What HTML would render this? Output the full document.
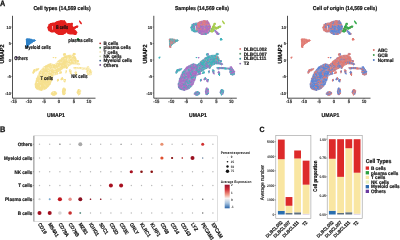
<!DOCTYPE html><html><head><meta charset="utf-8"><style>html,body{margin:0;padding:0;background:#fff;width:400px;height:240px;overflow:hidden}svg{display:block;will-change:transform;text-rendering:geometricPrecision}</style></head><body><div id="w"><svg width="400" height="240" viewBox="0 0 400 240" font-family="Liberation Sans, sans-serif" font-weight="bold">
<rect width="400" height="240" fill="#fff"/>
<text x="0.00" y="6.16" font-size="7.92" text-anchor="start" fill="#111"  textLength="5.20" lengthAdjust="spacingAndGlyphs" stroke="#111" stroke-width="0.28">A</text>
<path d="M52.6,27.0C52.8,25.8 53.5,23.6 54.5,22.6C55.5,21.6 58.0,20.8 59.5,20.5C61.0,20.2 63.4,20.2 64.5,20.8C65.6,21.3 66.5,22.6 67.0,23.9C67.5,25.2 67.8,28.1 67.6,29.5C67.4,30.9 66.8,32.4 65.8,33.2C64.7,34.1 62.2,35.1 60.8,35.1C59.2,35.1 56.9,33.9 55.8,33.2C54.6,32.6 53.7,31.7 53.2,30.8C52.8,29.8 52.4,28.2 52.6,27.0Z" fill="#e3211f" opacity="1.0"/>
<path d="M47.6,27.6C47.8,26.7 48.3,24.9 49.0,24.2C49.7,23.5 51.2,23.0 52.0,22.8C52.8,22.6 54.2,22.3 54.5,22.6C54.8,22.9 54.3,24.0 54.0,24.5C53.7,25.0 52.8,25.4 52.5,25.8C52.2,26.2 51.8,26.9 51.8,27.5C51.8,28.1 52.2,28.9 52.5,29.5C52.8,30.1 53.9,31.1 54.0,31.5C54.1,31.9 53.6,32.5 53.0,32.5C52.4,32.5 50.8,31.9 50.0,31.5C49.2,31.1 48.4,30.6 48.0,30.0C47.6,29.4 47.5,28.5 47.6,27.6Z" fill="#e3211f" opacity="1.0"/>
<path d="M67.0,31.5C66.9,30.7 68.4,28.3 69.0,27.0C69.6,25.7 70.7,23.5 71.3,23.0C71.9,22.5 73.0,23.0 73.0,23.6C73.0,24.2 71.3,26.7 71.5,27.2C71.7,27.7 73.1,27.0 74.0,26.8C74.9,26.6 77.2,25.5 77.8,25.6C78.4,25.7 78.8,26.6 78.0,27.2C77.2,27.8 73.8,28.7 72.5,29.5C71.2,30.3 70.3,32.2 69.5,32.5C68.7,32.8 67.1,32.3 67.0,31.5Z" fill="#e3211f" opacity="1.0"/>
<path d="M71.5,30.0C71.7,29.8 72.2,29.9 73.0,30.5C73.8,31.1 76.2,33.3 76.5,34.0C76.8,34.7 75.8,35.3 75.0,35.0C74.2,34.7 72.0,32.5 71.5,31.8C71.0,31.1 71.3,30.2 71.5,30.0Z" fill="#e3211f" opacity="1.0"/>
<path d="M79.0,21.0C78.8,20.5 79.6,20.4 80.0,20.8C80.4,21.2 81.6,23.1 81.8,23.6C82.0,24.1 81.4,24.7 81.0,24.3C80.6,23.9 79.2,21.5 79.0,21.0Z" fill="#e3211f" opacity="1.0"/>
<path d="M79.2,39.5C79.2,39.6 79.2,39.8 79.1,39.9C79.1,40.0 78.9,40.2 78.8,40.3C78.8,40.4 78.6,40.5 78.5,40.5C78.3,40.6 78.1,40.6 78.0,40.6C77.9,40.6 77.7,40.6 77.5,40.5C77.4,40.5 77.2,40.4 77.2,40.3C77.1,40.2 76.9,40.0 76.9,39.9C76.8,39.8 76.8,39.6 76.8,39.5C76.8,39.4 76.8,39.2 76.9,39.1C76.9,39.0 77.1,38.8 77.2,38.7C77.2,38.6 77.4,38.5 77.5,38.5C77.7,38.4 77.9,38.4 78.0,38.4C78.1,38.4 78.3,38.4 78.5,38.5C78.6,38.5 78.8,38.6 78.8,38.7C78.9,38.8 79.1,39.0 79.1,39.1C79.2,39.2 79.2,39.4 79.2,39.5Z" fill="#2f9a48" opacity="1.0"/>
<path d="M26.3,38.5C27.1,37.9 29.5,38.7 31.0,39.0C32.5,39.3 35.9,39.8 36.2,40.2C36.5,40.7 33.9,41.4 33.0,42.0C32.1,42.6 30.7,43.5 30.0,44.0C29.3,44.5 28.6,44.4 28.3,45.0C28.0,45.6 28.3,47.4 28.0,47.7C27.7,48.0 26.9,48.0 26.6,47.3C26.3,46.6 26.0,44.3 26.0,43.0C26.0,41.7 25.6,39.1 26.3,38.5Z" fill="#2f82c8" opacity="1.0"/>
<path d="M17.2,57.5C17.2,57.6 17.2,57.7 17.1,57.8C17.1,57.8 17.1,57.9 17.0,58.0C16.9,58.1 16.8,58.1 16.8,58.1C16.7,58.2 16.6,58.2 16.5,58.2C16.4,58.2 16.3,58.2 16.2,58.1C16.2,58.1 16.1,58.1 16.0,58.0C15.9,57.9 15.9,57.8 15.9,57.8C15.8,57.7 15.8,57.6 15.8,57.5C15.8,57.4 15.8,57.3 15.9,57.2C15.9,57.2 15.9,57.1 16.0,57.0C16.1,56.9 16.2,56.9 16.2,56.9C16.3,56.8 16.4,56.8 16.5,56.8C16.6,56.8 16.7,56.8 16.8,56.9C16.8,56.9 16.9,56.9 17.0,57.0C17.1,57.1 17.1,57.2 17.1,57.2C17.2,57.3 17.2,57.4 17.2,57.5Z" fill="#7a4aa0" opacity="1.0"/>
<path d="M34.8,85.0C34.9,83.4 35.9,79.9 36.5,78.0C37.1,76.1 38.0,74.2 39.0,72.5C40.0,70.8 41.9,68.3 43.5,67.0C45.1,65.7 47.9,63.9 49.5,63.5C51.1,63.1 53.2,63.8 54.0,64.5C54.8,65.2 54.6,66.6 54.5,68.0C54.4,69.4 53.7,72.5 53.5,74.0C53.3,75.5 53.4,76.7 53.0,78.0C52.6,79.3 51.7,81.7 51.0,83.0C50.3,84.3 49.5,86.0 48.5,87.0C47.5,88.0 45.4,89.5 44.0,90.0C42.6,90.5 40.7,90.7 39.5,90.5C38.3,90.3 36.7,89.3 36.0,88.5C35.3,87.7 34.7,86.6 34.8,85.0Z" fill="#f6e298" opacity="1.0"/>
<path d="M52.5,66.5C52.8,64.9 55.1,64.0 56.2,63.0C57.4,62.0 58.9,60.5 60.0,59.5C61.1,58.5 62.3,57.3 63.8,56.6C65.2,55.9 67.7,54.8 69.4,54.7C71.1,54.6 73.9,55.4 75.0,56.0C76.1,56.6 76.3,58.1 76.5,59.0C76.7,59.9 76.8,61.3 76.0,62.2C75.2,63.1 73.1,64.0 71.2,65.0C69.4,66.0 65.7,67.7 63.8,68.8C61.8,69.8 59.4,71.3 58.0,72.0C56.6,72.7 55.2,74.2 54.4,73.4C53.6,72.6 52.2,68.1 52.5,66.5Z" fill="#f6e399" opacity="1.0"/>
<path d="M86.8,67.0C87.1,66.2 88.0,66.4 88.5,66.7C89.0,67.0 89.5,68.2 90.0,69.0C90.5,69.8 91.8,71.1 92.0,72.0C92.2,72.9 92.1,74.5 91.5,75.0C90.9,75.5 88.8,75.5 88.0,75.0C87.2,74.5 86.7,73.2 86.5,72.0C86.3,70.8 86.5,67.8 86.8,67.0Z" fill="#f8e7a7" opacity="1.0"/>
<path d="M32.5,73.0C32.5,72.4 32.8,70.7 33.5,70.0C34.2,69.3 36.1,68.7 37.0,68.5C37.9,68.3 39.4,68.4 39.5,68.6C39.6,68.8 38.7,69.6 38.0,70.0C37.3,70.4 35.7,70.9 35.0,71.5C34.3,72.1 33.9,73.8 33.5,74.0C33.1,74.2 32.5,73.6 32.5,73.0Z" fill="#f6e294" opacity="1.0"/>
<path d="M73.0,61.5C74.0,61.4 78.5,62.8 79.5,63.3C80.5,63.8 80.5,64.9 79.5,65.0C78.5,65.1 74.0,64.3 73.0,63.8C72.0,63.3 72.0,61.6 73.0,61.5Z" fill="#f8e8a9" opacity="1.0"/>
<path d="M74.5,67.0C76.4,66.8 85.1,67.4 87.0,67.8C88.9,68.2 88.9,69.2 87.0,69.4C85.1,69.6 76.4,69.2 74.5,68.8C72.6,68.4 72.6,67.2 74.5,67.0Z" fill="#f8e8aa" opacity="1.0"/>
<path d="M75.3,53.9C75.3,54.0 75.3,54.2 75.2,54.3C75.1,54.4 75.0,54.6 74.9,54.7C74.8,54.8 74.6,54.9 74.5,54.9C74.4,55.0 74.1,55.0 74.0,55.0C73.9,55.0 73.6,55.0 73.5,54.9C73.4,54.9 73.2,54.8 73.1,54.7C73.0,54.6 72.9,54.4 72.8,54.3C72.7,54.2 72.7,54.0 72.7,53.9C72.7,53.8 72.7,53.6 72.8,53.5C72.9,53.4 73.0,53.2 73.1,53.1C73.2,53.0 73.4,52.9 73.5,52.9C73.6,52.8 73.9,52.8 74.0,52.8C74.1,52.8 74.4,52.8 74.5,52.9C74.6,52.9 74.8,53.0 74.9,53.1C75.0,53.2 75.1,53.4 75.2,53.5C75.3,53.6 75.3,53.8 75.3,53.9Z" fill="#f6e08e" opacity="1.0"/>
<path d="M66.1,54.0C66.1,54.1 66.1,54.3 66.0,54.4C66.0,54.5 65.8,54.6 65.7,54.7C65.6,54.8 65.4,54.9 65.2,55.0C65.1,55.1 64.8,55.2 64.7,55.2C64.5,55.2 64.2,55.2 64.0,55.2C63.9,55.2 63.6,55.2 63.5,55.1C63.4,55.1 63.2,55.0 63.1,54.9C63.0,54.8 62.9,54.7 62.9,54.6C62.9,54.5 62.9,54.3 63.0,54.2C63.0,54.1 63.2,54.0 63.3,53.9C63.4,53.8 63.6,53.7 63.8,53.6C63.9,53.5 64.2,53.4 64.3,53.4C64.5,53.4 64.8,53.4 65.0,53.4C65.1,53.4 65.4,53.4 65.5,53.5C65.6,53.5 65.8,53.6 65.9,53.7C66.0,53.8 66.1,53.9 66.1,54.0Z" fill="#f6e08e" opacity="1.0"/>
<path d="M71.4,71.3C71.4,71.6 71.5,72.0 71.6,72.2C71.6,72.5 71.6,72.9 71.6,73.1C71.6,73.3 71.5,73.6 71.5,73.7C71.4,73.9 71.3,74.0 71.2,74.0C71.1,74.0 70.9,74.0 70.8,73.9C70.7,73.8 70.5,73.6 70.4,73.4C70.2,73.3 70.1,72.9 70.0,72.7C69.8,72.4 69.7,72.0 69.6,71.7C69.6,71.4 69.5,71.0 69.4,70.8C69.4,70.5 69.4,70.1 69.4,69.9C69.4,69.7 69.5,69.4 69.5,69.3C69.6,69.1 69.7,69.0 69.8,69.0C69.9,69.0 70.1,69.0 70.2,69.1C70.3,69.2 70.5,69.4 70.6,69.6C70.8,69.7 70.9,70.1 71.0,70.3C71.2,70.6 71.3,71.0 71.4,71.3Z" fill="#f6e297" opacity="1.0"/>
<path d="M76.9,73.0C76.9,73.3 77.0,73.7 77.1,73.9C77.1,74.2 77.1,74.6 77.1,74.8C77.1,75.0 77.0,75.3 77.0,75.4C76.9,75.6 76.8,75.7 76.7,75.7C76.6,75.7 76.4,75.7 76.3,75.6C76.2,75.5 76.0,75.3 75.9,75.1C75.7,75.0 75.6,74.6 75.5,74.4C75.3,74.1 75.2,73.7 75.1,73.4C75.1,73.1 75.0,72.7 74.9,72.5C74.9,72.2 74.9,71.8 74.9,71.6C74.9,71.4 75.0,71.1 75.0,71.0C75.1,70.8 75.2,70.7 75.3,70.7C75.4,70.7 75.6,70.7 75.7,70.8C75.8,70.9 76.0,71.1 76.1,71.3C76.3,71.4 76.4,71.8 76.5,72.0C76.7,72.3 76.8,72.7 76.9,73.0Z" fill="#f8e8ab" opacity="1.0"/>
<path d="M63.3,78.8C63.3,78.9 63.3,79.1 63.2,79.2C63.1,79.4 63.0,79.6 62.9,79.7C62.8,79.8 62.6,79.9 62.5,80.0C62.4,80.0 62.1,80.0 62.0,80.0C61.9,80.0 61.6,80.0 61.5,80.0C61.4,79.9 61.2,79.8 61.1,79.7C61.0,79.6 60.9,79.4 60.8,79.2C60.7,79.1 60.7,78.9 60.7,78.8C60.7,78.6 60.7,78.4 60.8,78.3C60.9,78.1 61.0,77.9 61.1,77.8C61.2,77.7 61.4,77.6 61.5,77.5C61.6,77.5 61.9,77.5 62.0,77.5C62.1,77.5 62.4,77.5 62.5,77.5C62.6,77.6 62.8,77.7 62.9,77.8C63.0,77.9 63.1,78.1 63.2,78.3C63.3,78.4 63.3,78.6 63.3,78.8Z" fill="#f7e39a" opacity="1.0"/>
<path d="M65.7,80.5C65.7,80.7 65.7,80.9 65.6,81.1C65.6,81.3 65.4,81.5 65.3,81.6C65.3,81.8 65.1,81.9 65.0,82.0C64.8,82.0 64.6,82.1 64.5,82.1C64.4,82.1 64.2,82.0 64.0,82.0C63.9,81.9 63.7,81.8 63.7,81.6C63.6,81.5 63.4,81.3 63.4,81.1C63.3,80.9 63.3,80.7 63.3,80.5C63.3,80.3 63.3,80.1 63.4,79.9C63.4,79.7 63.6,79.5 63.7,79.4C63.7,79.2 63.9,79.1 64.0,79.0C64.2,79.0 64.4,78.9 64.5,78.9C64.6,78.9 64.8,79.0 65.0,79.0C65.1,79.1 65.3,79.2 65.3,79.4C65.4,79.5 65.6,79.7 65.6,79.9C65.7,80.1 65.7,80.3 65.7,80.5Z" fill="#f7e59f" opacity="1.0"/>
<path d="M58.1,73.4C58.1,73.5 58.1,73.7 58.0,73.8C58.0,73.9 57.8,74.1 57.7,74.2C57.5,74.3 57.3,74.5 57.0,74.6C56.8,74.7 56.5,74.9 56.3,75.0C56.0,75.0 55.7,75.1 55.5,75.2C55.2,75.2 54.9,75.3 54.7,75.3C54.5,75.3 54.3,75.2 54.2,75.2C54.1,75.1 54.0,75.0 53.9,75.0C53.9,74.9 53.9,74.7 54.0,74.6C54.0,74.5 54.2,74.3 54.3,74.2C54.5,74.1 54.7,73.9 55.0,73.8C55.2,73.7 55.5,73.5 55.7,73.4C56.0,73.4 56.3,73.3 56.5,73.2C56.8,73.2 57.1,73.1 57.3,73.1C57.5,73.1 57.7,73.2 57.8,73.2C57.9,73.3 58.0,73.4 58.1,73.4Z" fill="#f7e5a1" opacity="1.0"/>
<path d="M61.9,72.0C61.9,72.1 61.9,72.2 61.9,72.3C61.9,72.4 61.8,72.6 61.7,72.7C61.6,72.8 61.4,72.9 61.3,73.0C61.2,73.1 60.9,73.2 60.8,73.3C60.6,73.3 60.4,73.4 60.2,73.4C60.1,73.4 59.8,73.4 59.7,73.4C59.6,73.4 59.4,73.3 59.3,73.3C59.2,73.2 59.1,73.1 59.1,73.0C59.1,72.9 59.1,72.8 59.1,72.7C59.1,72.6 59.2,72.4 59.3,72.3C59.4,72.2 59.6,72.1 59.7,72.0C59.8,71.9 60.1,71.8 60.2,71.7C60.4,71.7 60.6,71.6 60.8,71.6C60.9,71.6 61.2,71.6 61.3,71.6C61.4,71.6 61.6,71.7 61.7,71.7C61.8,71.8 61.9,71.9 61.9,72.0Z" fill="#f6e297" opacity="1.0"/>
<path d="M58.8,80.3C58.7,80.4 58.6,80.6 58.5,80.7C58.4,80.8 58.3,81.0 58.2,81.1C58.1,81.1 58.0,81.2 57.9,81.2C57.8,81.3 57.6,81.3 57.6,81.2C57.5,81.2 57.4,81.1 57.3,81.0C57.2,80.9 57.2,80.8 57.2,80.7C57.1,80.5 57.1,80.4 57.1,80.2C57.1,80.1 57.2,79.9 57.2,79.7C57.3,79.6 57.4,79.4 57.5,79.3C57.6,79.2 57.7,79.0 57.8,78.9C57.9,78.9 58.0,78.8 58.1,78.8C58.2,78.7 58.4,78.7 58.4,78.8C58.5,78.8 58.6,78.9 58.7,79.0C58.8,79.1 58.8,79.2 58.8,79.3C58.9,79.5 58.9,79.6 58.9,79.8C58.9,79.9 58.8,80.1 58.8,80.3Z" fill="#f6e08e" opacity="1.0"/>
<path d="M54.0,57.4C54.0,57.5 54.0,57.5 54.0,57.6C53.9,57.6 53.9,57.7 53.9,57.8C53.8,57.8 53.7,57.8 53.7,57.9C53.6,57.9 53.6,57.9 53.5,57.9C53.4,57.9 53.4,57.9 53.3,57.9C53.3,57.8 53.2,57.8 53.1,57.8C53.1,57.7 53.1,57.6 53.0,57.6C53.0,57.5 53.0,57.5 53.0,57.4C53.0,57.3 53.0,57.3 53.0,57.2C53.1,57.2 53.1,57.1 53.1,57.0C53.2,57.0 53.3,57.0 53.3,56.9C53.4,56.9 53.4,56.9 53.5,56.9C53.6,56.9 53.6,56.9 53.7,56.9C53.7,57.0 53.8,57.0 53.9,57.0C53.9,57.1 53.9,57.2 54.0,57.2C54.0,57.3 54.0,57.3 54.0,57.4Z" fill="#f6e08e" opacity="1.0"/>
<path d="M56.3,57.4C56.3,57.5 56.3,57.5 56.3,57.6C56.2,57.6 56.2,57.7 56.2,57.8C56.1,57.8 56.0,57.8 56.0,57.9C55.9,57.9 55.9,57.9 55.8,57.9C55.7,57.9 55.7,57.9 55.6,57.9C55.6,57.8 55.5,57.8 55.4,57.8C55.4,57.7 55.4,57.6 55.3,57.6C55.3,57.5 55.3,57.5 55.3,57.4C55.3,57.3 55.3,57.3 55.3,57.2C55.4,57.2 55.4,57.1 55.4,57.0C55.5,57.0 55.6,57.0 55.6,56.9C55.7,56.9 55.7,56.9 55.8,56.9C55.9,56.9 55.9,56.9 56.0,56.9C56.0,57.0 56.1,57.0 56.2,57.0C56.2,57.1 56.2,57.2 56.3,57.2C56.3,57.3 56.3,57.3 56.3,57.4Z" fill="#f6e08e" opacity="1.0"/>
<path d="M78.9,61.3C78.9,61.4 78.9,61.6 78.8,61.7C78.8,61.8 78.7,61.9 78.6,62.0C78.5,62.1 78.3,62.2 78.2,62.2C78.1,62.3 77.9,62.3 77.8,62.3C77.7,62.3 77.5,62.3 77.4,62.2C77.3,62.2 77.1,62.1 77.0,62.0C76.9,61.9 76.8,61.8 76.8,61.7C76.7,61.6 76.7,61.4 76.7,61.3C76.7,61.2 76.7,61.0 76.8,60.9C76.8,60.8 76.9,60.7 77.0,60.6C77.1,60.5 77.3,60.4 77.4,60.4C77.5,60.3 77.7,60.3 77.8,60.3C77.9,60.3 78.1,60.3 78.2,60.4C78.3,60.4 78.5,60.5 78.6,60.6C78.7,60.7 78.8,60.8 78.8,60.9C78.9,61.0 78.9,61.2 78.9,61.3Z" fill="#f6e08e" opacity="1.0"/>
<path d="M68.0,66.9C68.1,67.0 68.1,67.1 68.1,67.2C68.1,67.3 68.1,67.5 68.0,67.6C68.0,67.7 67.9,67.8 67.8,67.9C67.7,68.0 67.5,68.1 67.4,68.2C67.3,68.3 67.1,68.3 67.0,68.4C66.8,68.4 66.7,68.4 66.5,68.4C66.4,68.4 66.3,68.4 66.2,68.3C66.1,68.3 66.0,68.2 66.0,68.1C65.9,68.0 65.9,67.9 65.9,67.8C65.9,67.7 65.9,67.5 66.0,67.4C66.0,67.3 66.1,67.2 66.2,67.1C66.3,67.0 66.5,66.9 66.6,66.8C66.7,66.7 66.9,66.7 67.0,66.6C67.2,66.6 67.3,66.6 67.5,66.6C67.6,66.6 67.7,66.6 67.8,66.7C67.9,66.7 68.0,66.8 68.0,66.9Z" fill="#f6e08e" opacity="1.0"/>
<path d="M66.8,72.1C66.8,72.3 66.7,72.5 66.6,72.7C66.6,72.8 66.5,73.0 66.4,73.1C66.3,73.3 66.2,73.4 66.1,73.4C66.0,73.5 65.8,73.5 65.7,73.5C65.6,73.5 65.5,73.4 65.5,73.3C65.4,73.2 65.3,73.1 65.3,72.9C65.2,72.8 65.2,72.6 65.2,72.4C65.2,72.3 65.2,72.0 65.2,71.9C65.2,71.7 65.3,71.5 65.4,71.3C65.4,71.2 65.5,71.0 65.6,70.9C65.7,70.7 65.8,70.6 65.9,70.6C66.0,70.5 66.2,70.5 66.3,70.5C66.4,70.5 66.5,70.6 66.5,70.7C66.6,70.8 66.7,70.9 66.7,71.1C66.8,71.2 66.8,71.4 66.8,71.6C66.8,71.7 66.8,72.0 66.8,72.1Z" fill="#f7e5a1" opacity="1.0"/>
<path d="M57.0,92.8C57.0,93.0 57.0,93.3 56.9,93.6C56.8,93.8 56.5,94.1 56.3,94.3C56.1,94.5 55.7,94.8 55.4,94.9C55.1,95.1 54.6,95.2 54.2,95.3C53.9,95.3 53.4,95.4 53.1,95.3C52.7,95.3 52.3,95.2 52.0,95.1C51.7,95.0 51.4,94.7 51.2,94.6C51.0,94.4 50.9,94.1 50.8,93.8C50.8,93.6 50.8,93.3 50.9,93.0C51.0,92.8 51.3,92.5 51.5,92.3C51.7,92.1 52.1,91.8 52.4,91.7C52.7,91.5 53.2,91.4 53.6,91.3C53.9,91.3 54.4,91.2 54.7,91.3C55.1,91.3 55.5,91.4 55.8,91.5C56.1,91.6 56.4,91.9 56.6,92.0C56.8,92.2 56.9,92.5 57.0,92.8Z" fill="#f6e192" opacity="1.0"/>
<path d="M65.8,91.2C65.8,91.7 65.7,92.3 65.7,92.7C65.6,93.1 65.4,93.6 65.2,93.9C65.1,94.2 64.8,94.6 64.6,94.8C64.4,94.9 64.1,95.0 63.9,95.0C63.7,95.0 63.4,94.9 63.2,94.8C63.0,94.6 62.7,94.2 62.6,93.9C62.4,93.6 62.2,93.1 62.1,92.7C62.1,92.3 62.0,91.7 62.0,91.2C62.0,90.8 62.1,90.2 62.1,89.8C62.2,89.4 62.4,88.9 62.6,88.6C62.7,88.3 63.0,87.9 63.2,87.7C63.4,87.6 63.7,87.5 63.9,87.5C64.1,87.5 64.4,87.6 64.6,87.7C64.8,87.9 65.1,88.3 65.2,88.6C65.4,88.9 65.6,89.4 65.7,89.8C65.7,90.2 65.8,90.8 65.8,91.2Z" fill="#f6e296" opacity="1.0"/>
<path d="M81.0,92.0C81.0,92.3 80.9,92.8 80.8,93.1C80.8,93.5 80.6,93.9 80.4,94.1C80.3,94.4 80.0,94.6 79.8,94.8C79.6,94.9 79.2,95.0 79.0,95.0C78.8,95.0 78.4,94.9 78.2,94.8C78.0,94.6 77.7,94.4 77.6,94.1C77.4,93.9 77.2,93.5 77.2,93.1C77.1,92.8 77.0,92.3 77.0,92.0C77.0,91.7 77.1,91.2 77.2,90.9C77.2,90.5 77.4,90.1 77.6,89.9C77.7,89.6 78.0,89.4 78.2,89.2C78.4,89.1 78.8,89.0 79.0,89.0C79.2,89.0 79.6,89.1 79.8,89.2C80.0,89.4 80.3,89.6 80.4,89.9C80.6,90.1 80.8,90.5 80.8,90.9C80.9,91.2 81.0,91.7 81.0,92.0Z" fill="#f7e39a" opacity="1.0"/>
<path d="M66.0,24.0C66.6,22.8 69.0,22.9 70.0,23.0C71.0,23.1 71.9,24.2 72.5,25.0C73.1,25.8 73.2,27.4 74.0,28.5C74.8,29.6 77.5,31.6 77.5,32.5C77.5,33.4 75.4,34.3 74.0,34.5C72.6,34.7 69.2,34.5 68.0,34.0C66.8,33.5 66.3,32.5 66.0,31.0C65.7,29.5 65.4,25.2 66.0,24.0Z" fill="#e3211f"/>
<path d="M66.8 26.1h0M51.6 30.8h0M70.2 31.1h0M50.6 28.7h0M57.9 29.9h0M65.3 23.1h0M52.9 31.6h0M64.3 27.5h0M50.6 25.7h0M60.7 26.9h0M72.5 27.1h0M67.2 27.5h0M69.5 27.3h0M70.0 27.8h0M56.3 22.5h0M53.9 27.3h0M57.0 30.8h0M64.7 29.9h0M55.2 32.1h0M57.8 29.3h0M52.7 31.5h0M64.0 26.4h0M60.7 27.3h0M65.4 24.0h0M57.4 26.2h0M75.5 34.3h0M60.5 31.3h0M69.8 26.4h0M59.6 28.4h0M71.1 26.4h0M56.8 22.4h0M51.2 24.6h0M50.9 31.4h0M76.6 26.3h0M64.6 27.1h0M62.2 33.6h0M50.9 28.2h0M62.5 33.5h0M52.3 24.8h0M51.2 28.3h0M70.6 30.2h0M58.8 34.2h0M57.8 31.4h0M53.0 31.1h0M59.1 25.4h0M63.6 28.7h0M57.3 28.1h0M64.3 22.6h0M63.0 31.5h0M55.5 28.2h0M54.0 25.0h0M55.1 24.4h0M68.9 29.1h0M70.7 27.1h0M71.1 23.4h0M61.6 31.1h0M54.6 28.3h0M49.8 29.8h0M52.8 25.5h0M50.6 23.6h0" stroke="#e3211f" stroke-width="1.24" stroke-linecap="round" fill="none"/>
<path d="M41.0 78.7h0M53.7 71.5h0M67.2 64.2h0M50.2 80.2h0M66.4 59.0h0M35.0 70.7h0M63.8 58.1h0M49.6 79.5h0M67.7 62.5h0M36.7 70.2h0M67.2 66.8h0M41.0 78.4h0M67.8 66.6h0M54.0 65.8h0M33.8 70.3h0M86.9 69.1h0M35.8 87.3h0M42.5 84.3h0M41.0 71.7h0M59.9 73.2h0M64.5 81.6h0M64.6 59.9h0M42.5 71.9h0M54.7 91.6h0M71.4 55.8h0M64.1 93.2h0M85.6 68.5h0M74.5 60.1h0M87.9 70.4h0M48.1 74.9h0M79.0 90.5h0M53.8 65.5h0M57.1 63.4h0M75.5 60.1h0M49.1 77.2h0M39.2 83.8h0M63.3 66.4h0M48.3 69.6h0M50.4 63.8h0M50.7 64.6h0M53.8 69.8h0M47.4 85.1h0M47.6 67.7h0M63.1 64.0h0M62.4 91.5h0M56.5 93.6h0M42.4 83.9h0M43.7 82.3h0M51.8 71.4h0M88.4 72.9h0M49.4 74.6h0M44.1 80.1h0M73.2 57.7h0M38.1 89.4h0M53.1 74.2h0M36.3 69.1h0M65.3 63.1h0M65.5 57.5h0M58.4 71.2h0M76.0 61.9h0M45.5 71.8h0M76.9 68.0h0M43.5 73.6h0M51.1 66.7h0M88.3 67.0h0M69.1 63.5h0M64.5 67.5h0M47.8 74.4h0M90.3 69.6h0M65.8 71.4h0M69.1 56.4h0M63.5 62.6h0M64.5 65.2h0M91.7 71.6h0M72.4 55.8h0M44.7 68.5h0M40.9 77.4h0M77.2 60.6h0M39.9 76.4h0M55.3 71.7h0M38.9 83.0h0M57.2 66.5h0M58.6 70.8h0M69.5 62.3h0M78.7 68.5h0M79.9 91.1h0M75.8 62.1h0M59.6 71.0h0M42.6 85.5h0M58.0 68.0h0M44.8 75.2h0M49.5 74.8h0M78.0 61.2h0M48.5 72.8h0M43.6 85.8h0M88.1 74.4h0M45.6 66.1h0M48.8 81.4h0M50.6 82.3h0M56.4 73.5h0M64.2 55.2h0M49.1 74.3h0M57.2 64.2h0M62.5 66.1h0M54.1 67.7h0M36.9 88.8h0M82.5 68.4h0M70.1 58.8h0M63.9 94.7h0M43.5 79.9h0M71.7 63.4h0M59.3 64.2h0M52.9 95.1h0M36.9 82.6h0M59.5 64.8h0M66.8 68.4h0M69.0 55.9h0M63.9 90.0h0M50.9 80.1h0M46.2 88.3h0M35.6 86.7h0M37.2 85.2h0M73.2 58.0h0M56.5 73.7h0M52.7 72.1h0M53.0 93.6h0M42.8 88.3h0M53.3 73.4h0M42.1 85.3h0M77.9 60.9h0M47.6 66.0h0M66.5 66.0h0M67.2 57.5h0M40.3 80.5h0M47.3 72.6h0M64.8 90.0h0M41.7 81.8h0" stroke="#f6e08e" stroke-width="1.24" stroke-linecap="round" fill="none"/>
<path d="M78.3 94.8h0M48.9 72.2h0M46.8 72.4h0M75.8 71.5h0M50.1 68.9h0M41.4 73.3h0M87.0 72.3h0M48.5 77.9h0M77.9 63.2h0M46.6 76.7h0M54.0 71.4h0M65.6 91.9h0M65.3 79.5h0M33.1 71.3h0M59.5 73.3h0M75.4 68.6h0M43.7 89.1h0M71.6 63.6h0M76.2 74.4h0M73.6 63.1h0M60.3 61.1h0M52.1 74.3h0M49.9 69.7h0M61.3 79.6h0M67.7 59.3h0M46.6 75.6h0M79.7 68.0h0M40.9 73.5h0M57.2 62.2h0M56.2 73.6h0M47.5 73.7h0M78.7 67.6h0M47.5 77.3h0M51.9 64.5h0M48.1 76.9h0" stroke="#fbf1c8" stroke-width="1.24" stroke-linecap="round" fill="none"/>
<path d="M27.6 40.9h0M26.8 46.0h0M26.8 43.9h0M31.1 39.9h0M32.0 41.7h0M26.9 47.0h0M26.6 47.0h0M29.1 39.6h0M29.9 43.7h0M34.5 40.3h0" stroke="#2f82c8" stroke-width="1.24" stroke-linecap="round" fill="none"/>
<path d="M78.3 38.5h0" stroke="#2f9a48" stroke-width="1.24" stroke-linecap="round" fill="none"/>
<path d="M34.3 72.1h0M78.5 90.3h0M87.8 74.1h0M52.8 73.4h0M59.8 62.8h0M79.1 68.3h0M70.3 70.5h0M53.1 66.1h0M44.8 75.1h0M44.8 76.2h0M60.2 67.4h0M65.1 66.4h0M40.7 88.1h0M64.9 81.8h0M49.9 67.5h0M64.3 91.7h0M57.9 62.5h0M61.4 72.8h0M70.9 61.7h0M41.9 84.4h0M59.8 64.0h0M70.7 62.5h0M47.1 85.9h0M69.4 70.0h0M44.9 89.0h0M68.6 55.8h0M65.9 61.7h0M50.5 65.5h0M40.9 80.4h0M53.2 72.6h0M47.1 67.0h0M49.1 77.6h0M52.6 94.1h0M36.5 81.2h0M62.1 66.0h0M61.5 67.6h0M45.5 66.8h0M34.3 71.4h0M39.7 85.1h0M79.8 93.8h0M43.2 68.2h0M45.0 76.3h0M58.7 65.3h0M53.7 67.6h0M36.5 86.7h0M64.1 63.7h0M40.9 89.2h0M75.2 60.6h0M62.0 58.1h0M74.1 57.4h0M59.0 60.7h0M67.1 65.3h0M48.7 64.9h0M58.5 80.6h0M75.0 72.5h0M53.0 91.8h0M48.4 75.5h0M47.1 82.1h0M66.3 71.1h0M43.1 84.6h0M74.7 54.4h0M53.9 69.4h0M68.4 64.2h0M62.5 58.1h0M68.0 62.8h0M37.9 78.0h0M53.8 69.2h0M45.4 69.7h0M40.8 87.7h0M38.1 77.9h0M61.0 71.9h0M36.9 83.1h0M59.4 65.6h0M45.0 75.3h0M48.5 70.9h0M62.8 61.7h0M41.1 84.3h0M70.2 70.8h0M44.9 76.9h0M62.8 59.0h0M64.5 67.1h0M51.2 68.2h0M79.3 67.7h0M60.4 62.7h0M49.9 70.1h0M49.1 75.8h0M36.1 86.9h0M51.1 75.4h0M58.1 64.9h0M80.7 90.9h0M39.6 83.7h0M75.7 63.0h0M75.6 74.3h0M53.8 66.3h0M87.1 71.7h0M65.8 59.9h0M44.1 87.8h0M43.0 72.6h0M72.9 55.6h0M60.0 73.4h0M39.1 80.4h0M47.1 66.3h0M69.2 57.3h0M56.4 65.8h0M40.9 85.4h0M34.6 69.7h0M57.3 73.9h0M63.1 66.6h0M49.7 73.0h0M41.5 90.2h0M45.9 70.3h0M71.1 70.8h0M69.7 59.4h0M41.7 78.0h0M64.2 79.7h0M59.7 64.0h0M62.6 91.2h0M68.6 62.8h0M71.6 63.3h0M41.7 71.3h0M33.0 72.5h0M59.5 67.5h0M62.6 66.2h0M65.1 65.9h0M41.5 86.6h0M35.7 84.4h0M90.0 71.3h0M68.8 65.1h0M59.1 62.7h0M48.3 78.0h0M60.4 64.9h0M77.4 92.6h0M53.6 67.7h0M51.8 79.8h0M52.6 72.5h0M43.2 79.7h0M45.0 86.2h0M55.8 73.7h0M53.9 66.6h0M75.0 53.5h0M59.7 65.2h0M46.1 84.5h0M48.5 76.7h0" stroke="#f6e08e" stroke-width="1.24" stroke-linecap="round" fill="none"/>
<path d="M60.3 60.0h0M39.4 74.9h0M75.1 72.5h0M72.9 58.9h0M47.3 67.7h0M80.1 68.8h0M53.1 75.8h0M63.2 78.7h0M50.7 66.9h0M46.4 73.0h0M38.4 76.5h0M49.2 72.3h0M71.2 64.5h0M53.6 69.7h0M79.7 68.6h0M82.8 68.0h0M42.1 70.8h0M44.1 74.6h0M48.9 68.7h0M55.0 69.6h0M45.2 77.0h0M89.0 71.1h0M53.3 70.3h0M62.8 58.2h0M87.1 67.0h0M74.9 63.5h0M60.2 62.8h0M77.2 64.0h0M77.7 63.0h0M63.2 65.1h0M42.9 68.7h0M77.0 63.3h0M74.5 59.2h0M49.5 68.7h0M70.8 59.4h0M46.4 72.7h0M63.8 89.5h0M50.8 72.3h0M58.0 62.0h0M87.0 68.9h0M55.5 64.9h0M88.4 70.1h0" stroke="#fbf1c8" stroke-width="1.24" stroke-linecap="round" fill="none"/>
<path d="M57.9 29.0h0M77.2 27.0h0M53.6 31.0h0M64.2 21.1h0M64.1 27.3h0M58.2 29.3h0M63.4 24.8h0M65.1 26.9h0M73.4 28.8h0M63.8 32.7h0M74.2 34.2h0M48.3 27.8h0M56.5 23.9h0M55.6 26.5h0M50.3 31.0h0M68.1 30.3h0M75.2 27.8h0M50.6 31.2h0M57.9 33.9h0M51.3 31.7h0M53.3 30.9h0M57.0 25.7h0M65.1 28.9h0M55.5 25.3h0M64.5 29.6h0M58.8 28.1h0M59.6 31.6h0M49.9 26.7h0M58.2 22.9h0M64.8 29.7h0M70.1 29.6h0M65.0 22.1h0M56.6 28.2h0M61.1 31.2h0M60.8 20.7h0M63.5 21.8h0M48.2 27.0h0M63.4 30.4h0M65.5 32.7h0M64.6 29.6h0M57.2 21.6h0M59.6 23.9h0M55.6 29.1h0M50.4 26.5h0M64.3 31.1h0M57.6 26.4h0M62.3 27.2h0M75.3 26.5h0M66.7 27.9h0M49.7 27.6h0" stroke="#e3211f" stroke-width="1.24" stroke-linecap="round" fill="none"/>
<path d="M26.7 40.8h0M27.1 40.1h0M28.1 45.1h0M33.7 41.1h0M26.3 39.5h0M32.0 42.2h0" stroke="#2f82c8" stroke-width="1.24" stroke-linecap="round" fill="none"/>
<path d="M16.2 58.0h0M16.4 58.1h0" stroke="#7a4aa0" stroke-width="1.24" stroke-linecap="round" fill="none"/>
<path d="M63.3 26.1h0M62.0 21.5h0M63.3 22.1h0M62.1 33.2h0M50.8 31.1h0M74.6 32.5h0M66.5 25.8h0M73.0 27.6h0M75.6 26.7h0M62.7 29.9h0M51.5 27.7h0M59.1 27.6h0M51.1 26.9h0M59.9 24.6h0M62.8 25.6h0M76.1 27.0h0M57.7 30.0h0M49.1 27.0h0M65.1 27.5h0M54.0 31.4h0M76.1 33.6h0M79.7 21.3h0M57.9 32.9h0M51.3 31.1h0M50.9 24.4h0M75.7 27.8h0M64.6 21.0h0M58.8 31.4h0M63.7 31.2h0M62.0 33.1h0M57.2 29.4h0M55.7 23.0h0M65.5 26.9h0M55.0 27.8h0M80.4 22.4h0M59.8 29.2h0M70.4 30.0h0M59.7 22.9h0M49.4 29.5h0M62.3 29.2h0M64.7 32.7h0M66.2 28.8h0M51.1 29.8h0M59.3 34.2h0M58.9 24.3h0M70.5 26.7h0" stroke="#e3211f" stroke-width="1.24" stroke-linecap="round" fill="none"/>
<path d="M90.7 70.9h0M51.7 71.7h0M59.1 65.5h0M39.8 72.8h0M55.7 65.7h0M53.5 65.6h0M39.5 73.7h0M64.6 94.1h0M38.0 88.6h0M42.1 76.0h0M42.3 85.6h0M70.4 72.7h0M44.4 72.9h0M70.7 61.2h0M66.6 62.1h0M47.0 74.5h0M56.7 93.1h0M50.7 74.8h0M46.3 73.1h0M39.8 78.2h0M59.0 69.8h0M40.2 77.4h0M44.6 82.1h0M55.8 70.4h0M43.4 68.3h0M45.0 68.0h0M82.9 69.2h0M61.0 60.6h0M58.2 61.2h0M89.1 72.5h0M72.1 61.0h0M38.5 86.0h0M52.5 74.2h0M80.3 68.3h0M78.6 63.8h0M53.0 75.1h0M65.2 90.4h0M54.9 64.8h0M53.2 95.0h0M73.3 59.3h0M88.6 69.8h0M38.6 86.7h0M36.4 80.6h0M46.7 70.4h0M62.0 65.5h0M51.9 93.7h0M43.5 86.7h0M44.7 67.1h0M70.5 62.6h0M49.7 73.1h0M66.7 61.7h0M43.2 81.4h0M53.6 67.9h0M41.9 77.4h0M69.8 71.4h0M41.4 87.6h0M55.7 72.2h0M42.3 77.8h0M58.4 65.5h0M77.5 91.9h0M52.7 92.7h0M63.4 64.4h0M38.6 89.5h0M64.3 94.3h0M40.4 81.2h0M61.3 60.0h0M39.8 84.1h0M49.5 71.7h0M46.7 75.5h0M57.8 80.1h0M65.4 93.5h0M56.8 68.8h0M61.5 61.7h0M37.8 86.4h0M61.9 65.8h0M48.8 79.9h0M58.0 69.2h0M71.0 59.5h0M54.3 68.2h0M75.6 73.5h0M33.9 70.1h0M42.4 76.6h0M60.6 69.9h0M42.2 79.8h0M65.1 54.7h0M60.1 60.8h0M66.0 71.3h0M42.4 87.1h0M43.0 86.6h0M65.2 65.9h0M64.1 64.2h0M90.4 72.0h0M68.0 62.6h0M41.8 79.0h0M62.4 78.6h0M74.3 54.9h0M75.1 54.3h0M41.2 83.4h0M74.3 62.8h0M37.7 81.1h0M54.2 65.7h0M52.3 77.9h0M45.9 87.0h0M72.5 58.2h0M37.9 80.1h0M70.3 73.2h0M39.5 72.3h0M49.4 75.4h0M55.7 57.6h0M62.6 91.6h0M65.0 89.5h0M65.0 62.6h0M40.8 89.1h0M59.8 67.1h0M44.3 72.9h0M67.0 61.7h0M41.1 90.2h0M36.9 81.3h0M38.8 80.0h0M50.5 67.9h0M76.3 67.6h0M49.6 68.2h0M53.8 95.2h0M37.8 77.9h0M51.3 67.5h0M65.7 56.5h0M49.0 67.5h0M63.4 63.7h0M40.8 86.8h0M56.8 69.4h0M63.1 91.8h0M42.7 80.8h0M44.6 83.0h0M66.1 57.7h0M61.7 78.5h0M64.0 90.0h0M61.1 64.2h0M36.4 87.4h0M35.4 84.6h0M61.3 79.7h0M73.6 63.8h0M64.5 65.7h0M70.9 59.9h0M41.9 81.5h0M40.9 89.9h0" stroke="#f6e08e" stroke-width="1.24" stroke-linecap="round" fill="none"/>
<path d="M88.9 73.1h0M78.9 63.9h0M47.6 75.0h0M67.5 59.3h0M56.0 63.3h0M56.2 92.5h0M91.4 73.9h0M57.6 64.7h0M90.4 74.1h0M44.2 73.1h0M89.3 68.7h0M45.4 85.7h0M69.9 72.1h0M69.2 60.9h0M71.0 58.5h0M37.6 82.4h0M52.5 73.0h0M76.6 72.6h0M58.9 70.5h0M66.3 72.0h0M74.5 63.5h0M63.7 88.0h0M43.4 67.3h0M73.3 58.8h0M65.5 71.4h0M56.1 74.1h0M38.4 74.9h0M44.4 67.9h0M70.7 70.3h0M80.4 92.2h0M80.2 92.3h0M43.7 73.6h0M61.6 62.1h0M35.5 69.9h0M53.4 92.4h0M49.5 77.2h0M50.4 75.8h0M48.0 74.3h0M56.0 71.2h0" stroke="#fbf1c8" stroke-width="1.24" stroke-linecap="round" fill="none"/>
<path d="M78.0 38.5h0M78.1 39.2h0" stroke="#2f9a48" stroke-width="1.24" stroke-linecap="round" fill="none"/>
<path d="M31.4 40.9h0M27.1 46.6h0M26.5 45.0h0M28.1 45.3h0M28.0 43.7h0M27.3 45.9h0M28.2 45.1h0M26.6 46.5h0M29.6 43.2h0M26.8 46.0h0M31.0 39.0h0" stroke="#2f82c8" stroke-width="1.24" stroke-linecap="round" fill="none"/>
<path d="M36.3 87.0h0M70.2 71.4h0M37.1 88.3h0M69.6 61.7h0M51.7 75.0h0M63.4 61.8h0M41.6 75.2h0M43.0 76.9h0M48.2 77.8h0M48.8 84.1h0M54.6 70.7h0M66.3 67.3h0M42.2 86.4h0M36.4 78.9h0M55.3 92.7h0M40.5 79.8h0M40.8 77.3h0M41.2 73.9h0M65.0 62.5h0M48.1 70.7h0M53.0 92.9h0M48.7 85.0h0M63.3 88.5h0M63.2 67.8h0M46.0 82.2h0M42.9 86.4h0M77.7 63.9h0M37.2 69.6h0M47.8 67.6h0M72.2 62.6h0M37.6 80.0h0M47.7 73.0h0M65.0 80.8h0M36.0 87.3h0M75.8 67.7h0M75.7 67.9h0M44.1 82.6h0M45.9 87.8h0M49.1 79.1h0M46.7 70.2h0M58.0 61.6h0M55.0 93.9h0M51.4 76.0h0M42.7 88.4h0M63.2 93.4h0M76.2 72.4h0M51.1 75.6h0M41.1 80.6h0M63.5 54.2h0M38.8 83.2h0M47.6 82.3h0M36.3 88.6h0M65.9 56.1h0M75.9 59.1h0M51.1 80.0h0M43.5 73.6h0M45.1 73.4h0M46.7 70.8h0M73.6 57.6h0M51.7 80.0h0M64.8 55.0h0M40.4 77.6h0M49.7 77.3h0M48.6 84.9h0M65.9 61.9h0M43.2 76.5h0M39.0 78.1h0M50.5 73.5h0M78.3 60.9h0M48.6 67.6h0M57.4 80.2h0M78.3 91.4h0M46.4 73.1h0M52.8 93.1h0M45.5 87.6h0M44.5 86.9h0M63.4 61.6h0M62.5 63.5h0M77.9 90.5h0M44.1 79.9h0M64.4 53.5h0M57.1 72.2h0M57.1 69.9h0M70.7 59.6h0M42.8 85.9h0M65.5 66.2h0M55.7 92.8h0M42.1 80.7h0M77.4 92.3h0M63.6 94.0h0M66.7 67.4h0M39.2 84.7h0M36.0 70.9h0M52.6 72.5h0M54.5 65.2h0M38.4 81.5h0M89.0 73.3h0M54.5 70.7h0M56.4 70.8h0M56.9 71.7h0M67.9 66.4h0M66.5 71.1h0M46.4 70.9h0M74.3 54.3h0M46.0 85.0h0M47.6 82.7h0M75.3 57.9h0M43.2 74.2h0M63.9 89.5h0M74.2 58.4h0M43.2 82.4h0M57.8 79.7h0M48.8 81.8h0M75.3 60.2h0M48.3 84.8h0M75.0 62.3h0M36.6 86.3h0M89.8 72.6h0M39.5 74.9h0M43.6 86.7h0M38.2 68.6h0M49.8 83.9h0M37.4 84.4h0M42.2 83.9h0M64.1 62.0h0M74.0 59.0h0M48.8 81.7h0M61.0 61.0h0M53.4 73.6h0M66.4 56.0h0M56.4 67.7h0M75.8 60.8h0M40.2 80.3h0M76.7 67.5h0M62.3 63.5h0M65.8 57.3h0M58.0 63.5h0M42.3 87.3h0M39.7 77.2h0M73.5 56.1h0M69.7 59.0h0M60.0 63.1h0M57.6 68.9h0M73.3 62.0h0M63.8 63.2h0M73.4 62.6h0M86.0 69.0h0" stroke="#f6e08e" stroke-width="1.24" stroke-linecap="round" fill="none"/>
<path d="M63.4 29.3h0M68.2 31.5h0M54.5 24.8h0M52.1 31.3h0M58.3 32.6h0M70.7 25.8h0M55.2 24.9h0M59.5 24.1h0M64.9 28.6h0M69.5 27.0h0M62.3 27.0h0M60.5 28.4h0M56.2 28.4h0M57.4 27.9h0M75.2 28.0h0M54.6 23.7h0M63.6 26.7h0M56.4 33.1h0M67.0 28.3h0M62.8 34.1h0M60.2 32.6h0M68.5 30.4h0M61.5 22.6h0M59.2 31.0h0M69.2 31.8h0M56.2 32.8h0M66.2 30.6h0M60.7 34.1h0M74.7 32.3h0M52.4 24.7h0M63.0 22.5h0M54.9 29.9h0M59.8 24.4h0M55.1 27.7h0M49.0 26.5h0M67.2 26.5h0M60.8 26.5h0M56.7 26.8h0M49.1 26.3h0M50.7 27.3h0M59.1 34.4h0M58.6 26.3h0M72.0 30.4h0M66.8 27.6h0M61.8 29.9h0M57.1 24.0h0M62.9 24.9h0M49.1 30.7h0M62.7 21.4h0M56.4 33.1h0M72.3 24.1h0M57.9 23.4h0M56.5 27.3h0M62.4 22.3h0M72.7 27.1h0M62.3 29.7h0M71.3 27.4h0" stroke="#e3211f" stroke-width="1.24" stroke-linecap="round" fill="none"/>
<path d="M78.5 64.8h0M48.6 70.4h0M47.8 70.4h0M91.5 71.5h0M49.7 68.4h0M48.8 67.2h0M89.3 68.2h0M60.8 62.3h0M57.6 62.6h0M66.9 64.9h0M89.0 69.6h0M48.7 77.4h0M81.3 67.8h0M67.8 66.2h0M76.6 63.1h0M73.1 61.2h0M59.2 67.4h0M67.5 60.0h0M65.3 93.0h0M64.4 80.4h0M41.7 69.9h0M87.0 69.6h0M46.2 80.7h0M63.6 80.9h0M82.5 68.4h0M81.7 68.9h0" stroke="#fbf1c8" stroke-width="1.24" stroke-linecap="round" fill="none"/>
<path d="M78.9 39.5h0M78.2 38.7h0" stroke="#2f9a48" stroke-width="1.24" stroke-linecap="round" fill="none"/>
<path d="M32.0 41.4h0M27.8 47.5h0M28.0 40.1h0M27.4 42.2h0M29.9 43.3h0M28.7 41.9h0M33.3 41.2h0M29.6 39.1h0M28.1 45.7h0" stroke="#2f82c8" stroke-width="1.24" stroke-linecap="round" fill="none"/>
<path d="M17.0 57.1h0" stroke="#7a4aa0" stroke-width="1.24" stroke-linecap="round" fill="none"/>
<path d="M45.7 75.9h0M50.4 76.3h0M68.9 61.7h0M88.5 73.1h0M56.7 68.3h0M75.9 63.4h0M40.6 74.3h0M79.8 90.2h0M45.2 74.8h0M46.7 74.0h0M52.8 67.9h0M52.5 66.2h0M65.0 59.9h0M71.2 58.0h0M40.9 72.2h0M71.4 55.4h0M65.1 58.5h0M53.6 68.7h0M49.7 75.4h0M38.2 89.5h0M62.6 60.8h0M54.5 69.7h0M50.1 76.6h0M72.3 56.4h0M85.4 68.4h0M68.6 59.1h0M53.3 68.5h0M77.5 91.0h0M76.6 73.6h0M86.7 69.4h0M55.5 64.2h0M69.0 64.1h0M51.4 68.6h0M43.0 76.7h0M40.0 77.0h0M89.1 72.7h0M45.7 78.2h0M39.6 81.0h0M89.4 74.9h0M75.5 68.8h0" stroke="#fbf1c8" stroke-width="1.24" stroke-linecap="round" fill="none"/>
<path d="M27.0 45.3h0M30.9 43.3h0M27.7 46.1h0M34.3 39.8h0M33.0 40.3h0M32.2 40.9h0M29.8 41.8h0M29.9 40.8h0M27.7 39.5h0M28.1 44.5h0M32.0 42.6h0M29.6 41.3h0" stroke="#2f82c8" stroke-width="1.24" stroke-linecap="round" fill="none"/>
<path d="M66.6 26.0h0M61.7 32.0h0M59.9 29.9h0M62.1 21.4h0M70.7 24.9h0M70.3 31.0h0M62.3 23.3h0M58.8 21.6h0M61.4 24.7h0M67.9 31.4h0M74.4 27.9h0M61.1 22.1h0M73.4 28.9h0M63.3 33.9h0M48.5 27.9h0M56.9 25.5h0M73.0 28.6h0M60.0 30.8h0M64.0 23.1h0M72.6 30.5h0M65.1 29.2h0M61.8 21.2h0M63.8 24.7h0M75.2 34.0h0M59.1 21.7h0M67.3 26.5h0M59.9 22.7h0M48.8 30.0h0M57.0 32.9h0M66.1 28.9h0M49.1 24.4h0M58.1 25.1h0M50.1 24.7h0M57.6 30.4h0M73.7 31.9h0M80.3 22.8h0M62.7 22.9h0M56.9 27.3h0M48.0 27.4h0M63.7 25.7h0M56.7 30.2h0M56.6 31.5h0M56.4 27.2h0M73.1 31.7h0M57.1 26.0h0M75.1 27.6h0M66.5 31.0h0M58.9 30.0h0M59.9 30.8h0M61.5 23.8h0M58.8 22.7h0M62.0 24.9h0M49.5 25.7h0M71.7 23.5h0M56.0 22.3h0M66.6 24.9h0M61.4 24.4h0M52.3 23.8h0M73.9 33.6h0M62.0 30.4h0M53.5 25.2h0" stroke="#e3211f" stroke-width="1.24" stroke-linecap="round" fill="none"/>
<path d="M65.0 60.0h0M61.8 79.4h0M54.8 92.1h0M43.6 87.2h0M75.6 63.0h0M40.5 83.8h0M39.8 88.1h0M46.3 70.1h0M44.1 66.9h0M50.9 76.4h0M37.9 69.8h0M57.5 63.4h0M55.2 73.8h0M49.0 66.4h0M53.0 67.2h0M46.0 73.6h0M60.3 63.1h0M66.9 67.2h0M64.5 57.4h0M77.3 91.6h0M52.0 75.4h0M42.2 77.8h0M74.5 58.7h0M43.1 81.1h0M53.2 57.5h0M50.8 73.7h0M54.1 67.0h0M62.2 58.6h0M86.8 69.2h0M77.5 93.2h0M50.5 65.9h0M51.6 73.5h0M60.9 67.9h0M63.2 64.6h0M46.6 76.0h0M66.2 68.3h0M46.4 81.2h0M77.1 60.6h0M40.2 83.5h0M65.3 53.8h0M54.2 95.2h0M37.7 79.7h0M40.7 84.7h0M70.3 60.6h0M60.4 60.7h0M43.9 87.2h0M90.8 70.8h0M65.5 79.6h0M73.0 54.5h0M71.7 59.1h0M53.8 67.5h0M47.1 77.6h0M38.6 85.7h0M48.4 82.0h0M38.2 85.5h0M53.8 57.6h0M64.8 66.4h0M53.2 73.6h0M77.2 92.5h0M44.3 78.8h0M69.5 61.9h0M46.0 83.5h0M45.2 74.9h0M61.6 65.2h0M40.5 71.3h0M70.3 57.0h0M39.2 89.0h0M88.1 66.8h0M74.2 57.4h0M44.9 81.5h0M39.0 81.3h0M44.3 88.0h0M64.4 62.2h0M50.5 73.6h0M44.1 77.3h0M36.8 85.4h0M53.8 94.3h0M89.4 71.6h0M62.8 64.5h0M54.6 71.7h0M35.2 83.9h0M62.4 68.1h0M46.6 70.9h0M76.6 74.7h0M55.0 95.0h0M41.7 75.7h0M47.2 82.3h0M58.8 63.5h0M42.2 82.6h0M76.3 68.5h0M52.3 74.5h0M48.7 68.8h0M48.8 81.5h0M45.5 78.2h0M58.9 70.6h0M87.4 71.0h0M58.6 65.6h0M33.7 71.4h0M59.5 64.0h0M71.2 63.0h0M53.3 72.7h0M44.7 79.7h0M80.6 67.5h0M61.3 61.7h0M41.3 89.8h0M60.7 69.6h0M65.4 66.0h0M45.5 76.9h0M38.8 76.3h0M41.1 85.7h0M50.4 83.9h0M74.9 68.1h0M35.4 83.8h0M46.3 66.8h0M47.3 66.2h0M50.5 65.6h0M42.1 76.9h0M56.6 65.5h0M58.2 63.8h0M41.3 86.0h0M69.4 59.8h0M73.5 54.5h0M43.4 85.5h0M42.8 87.4h0M65.3 56.2h0M44.9 81.7h0M39.3 72.1h0M63.5 58.2h0" stroke="#f6e08e" stroke-width="1.24" stroke-linecap="round" fill="none"/>
<path d="M16.1 57.3h0" stroke="#7a4aa0" stroke-width="1.24" stroke-linecap="round" fill="none"/>
<path d="M64.8 59.9h0M62.2 60.6h0M71.5 61.4h0M43.0 73.9h0M78.8 92.0h0M47.2 70.8h0M49.2 78.8h0M42.4 85.3h0M76.8 63.0h0M42.2 82.9h0M63.4 58.1h0M64.4 79.6h0M37.3 81.5h0M61.2 79.4h0M64.5 60.3h0M57.8 66.5h0M39.3 87.1h0M49.0 67.4h0M59.7 69.8h0M64.5 61.8h0M47.6 86.7h0M37.2 87.4h0M60.6 72.0h0M35.4 86.1h0M78.3 91.8h0M39.3 88.1h0M87.9 70.5h0M48.8 66.7h0M50.8 68.4h0M65.4 89.2h0M49.1 78.0h0M53.7 71.2h0M65.8 56.7h0M73.6 62.4h0M42.5 83.0h0M51.3 94.1h0M48.7 68.3h0M56.1 71.2h0M57.5 81.0h0M55.9 94.4h0M47.3 70.5h0M76.2 60.6h0M78.6 90.1h0M45.2 83.5h0M40.9 84.4h0M55.7 57.8h0M41.3 86.0h0M68.7 59.6h0M57.3 72.2h0M65.1 79.6h0M55.8 70.4h0M57.9 73.6h0M53.9 68.7h0M49.5 73.7h0M38.1 88.6h0M73.3 62.9h0M75.5 67.5h0M50.0 67.5h0M71.2 73.9h0M78.4 89.7h0M63.4 93.5h0M49.6 64.7h0M43.0 86.9h0M52.0 75.1h0M39.2 88.8h0M63.5 54.9h0M71.3 59.9h0M62.5 92.6h0M62.4 77.6h0M51.5 79.3h0M53.1 70.2h0M45.8 85.6h0M39.3 89.3h0M66.3 61.2h0M42.1 88.2h0M33.6 71.5h0M70.6 73.2h0M39.2 87.4h0M40.2 81.3h0M48.4 82.2h0M59.0 64.1h0M73.2 57.6h0M43.1 69.7h0M62.9 63.9h0M64.6 60.6h0M59.3 68.1h0M52.2 74.7h0M61.5 79.0h0M47.6 81.0h0M75.2 67.5h0M53.8 67.0h0M60.7 66.8h0M78.5 94.8h0M36.9 78.7h0M39.8 72.5h0M50.7 79.3h0M45.8 74.6h0M38.3 78.9h0M43.6 86.3h0M49.5 84.3h0M50.3 64.5h0M68.0 63.1h0M76.2 73.0h0M68.7 62.1h0M50.5 77.5h0M74.8 63.7h0M63.9 89.3h0M53.0 64.8h0M40.2 73.5h0M90.3 71.0h0M59.7 60.0h0M58.0 64.3h0M56.1 72.0h0M48.9 69.0h0M65.2 61.5h0M90.1 72.1h0M49.1 70.1h0M39.5 85.5h0M59.9 66.2h0M77.9 61.7h0M38.9 83.3h0M45.7 81.7h0M51.9 66.0h0M59.5 64.7h0M63.8 64.9h0M63.0 94.3h0M65.1 56.4h0M72.5 62.1h0M45.9 67.0h0M66.5 65.2h0M40.4 73.4h0M74.3 60.5h0" stroke="#f6e08e" stroke-width="1.24" stroke-linecap="round" fill="none"/>
<path d="M57.6 25.9h0M61.8 34.1h0M77.2 26.9h0M66.6 31.1h0M53.4 30.1h0M62.7 32.7h0M76.9 26.2h0M55.9 28.7h0M66.9 26.2h0M62.6 34.1h0M66.7 26.0h0M70.4 27.5h0M59.8 26.1h0M57.8 26.6h0M55.4 30.8h0M81.3 23.1h0M64.3 20.9h0M62.5 27.7h0M63.4 25.9h0M51.7 28.8h0M50.6 25.2h0M57.6 31.0h0M49.0 26.6h0M63.5 24.5h0M56.2 24.9h0M51.3 31.7h0M60.5 28.8h0M53.3 24.4h0M65.8 23.1h0M65.4 26.3h0M63.9 26.2h0M75.8 26.7h0M51.5 26.4h0M60.2 24.1h0M50.9 26.8h0M54.1 30.3h0M68.5 28.9h0M65.6 27.4h0M57.9 26.6h0M69.2 28.8h0M65.7 27.1h0M57.4 31.8h0M64.7 24.0h0M55.8 25.6h0M53.7 26.7h0M57.8 27.6h0M75.0 33.7h0M63.1 22.0h0M56.2 23.1h0M73.0 28.3h0M74.1 33.3h0M59.3 26.5h0M53.9 27.8h0M62.9 28.2h0M68.5 28.9h0M73.3 28.2h0M65.1 23.4h0M60.6 22.2h0M66.0 26.0h0M74.2 28.6h0M58.0 29.3h0M61.8 20.9h0M57.0 30.4h0" stroke="#e3211f" stroke-width="1.24" stroke-linecap="round" fill="none"/>
<path d="M76.9 68.0h0M45.7 72.9h0M55.0 71.4h0M74.8 68.8h0M44.5 77.4h0M60.3 65.9h0M76.5 75.4h0M48.8 67.9h0M70.5 61.7h0M41.4 77.9h0M88.4 71.5h0M74.2 62.2h0M44.6 77.0h0M78.1 68.7h0M68.0 58.1h0M78.8 67.4h0M58.7 67.5h0M50.2 71.5h0M53.8 68.7h0M67.5 65.8h0M67.2 63.0h0M40.5 85.8h0M41.4 75.1h0M44.2 67.4h0M53.0 73.8h0M68.7 63.5h0M52.5 77.4h0M69.0 59.6h0M54.3 74.9h0M76.5 68.2h0M88.4 67.4h0M76.3 68.8h0M43.0 77.3h0M63.5 68.5h0M58.3 62.5h0M76.6 67.8h0" stroke="#fbf1c8" stroke-width="1.24" stroke-linecap="round" fill="none"/>
<path d="M27.2 40.7h0M31.3 41.1h0M26.9 40.8h0M29.2 44.4h0M32.4 41.4h0M26.7 40.9h0M29.3 42.2h0M34.1 41.3h0" stroke="#2f82c8" stroke-width="1.24" stroke-linecap="round" fill="none"/>
<path d="M77.5 39.8h0M77.5 38.9h0M78.8 39.7h0" stroke="#2f9a48" stroke-width="1.24" stroke-linecap="round" fill="none"/>
<path d="M195.6,27.0C195.8,25.8 196.5,23.6 197.5,22.6C198.5,21.6 201.0,20.8 202.5,20.5C204.0,20.2 206.4,20.2 207.5,20.8C208.6,21.3 209.5,22.6 210.0,23.9C210.5,25.2 210.8,28.1 210.6,29.5C210.4,30.9 209.8,32.4 208.8,33.2C207.7,34.1 205.2,35.1 203.8,35.1C202.2,35.1 199.9,33.9 198.8,33.2C197.6,32.6 196.7,31.7 196.2,30.8C195.8,29.8 195.4,28.2 195.6,27.0Z" fill="#b376ac" opacity="0.85"/>
<path d="M190.6,27.6C190.8,26.7 191.3,24.9 192.0,24.2C192.7,23.5 194.2,23.0 195.0,22.8C195.8,22.6 197.2,22.3 197.5,22.6C197.8,22.9 197.3,24.0 197.0,24.5C196.7,25.0 195.8,25.4 195.5,25.8C195.2,26.2 194.8,26.9 194.8,27.5C194.8,28.1 195.2,28.9 195.5,29.5C195.8,30.1 196.9,31.1 197.0,31.5C197.1,31.9 196.6,32.5 196.0,32.5C195.4,32.5 193.8,31.9 193.0,31.5C192.2,31.1 191.4,30.6 191.0,30.0C190.6,29.4 190.4,28.5 190.6,27.6Z" fill="#619dba" opacity="0.85"/>
<path d="M210.0,31.5C209.9,30.7 211.4,28.3 212.0,27.0C212.6,25.7 213.7,23.5 214.3,23.0C214.9,22.5 216.0,23.0 216.0,23.6C216.0,24.2 214.3,26.7 214.5,27.2C214.7,27.7 216.1,27.0 217.0,26.8C217.9,26.6 220.2,25.5 220.8,25.6C221.4,25.7 221.8,26.6 221.0,27.2C220.2,27.8 216.8,28.7 215.5,29.5C214.2,30.3 213.3,32.2 212.5,32.5C211.7,32.8 210.1,32.3 210.0,31.5Z" fill="#9fc951" opacity="0.85"/>
<path d="M214.5,30.0C214.7,29.8 215.2,29.9 216.0,30.5C216.8,31.1 219.2,33.3 219.5,34.0C219.8,34.7 218.8,35.3 218.0,35.0C217.2,34.7 215.0,32.5 214.5,31.8C214.0,31.1 214.3,30.2 214.5,30.0Z" fill="#8a81c0" opacity="0.85"/>
<path d="M222.0,21.0C221.8,20.5 222.6,20.4 223.0,20.8C223.4,21.2 224.7,23.1 224.8,23.6C225.0,24.1 224.4,24.7 224.0,24.3C223.6,23.9 222.2,21.5 222.0,21.0Z" fill="#a8cc48" opacity="0.85"/>
<path d="M222.2,39.5C222.2,39.6 222.2,39.8 222.1,39.9C222.1,40.0 221.9,40.2 221.8,40.3C221.8,40.4 221.6,40.5 221.5,40.5C221.3,40.6 221.1,40.6 221.0,40.6C220.9,40.6 220.7,40.6 220.5,40.5C220.4,40.5 220.2,40.4 220.2,40.3C220.1,40.2 219.9,40.0 219.9,39.9C219.8,39.8 219.8,39.6 219.8,39.5C219.8,39.4 219.8,39.2 219.9,39.1C219.9,39.0 220.1,38.8 220.2,38.7C220.2,38.6 220.4,38.5 220.5,38.5C220.7,38.4 220.9,38.4 221.0,38.4C221.1,38.4 221.3,38.4 221.5,38.5C221.6,38.5 221.8,38.6 221.8,38.7C221.9,38.8 222.1,39.0 222.1,39.1C222.2,39.2 222.2,39.4 222.2,39.5Z" fill="#40b2ba" opacity="0.85"/>
<path d="M169.3,38.5C170.1,37.9 172.5,38.7 174.0,39.0C175.5,39.3 178.9,39.8 179.2,40.2C179.5,40.7 176.9,41.4 176.0,42.0C175.1,42.6 173.7,43.5 173.0,44.0C172.3,44.5 171.6,44.4 171.3,45.0C171.0,45.6 171.3,47.4 171.0,47.7C170.7,48.0 169.9,48.0 169.6,47.3C169.3,46.6 169.0,44.3 169.0,43.0C169.0,41.7 168.6,39.1 169.3,38.5Z" fill="#849aa1" opacity="0.85"/>
<path d="M160.2,57.5C160.2,57.6 160.2,57.7 160.1,57.8C160.1,57.8 160.1,57.9 160.0,58.0C159.9,58.1 159.8,58.1 159.8,58.1C159.7,58.2 159.6,58.2 159.5,58.2C159.4,58.2 159.3,58.2 159.2,58.1C159.2,58.1 159.1,58.1 159.0,58.0C158.9,57.9 158.9,57.8 158.9,57.8C158.8,57.7 158.8,57.6 158.8,57.5C158.8,57.4 158.8,57.3 158.9,57.2C158.9,57.2 158.9,57.1 159.0,57.0C159.1,56.9 159.2,56.9 159.2,56.9C159.3,56.8 159.4,56.8 159.5,56.8C159.6,56.8 159.7,56.8 159.8,56.9C159.8,56.9 159.9,56.9 160.0,57.0C160.1,57.1 160.1,57.2 160.1,57.2C160.2,57.3 160.2,57.4 160.2,57.5Z" fill="#40b2ba" opacity="0.85"/>
<path d="M177.8,85.0C177.9,83.4 178.9,79.9 179.5,78.0C180.1,76.1 180.9,74.2 182.0,72.5C183.1,70.8 184.9,68.3 186.5,67.0C188.1,65.7 190.9,63.9 192.5,63.5C194.1,63.1 196.2,63.8 197.0,64.5C197.8,65.2 197.6,66.6 197.5,68.0C197.4,69.4 196.7,72.5 196.5,74.0C196.3,75.5 196.4,76.7 196.0,78.0C195.6,79.3 194.7,81.7 194.0,83.0C193.3,84.3 192.6,86.0 191.5,87.0C190.4,88.0 188.3,89.5 187.0,90.0C185.7,90.5 183.7,90.7 182.5,90.5C181.3,90.3 179.7,89.3 179.0,88.5C178.3,87.7 177.7,86.6 177.8,85.0Z" fill="#8b80c0" opacity="0.85"/>
<path d="M195.5,66.5C195.8,64.9 198.1,64.0 199.2,63.0C200.4,62.0 201.9,60.5 203.0,59.5C204.1,58.5 205.3,57.3 206.8,56.6C208.2,55.9 210.7,54.8 212.4,54.7C214.1,54.6 216.9,55.4 218.0,56.0C219.1,56.6 219.3,58.1 219.5,59.0C219.7,59.9 219.8,61.3 219.0,62.2C218.2,63.1 216.1,64.0 214.2,65.0C212.4,66.0 208.7,67.7 206.8,68.8C204.8,69.8 202.4,71.3 201.0,72.0C199.6,72.7 198.2,74.2 197.4,73.4C196.6,72.6 195.2,68.1 195.5,66.5Z" fill="#5ca1b9" opacity="0.85"/>
<path d="M229.8,67.0C230.1,66.2 231.0,66.4 231.5,66.7C232.0,67.0 232.5,68.2 233.0,69.0C233.5,69.8 234.8,71.1 235.0,72.0C235.2,72.9 235.1,74.5 234.5,75.0C233.9,75.5 231.8,75.5 231.0,75.0C230.2,74.5 229.7,73.2 229.5,72.0C229.3,70.8 229.5,67.8 229.8,67.0Z" fill="#8882c0" opacity="0.85"/>
<path d="M175.5,73.0C175.5,72.4 175.8,70.7 176.5,70.0C177.2,69.3 179.1,68.7 180.0,68.5C180.9,68.3 182.3,68.4 182.5,68.6C182.7,68.8 181.7,69.6 181.0,70.0C180.3,70.4 178.7,70.9 178.0,71.5C177.3,72.1 176.9,73.8 176.5,74.0C176.1,74.2 175.5,73.6 175.5,73.0Z" fill="#53a5bb" opacity="0.85"/>
<path d="M216.0,61.5C217.0,61.4 221.5,62.8 222.5,63.3C223.5,63.8 223.5,64.9 222.5,65.0C221.5,65.1 217.0,64.3 216.0,63.8C215.0,63.3 215.0,61.6 216.0,61.5Z" fill="#6b96be" opacity="0.85"/>
<path d="M217.5,67.0C219.4,66.8 228.1,67.4 230.0,67.8C231.9,68.2 231.9,69.2 230.0,69.4C228.1,69.6 219.4,69.2 217.5,68.8C215.6,68.4 215.6,67.2 217.5,67.0Z" fill="#649abd" opacity="0.85"/>
<path d="M218.3,53.9C218.3,54.0 218.3,54.2 218.2,54.3C218.1,54.4 218.0,54.6 217.9,54.7C217.8,54.8 217.6,54.9 217.5,54.9C217.4,55.0 217.1,55.0 217.0,55.0C216.9,55.0 216.6,55.0 216.5,54.9C216.4,54.9 216.2,54.8 216.1,54.7C216.0,54.6 215.9,54.4 215.8,54.3C215.7,54.2 215.7,54.0 215.7,53.9C215.7,53.8 215.7,53.6 215.8,53.5C215.9,53.4 216.0,53.2 216.1,53.1C216.2,53.0 216.4,52.9 216.5,52.9C216.6,52.8 216.9,52.8 217.0,52.8C217.1,52.8 217.4,52.8 217.5,52.9C217.6,52.9 217.8,53.0 217.9,53.1C218.0,53.2 218.1,53.4 218.2,53.5C218.3,53.6 218.3,53.8 218.3,53.9Z" fill="#4fa8bb" opacity="0.85"/>
<path d="M209.1,54.0C209.1,54.1 209.1,54.3 209.0,54.4C209.0,54.5 208.8,54.6 208.7,54.7C208.6,54.8 208.4,54.9 208.2,55.0C208.1,55.1 207.8,55.2 207.7,55.2C207.5,55.2 207.2,55.2 207.0,55.2C206.9,55.2 206.6,55.2 206.5,55.1C206.4,55.1 206.2,55.0 206.1,54.9C206.0,54.8 205.9,54.7 205.9,54.6C205.9,54.5 205.9,54.3 206.0,54.2C206.0,54.1 206.2,54.0 206.3,53.9C206.4,53.8 206.6,53.7 206.8,53.6C206.9,53.5 207.2,53.4 207.3,53.4C207.5,53.4 207.8,53.4 208.0,53.4C208.1,53.4 208.4,53.4 208.5,53.5C208.6,53.5 208.8,53.6 208.9,53.7C209.0,53.8 209.1,53.9 209.1,54.0Z" fill="#5e9ebc" opacity="0.85"/>
<path d="M214.4,71.3C214.4,71.6 214.5,72.0 214.6,72.2C214.6,72.5 214.6,72.9 214.6,73.1C214.6,73.3 214.5,73.6 214.5,73.7C214.4,73.9 214.3,74.0 214.2,74.0C214.1,74.0 213.9,74.0 213.8,73.9C213.7,73.8 213.5,73.6 213.4,73.4C213.2,73.3 213.1,72.9 213.0,72.7C212.8,72.4 212.7,72.0 212.6,71.7C212.6,71.4 212.5,71.0 212.4,70.8C212.4,70.5 212.4,70.1 212.4,69.9C212.4,69.7 212.5,69.4 212.5,69.3C212.6,69.1 212.7,69.0 212.8,69.0C212.9,69.0 213.1,69.0 213.2,69.1C213.3,69.2 213.5,69.4 213.6,69.6C213.8,69.7 213.9,70.1 214.0,70.3C214.2,70.6 214.3,71.0 214.4,71.3Z" fill="#6d94be" opacity="0.85"/>
<path d="M219.9,73.0C219.9,73.3 220.0,73.7 220.1,73.9C220.1,74.2 220.1,74.6 220.1,74.8C220.1,75.0 220.0,75.3 220.0,75.4C219.9,75.6 219.8,75.7 219.7,75.7C219.6,75.7 219.4,75.7 219.3,75.6C219.2,75.5 219.0,75.3 218.9,75.1C218.7,75.0 218.6,74.6 218.5,74.4C218.3,74.1 218.2,73.7 218.1,73.4C218.1,73.1 218.0,72.7 217.9,72.5C217.9,72.2 217.9,71.8 217.9,71.6C217.9,71.4 218.0,71.1 218.0,71.0C218.1,70.8 218.2,70.7 218.3,70.7C218.4,70.7 218.6,70.7 218.7,70.8C218.8,70.9 219.0,71.1 219.1,71.3C219.3,71.4 219.4,71.8 219.5,72.0C219.7,72.3 219.8,72.7 219.9,73.0Z" fill="#768fbf" opacity="0.85"/>
<path d="M206.3,78.8C206.3,78.9 206.3,79.1 206.2,79.2C206.1,79.4 206.0,79.6 205.9,79.7C205.8,79.8 205.6,79.9 205.5,80.0C205.4,80.0 205.1,80.0 205.0,80.0C204.9,80.0 204.6,80.0 204.5,80.0C204.4,79.9 204.2,79.8 204.1,79.7C204.0,79.6 203.9,79.4 203.8,79.2C203.7,79.1 203.7,78.9 203.7,78.8C203.7,78.6 203.7,78.4 203.8,78.3C203.9,78.1 204.0,77.9 204.1,77.8C204.2,77.7 204.4,77.6 204.5,77.5C204.6,77.5 204.9,77.5 205.0,77.5C205.1,77.5 205.4,77.5 205.5,77.5C205.6,77.6 205.8,77.7 205.9,77.8C206.0,77.9 206.1,78.1 206.2,78.3C206.3,78.4 206.3,78.6 206.3,78.8Z" fill="#7c8bbf" opacity="0.85"/>
<path d="M208.7,80.5C208.7,80.7 208.7,80.9 208.6,81.1C208.6,81.3 208.4,81.5 208.3,81.6C208.3,81.8 208.1,81.9 208.0,82.0C207.8,82.0 207.6,82.1 207.5,82.1C207.4,82.1 207.2,82.0 207.0,82.0C206.9,81.9 206.7,81.8 206.7,81.6C206.6,81.5 206.4,81.3 206.4,81.1C206.3,80.9 206.3,80.7 206.3,80.5C206.3,80.3 206.3,80.1 206.4,79.9C206.4,79.7 206.6,79.5 206.7,79.4C206.7,79.2 206.9,79.1 207.0,79.0C207.2,79.0 207.4,78.9 207.5,78.9C207.6,78.9 207.8,79.0 208.0,79.0C208.1,79.1 208.3,79.2 208.3,79.4C208.4,79.5 208.6,79.7 208.6,79.9C208.7,80.1 208.7,80.3 208.7,80.5Z" fill="#768fbf" opacity="0.85"/>
<path d="M201.1,73.4C201.1,73.5 201.1,73.7 201.0,73.8C201.0,73.9 200.8,74.1 200.7,74.2C200.5,74.3 200.3,74.5 200.0,74.6C199.8,74.7 199.5,74.9 199.3,75.0C199.0,75.0 198.7,75.1 198.5,75.2C198.2,75.2 197.9,75.3 197.7,75.3C197.5,75.3 197.3,75.2 197.2,75.2C197.1,75.1 197.0,75.0 196.9,75.0C196.9,74.9 196.9,74.7 197.0,74.6C197.0,74.5 197.2,74.3 197.3,74.2C197.5,74.1 197.7,73.9 198.0,73.8C198.2,73.7 198.5,73.5 198.7,73.4C199.0,73.4 199.3,73.3 199.5,73.2C199.8,73.2 200.1,73.1 200.3,73.1C200.5,73.1 200.7,73.2 200.8,73.2C200.9,73.3 201.0,73.4 201.1,73.4Z" fill="#8883c0" opacity="0.85"/>
<path d="M204.9,72.0C204.9,72.1 204.9,72.2 204.9,72.3C204.9,72.4 204.8,72.6 204.7,72.7C204.6,72.8 204.4,72.9 204.3,73.0C204.2,73.1 203.9,73.2 203.8,73.3C203.6,73.3 203.4,73.4 203.2,73.4C203.1,73.4 202.8,73.4 202.7,73.4C202.6,73.4 202.4,73.3 202.3,73.3C202.2,73.2 202.1,73.1 202.1,73.0C202.1,72.9 202.1,72.8 202.1,72.7C202.1,72.6 202.2,72.4 202.3,72.3C202.4,72.2 202.6,72.1 202.7,72.0C202.8,71.9 203.1,71.8 203.2,71.7C203.4,71.7 203.6,71.6 203.8,71.6C203.9,71.6 204.2,71.6 204.3,71.6C204.4,71.6 204.6,71.7 204.7,71.7C204.8,71.8 204.9,71.9 204.9,72.0Z" fill="#40b2ba" opacity="0.85"/>
<path d="M201.8,80.3C201.7,80.4 201.6,80.6 201.5,80.7C201.4,80.8 201.3,81.0 201.2,81.1C201.1,81.1 201.0,81.2 200.9,81.2C200.8,81.3 200.6,81.3 200.6,81.2C200.5,81.2 200.4,81.1 200.3,81.0C200.2,80.9 200.2,80.8 200.2,80.7C200.1,80.5 200.1,80.4 200.1,80.2C200.1,80.1 200.2,79.9 200.2,79.7C200.3,79.6 200.4,79.4 200.5,79.3C200.6,79.2 200.7,79.0 200.8,78.9C200.9,78.9 201.0,78.8 201.1,78.8C201.2,78.7 201.4,78.7 201.4,78.8C201.5,78.8 201.6,78.9 201.7,79.0C201.8,79.1 201.8,79.2 201.8,79.3C201.9,79.5 201.9,79.6 201.9,79.8C201.9,79.9 201.8,80.1 201.8,80.3Z" fill="#6b96be" opacity="0.85"/>
<path d="M197.0,57.4C197.0,57.5 197.0,57.5 197.0,57.6C196.9,57.6 196.9,57.7 196.9,57.8C196.8,57.8 196.7,57.8 196.7,57.9C196.6,57.9 196.6,57.9 196.5,57.9C196.4,57.9 196.4,57.9 196.3,57.9C196.3,57.8 196.2,57.8 196.1,57.8C196.1,57.7 196.1,57.6 196.0,57.6C196.0,57.5 196.0,57.5 196.0,57.4C196.0,57.3 196.0,57.3 196.0,57.2C196.1,57.2 196.1,57.1 196.1,57.0C196.2,57.0 196.3,57.0 196.3,56.9C196.4,56.9 196.4,56.9 196.5,56.9C196.6,56.9 196.6,56.9 196.7,56.9C196.7,57.0 196.8,57.0 196.9,57.0C196.9,57.1 196.9,57.2 197.0,57.2C197.0,57.3 197.0,57.3 197.0,57.4Z" fill="#40b2ba" opacity="0.85"/>
<path d="M199.3,57.4C199.3,57.5 199.3,57.5 199.3,57.6C199.2,57.6 199.2,57.7 199.2,57.8C199.1,57.8 199.0,57.8 199.0,57.9C198.9,57.9 198.9,57.9 198.8,57.9C198.7,57.9 198.7,57.9 198.6,57.9C198.6,57.8 198.5,57.8 198.4,57.8C198.4,57.7 198.4,57.6 198.3,57.6C198.3,57.5 198.3,57.5 198.3,57.4C198.3,57.3 198.3,57.3 198.3,57.2C198.4,57.2 198.4,57.1 198.4,57.0C198.5,57.0 198.6,57.0 198.6,56.9C198.7,56.9 198.7,56.9 198.8,56.9C198.9,56.9 198.9,56.9 199.0,56.9C199.0,57.0 199.1,57.0 199.2,57.0C199.2,57.1 199.2,57.2 199.3,57.2C199.3,57.3 199.3,57.3 199.3,57.4Z" fill="#ac6cc4" opacity="0.85"/>
<path d="M221.9,61.3C221.9,61.4 221.9,61.6 221.8,61.7C221.8,61.8 221.7,61.9 221.6,62.0C221.5,62.1 221.3,62.2 221.2,62.2C221.1,62.3 220.9,62.3 220.8,62.3C220.7,62.3 220.5,62.3 220.4,62.2C220.3,62.2 220.1,62.1 220.0,62.0C219.9,61.9 219.8,61.8 219.8,61.7C219.7,61.6 219.7,61.4 219.7,61.3C219.7,61.2 219.7,61.0 219.8,60.9C219.8,60.8 219.9,60.7 220.0,60.6C220.1,60.5 220.3,60.4 220.4,60.4C220.5,60.3 220.7,60.3 220.8,60.3C220.9,60.3 221.1,60.3 221.2,60.4C221.3,60.4 221.5,60.5 221.6,60.6C221.7,60.7 221.8,60.8 221.8,60.9C221.9,61.0 221.9,61.2 221.9,61.3Z" fill="#649abd" opacity="0.85"/>
<path d="M211.0,66.9C211.1,67.0 211.1,67.1 211.1,67.2C211.1,67.3 211.1,67.5 211.0,67.6C211.0,67.7 210.9,67.8 210.8,67.9C210.7,68.0 210.5,68.1 210.4,68.2C210.3,68.3 210.1,68.3 210.0,68.4C209.8,68.4 209.7,68.4 209.5,68.4C209.4,68.4 209.3,68.4 209.2,68.3C209.1,68.3 209.0,68.2 209.0,68.1C208.9,68.0 208.9,67.9 208.9,67.8C208.9,67.7 208.9,67.5 209.0,67.4C209.0,67.3 209.1,67.2 209.2,67.1C209.3,67.0 209.5,66.9 209.6,66.8C209.7,66.7 209.9,66.7 210.0,66.6C210.2,66.6 210.3,66.6 210.5,66.6C210.6,66.6 210.7,66.6 210.8,66.7C210.9,66.7 211.0,66.8 211.0,66.9Z" fill="#649abd" opacity="0.85"/>
<path d="M209.8,72.1C209.8,72.3 209.7,72.5 209.6,72.7C209.6,72.8 209.5,73.0 209.4,73.1C209.3,73.3 209.2,73.4 209.1,73.4C209.0,73.5 208.8,73.5 208.7,73.5C208.6,73.5 208.5,73.4 208.5,73.3C208.4,73.2 208.3,73.1 208.3,72.9C208.2,72.8 208.2,72.6 208.2,72.4C208.2,72.3 208.2,72.0 208.2,71.9C208.2,71.7 208.3,71.5 208.4,71.3C208.4,71.2 208.5,71.0 208.6,70.9C208.7,70.7 208.8,70.6 208.9,70.6C209.0,70.5 209.2,70.5 209.3,70.5C209.4,70.5 209.5,70.6 209.5,70.7C209.6,70.8 209.7,70.9 209.7,71.1C209.8,71.2 209.8,71.4 209.8,71.6C209.8,71.7 209.8,72.0 209.8,72.1Z" fill="#649abd" opacity="0.85"/>
<path d="M200.0,92.8C200.0,93.0 200.0,93.3 199.9,93.6C199.8,93.8 199.5,94.1 199.3,94.3C199.1,94.5 198.7,94.8 198.4,94.9C198.1,95.1 197.6,95.2 197.2,95.3C196.9,95.3 196.4,95.4 196.1,95.3C195.7,95.3 195.3,95.2 195.0,95.1C194.7,95.0 194.4,94.7 194.2,94.6C194.0,94.4 193.9,94.1 193.8,93.8C193.8,93.6 193.8,93.3 193.9,93.0C194.0,92.8 194.3,92.5 194.5,92.3C194.7,92.1 195.1,91.8 195.4,91.7C195.7,91.5 196.2,91.4 196.6,91.3C196.9,91.3 197.4,91.2 197.7,91.3C198.1,91.3 198.5,91.4 198.8,91.5C199.1,91.6 199.4,91.9 199.6,92.0C199.8,92.2 199.9,92.5 200.0,92.8Z" fill="#7191be" opacity="0.85"/>
<path d="M208.8,91.2C208.8,91.7 208.7,92.3 208.7,92.7C208.6,93.1 208.4,93.6 208.2,93.9C208.1,94.2 207.8,94.6 207.6,94.8C207.4,94.9 207.1,95.0 206.9,95.0C206.7,95.0 206.4,94.9 206.2,94.8C206.0,94.6 205.7,94.2 205.6,93.9C205.4,93.6 205.2,93.1 205.1,92.7C205.1,92.3 205.0,91.7 205.0,91.2C205.0,90.8 205.1,90.2 205.1,89.8C205.2,89.4 205.4,88.9 205.6,88.6C205.7,88.3 206.0,87.9 206.2,87.7C206.4,87.6 206.7,87.5 206.9,87.5C207.1,87.5 207.4,87.6 207.6,87.7C207.8,87.9 208.1,88.3 208.2,88.6C208.4,88.9 208.6,89.4 208.7,89.8C208.7,90.2 208.8,90.8 208.8,91.2Z" fill="#8982c0" opacity="0.85"/>
<path d="M224.0,92.0C224.0,92.3 223.9,92.8 223.8,93.1C223.8,93.5 223.6,93.9 223.4,94.1C223.3,94.4 223.0,94.6 222.8,94.8C222.6,94.9 222.2,95.0 222.0,95.0C221.8,95.0 221.4,94.9 221.2,94.8C221.0,94.6 220.7,94.4 220.6,94.1C220.4,93.9 220.2,93.5 220.2,93.1C220.1,92.8 220.0,92.3 220.0,92.0C220.0,91.7 220.1,91.2 220.2,90.9C220.2,90.5 220.4,90.1 220.6,89.9C220.7,89.6 221.0,89.4 221.2,89.2C221.4,89.1 221.8,89.0 222.0,89.0C222.2,89.0 222.6,89.1 222.8,89.2C223.0,89.4 223.3,89.6 223.4,89.9C223.6,90.1 223.8,90.5 223.8,90.9C223.9,91.2 224.0,91.7 224.0,92.0Z" fill="#6a96bd" opacity="0.85"/>
<path d="M209.8 26.1h0M184.0 78.7h0M196.7 71.5h0M193.2 80.2h0M209.4 59.0h0M192.6 79.5h0M200.9 29.9h0M208.3 23.1h0M195.9 31.6h0M184.0 78.4h0M218.8 71.5h0M193.1 68.9h0M230.0 72.3h0M207.3 27.5h0M229.9 69.1h0M193.6 25.7h0M178.8 87.3h0M203.7 26.9h0M185.5 84.3h0M189.6 76.7h0M184.0 71.7h0M207.5 81.6h0M199.3 22.5h0M208.6 91.9h0M196.9 27.3h0M176.1 71.3h0M200.0 30.8h0M185.5 71.9h0M207.1 93.2h0M228.6 68.5h0M230.9 70.4h0M186.7 89.1h0M191.1 74.9h0M222.0 90.5h0M207.7 29.9h0M198.2 32.1h0M200.8 29.3h0M195.7 31.5h0M182.2 83.8h0M206.3 66.4h0M193.7 64.6h0M203.7 27.3h0M190.4 85.1h0M190.6 67.7h0M205.4 91.5h0M185.4 83.9h0M186.7 82.3h0M194.8 71.4h0M203.3 61.1h0M195.1 74.3h0M192.9 69.7h0M192.4 74.6h0M203.5 31.3h0M202.6 28.4h0M196.1 74.2h0M179.3 69.1h0M188.5 71.8h0M186.5 73.6h0M210.7 59.3h0M194.1 66.7h0M231.3 67.0h0M233.3 69.6h0M206.5 62.6h0M234.7 71.6h0M187.7 68.5h0M183.9 77.4h0M189.6 75.6h0M194.2 24.6h0M182.9 76.4h0M181.9 83.0h0M200.2 66.5h0M207.6 27.1h0M205.2 33.6h0M193.9 28.2h0M185.6 85.5h0M187.8 75.2h0M192.5 74.8h0M191.5 72.8h0M183.9 73.5h0M188.6 66.1h0M191.8 81.4h0M193.6 82.3h0M192.1 74.3h0M201.8 34.2h0M200.8 31.4h0M200.2 64.2h0M205.5 66.1h0M197.1 67.7h0M206.9 94.7h0M206.6 28.7h0M200.3 28.1h0M186.5 79.9h0M214.7 63.4h0M206.0 31.5h0M195.9 95.1h0M197.0 25.0h0M193.9 80.1h0M204.6 31.1h0M199.5 73.7h0M195.7 72.1h0M185.8 88.3h0M196.3 73.4h0M185.1 85.3h0M220.9 60.9h0M190.5 77.3h0M209.5 66.0h0M194.9 64.5h0M183.3 80.5h0M190.3 72.6h0M207.8 90.0h0M184.7 81.8h0M195.8 25.5h0M193.6 23.6h0" stroke="#ac6cc4" stroke-width="1.24" stroke-linecap="round" fill="none"/>
<path d="M221.3 94.8h0M194.6 30.8h0M210.2 64.2h0M170.6 40.9h0M191.9 72.2h0M178.0 70.7h0M206.8 58.1h0M193.6 28.7h0M210.7 62.5h0M189.8 72.4h0M169.8 46.0h0M179.7 70.2h0M210.2 66.8h0M210.8 66.6h0M197.0 65.8h0M176.8 70.3h0M184.4 73.3h0M191.5 77.9h0M220.9 63.2h0M213.0 27.8h0M197.0 71.4h0M202.9 73.2h0M207.6 59.9h0M208.3 79.5h0M197.7 91.6h0M214.4 55.8h0M202.5 73.3h0M217.5 60.1h0M218.4 68.6h0M214.6 63.6h0M169.8 43.9h0M196.8 65.5h0M218.5 60.1h0M192.1 77.2h0M174.1 39.9h0M191.3 69.6h0M219.2 74.4h0M193.4 63.8h0M216.6 63.1h0M206.1 64.0h0M199.5 93.6h0M231.4 72.9h0M221.3 38.5h0M187.1 80.1h0M216.2 57.7h0M181.1 89.4h0M218.5 34.3h0M208.3 63.1h0M208.5 57.5h0M201.4 71.2h0M219.0 61.9h0M219.9 68.0h0M204.3 79.6h0M212.1 63.5h0M207.5 67.5h0M190.8 74.4h0M208.8 71.4h0M212.1 56.4h0M215.4 55.8h0M220.2 60.6h0M198.3 71.7h0M193.9 31.4h0M222.7 68.0h0M212.5 62.3h0M221.7 68.5h0M222.9 91.1h0M218.8 62.1h0M202.6 71.0h0M205.5 33.5h0M201.0 68.0h0M221.0 61.2h0M186.6 85.8h0M231.1 74.4h0M194.2 28.3h0M199.4 73.5h0M200.2 62.2h0M207.2 55.2h0M199.2 73.6h0M190.5 73.7h0M179.9 88.8h0M196.0 31.1h0M225.5 68.4h0M221.7 67.6h0M213.1 58.8h0M202.3 64.2h0M198.5 28.2h0M179.9 82.6h0M202.5 64.8h0M209.8 68.4h0M212.0 55.9h0M206.9 90.0h0M172.9 43.7h0M189.2 88.3h0M178.6 86.7h0M180.2 85.2h0M216.2 58.0h0M196.0 93.6h0M190.6 66.0h0M210.2 57.5h0M191.1 76.9h0M177.5 40.3h0M192.8 29.8h0" stroke="#40b2ba" stroke-width="1.24" stroke-linecap="round" fill="none"/>
<path d="M213.2 31.1h0M215.5 27.1h0M212.5 27.3h0M212.8 26.4h0M214.1 26.4h0M219.6 26.3h0M213.6 30.2h0M211.9 29.1h0M213.7 27.1h0M214.1 23.4h0" stroke="#a8cc48" stroke-width="1.24" stroke-linecap="round" fill="none"/>
<path d="M210.2 27.5h0M200.1 63.4h0M207.0 26.4h0M196.8 69.8h0M208.4 24.0h0M200.4 26.2h0M175.0 41.7h0M207.5 65.2h0M199.8 22.4h0M201.6 70.8h0M169.9 47.0h0M195.3 24.8h0M169.6 47.0h0M202.1 25.4h0M207.3 22.6h0M172.1 39.6h0M198.1 24.4h0M197.6 28.3h0" stroke="#e07a80" stroke-width="1.24" stroke-linecap="round" fill="none"/>
<path d="M177.3 72.1h0M230.8 74.1h0M202.8 62.8h0M222.1 68.3h0M213.3 70.5h0M196.6 31.0h0M190.3 67.7h0M203.2 67.4h0M208.1 66.4h0M223.1 68.8h0M200.9 62.5h0M204.4 72.8h0M213.9 61.7h0M202.8 64.0h0M213.7 62.5h0M190.1 85.9h0M212.4 70.0h0M211.6 55.8h0M208.9 61.7h0M192.1 77.6h0M205.1 66.0h0M169.7 40.8h0M204.5 67.6h0M188.5 66.8h0M177.3 71.4h0M214.2 64.5h0M201.7 65.3h0M196.6 69.7h0M222.7 68.6h0M196.7 67.6h0M179.5 86.7h0M225.8 68.0h0M191.3 27.8h0M207.1 63.7h0M185.1 70.8h0M193.3 31.0h0M218.2 60.6h0M217.1 57.4h0M198.0 69.6h0M202.0 60.7h0M210.1 65.3h0M191.4 75.5h0M193.6 31.2h0M196.3 30.9h0M209.3 71.1h0M196.3 70.3h0M205.8 58.2h0M211.4 64.2h0M205.5 58.1h0M211.0 62.8h0M180.9 78.0h0M196.8 69.2h0M188.4 69.7h0M183.8 87.7h0M204.0 71.9h0M202.4 65.6h0M170.1 40.1h0M217.9 63.5h0M191.5 70.9h0M213.2 70.8h0M187.9 76.9h0M205.8 59.0h0M171.1 45.1h0M222.3 67.7h0M203.4 62.7h0M192.9 70.1h0M192.1 75.8h0M201.1 64.9h0M223.7 90.9h0M218.7 63.0h0M203.2 62.8h0M218.6 74.3h0M220.2 64.0h0M196.8 66.3h0M230.1 71.7h0M199.6 28.2h0M215.9 55.6h0M203.0 73.4h0M212.2 57.3h0M208.5 32.7h0M177.6 69.7h0M217.5 59.2h0M206.1 66.6h0M159.2 58.0h0M192.7 73.0h0M213.8 59.4h0M188.9 70.3h0M214.1 70.8h0M175.0 42.2h0M212.7 59.4h0M184.7 78.0h0M207.2 79.7h0M202.7 64.0h0M211.6 62.8h0M214.6 63.3h0M184.7 71.3h0M176.0 72.5h0M202.5 67.5h0M201.0 62.0h0M208.1 65.9h0M230.0 68.9h0M211.8 65.1h0M202.1 62.7h0M193.4 26.5h0M191.3 78.0h0M198.5 64.9h0M203.4 64.9h0M196.6 67.7h0M159.4 58.1h0M218.0 53.5h0M202.7 65.2h0M192.7 27.6h0" stroke="#40b2ba" stroke-width="1.24" stroke-linecap="round" fill="none"/>
<path d="M221.5 90.3h0M203.3 60.0h0M195.8 73.4h0M196.1 66.1h0M182.4 74.9h0M187.8 75.1h0M218.1 72.5h0M215.9 58.9h0M187.8 76.2h0M183.7 88.1h0M207.9 81.8h0M192.9 67.5h0M207.1 27.3h0M207.3 91.7h0M184.9 84.4h0M196.1 75.8h0M201.2 29.3h0M206.2 78.7h0M193.7 66.9h0M189.4 73.0h0M187.9 89.0h0M181.4 76.5h0M193.5 65.5h0M183.9 80.4h0M192.2 72.3h0M196.2 72.6h0M208.1 26.9h0M190.1 67.0h0M206.8 32.7h0M195.6 94.1h0M179.5 81.2h0M217.2 34.2h0M182.7 85.1h0M222.8 93.8h0M186.2 68.2h0M188.0 76.3h0M183.9 89.2h0M187.1 74.6h0M205.0 58.1h0M191.9 68.7h0M188.2 77.0h0M232.0 71.1h0M191.7 64.9h0M201.5 80.6h0M218.0 72.5h0M196.0 91.8h0M190.1 82.1h0M200.9 33.9h0M194.3 31.7h0M186.1 84.6h0M200.0 25.7h0M208.1 28.9h0M217.7 54.4h0M196.9 69.4h0M181.1 77.9h0M230.1 67.0h0M179.9 83.1h0M188.0 75.3h0M207.5 29.6h0M184.1 84.3h0M201.8 28.1h0M202.6 31.6h0M207.5 67.1h0M192.9 26.7h0M194.2 68.2h0M207.8 29.7h0M179.1 86.9h0M194.1 75.4h0M208.0 22.1h0M182.6 83.7h0M204.1 31.2h0M208.8 59.9h0M206.5 21.8h0M187.1 87.8h0M186.0 72.6h0M220.7 63.0h0M206.4 30.4h0M206.2 65.1h0M185.9 68.7h0M182.1 80.4h0M190.1 66.3h0M220.0 63.3h0M199.4 65.8h0M183.9 85.4h0M200.3 73.9h0M192.5 68.7h0M207.6 29.6h0M189.4 72.7h0M206.8 89.5h0M184.5 90.2h0M193.8 72.3h0M205.6 91.2h0M205.6 66.2h0M184.5 86.6h0M178.7 84.4h0M233.0 71.3h0M220.4 92.6h0M194.8 79.8h0M195.6 72.5h0M207.3 31.1h0M186.2 79.7h0M200.6 26.4h0M188.0 86.2h0M198.8 73.7h0M196.9 66.6h0M231.4 70.1h0M205.3 27.2h0M209.7 27.9h0M189.1 84.5h0M191.5 76.7h0" stroke="#ac6cc4" stroke-width="1.24" stroke-linecap="round" fill="none"/>
<path d="M200.9 29.0h0M207.2 21.1h0M206.4 24.8h0M199.5 23.9h0M198.6 26.5h0M198.5 25.3h0M205.8 61.7h0M201.2 22.9h0M176.7 41.1h0M203.8 20.7h0M191.2 27.0h0M169.3 39.5h0M200.2 21.6h0M202.6 23.9h0M198.6 29.1h0" stroke="#e07a80" stroke-width="1.24" stroke-linecap="round" fill="none"/>
<path d="M220.2 27.0h0M216.4 28.8h0M211.1 30.3h0M218.2 27.8h0M213.1 29.6h0M218.3 26.5h0" stroke="#a8cc48" stroke-width="1.24" stroke-linecap="round" fill="none"/>
<path d="M206.3 26.1h0M233.7 70.9h0M194.7 71.7h0M198.7 65.7h0M196.5 65.6h0M231.9 73.1h0M181.0 88.6h0M205.0 21.5h0M221.9 63.9h0M190.6 75.0h0M206.3 22.1h0M199.2 92.5h0M187.4 72.9h0M193.7 74.8h0M200.6 64.7h0M182.8 78.2h0M183.2 77.4h0M209.5 25.8h0M187.6 82.1h0M186.4 68.3h0M187.2 73.1h0M205.7 29.9h0M188.0 68.0h0M232.1 72.5h0M181.5 86.0h0M202.1 27.6h0M194.1 26.9h0M195.5 74.2h0M223.3 68.3h0M202.9 24.6h0M221.6 63.8h0M205.8 25.6h0M232.3 68.7h0M208.2 90.4h0M188.4 85.7h0M197.9 64.8h0M200.7 30.0h0M212.9 72.1h0M231.6 69.8h0M181.6 86.7h0M179.4 80.6h0M187.7 67.1h0M208.1 27.5h0M213.5 62.6h0M192.7 73.1h0M184.9 77.4h0M220.5 91.9h0M195.7 92.7h0M200.9 32.9h0M207.3 94.3h0M183.4 81.2h0M182.8 84.1h0M189.7 75.5h0M200.8 80.1h0M180.8 86.4h0M191.8 79.9h0M197.3 68.2h0M218.6 73.5h0M180.6 82.4h0M185.2 79.8h0M208.1 54.7h0M195.5 73.0h0M209.0 71.3h0M208.2 65.9h0M233.4 72.0h0M201.8 31.4h0M184.8 79.0h0M206.7 31.2h0M205.0 33.1h0M219.6 72.6h0M184.2 83.4h0M180.7 81.1h0M208.5 26.9h0M206.7 88.0h0M202.8 29.2h0M180.9 80.1h0M213.3 73.2h0M192.4 75.4h0M198.7 57.6h0M205.6 91.6h0M186.4 67.3h0M205.3 29.2h0M183.8 89.1h0M202.8 67.1h0M187.3 72.9h0M207.7 32.7h0M184.1 90.2h0M179.9 81.3h0M181.8 80.0h0M209.2 28.8h0M193.5 67.9h0M181.4 74.9h0M192.6 68.2h0M187.4 67.9h0M202.3 34.2h0M192.0 67.5h0M223.4 92.2h0M186.7 73.6h0M199.8 69.4h0M185.7 80.8h0M192.5 77.2h0M204.7 78.5h0M207.0 90.0h0M179.4 87.4h0M178.4 84.6h0M204.3 79.7h0M207.5 65.7h0M184.9 81.5h0" stroke="#ac6cc4" stroke-width="1.24" stroke-linecap="round" fill="none"/>
<path d="M202.1 65.5h0M182.8 72.8h0M182.5 73.7h0M207.6 94.1h0M221.0 38.5h0M185.1 76.0h0M185.3 85.6h0M205.1 33.2h0M210.5 59.3h0M199.0 63.3h0M193.8 31.1h0M213.4 72.7h0M213.7 61.2h0M209.6 62.1h0M190.0 74.5h0M234.4 73.9h0M199.7 93.1h0M189.3 73.1h0M202.0 69.8h0M217.6 32.5h0M233.4 74.1h0M198.8 70.4h0M218.6 26.7h0M194.5 27.7h0M225.9 69.2h0M204.0 60.6h0M215.1 61.0h0M196.0 75.1h0M196.2 95.0h0M192.1 27.0h0M189.7 70.4h0M205.0 65.5h0M170.1 46.6h0M194.9 93.7h0M186.5 86.7h0M197.0 31.4h0M209.7 61.7h0M186.2 81.4h0M196.6 67.9h0M219.1 33.6h0M212.8 71.4h0M184.4 87.6h0M198.7 72.2h0M185.3 77.8h0M201.4 65.5h0M206.4 64.4h0M181.6 89.5h0M192.5 71.7h0M208.4 93.5h0M199.8 68.8h0M194.3 31.1h0M204.5 61.7h0M204.9 65.8h0M201.0 69.2h0M169.5 45.0h0M193.9 24.4h0M214.0 59.5h0M212.2 60.9h0M176.9 70.1h0M214.0 58.5h0M185.4 76.6h0M218.7 27.8h0M203.6 69.9h0M203.1 60.8h0M185.4 87.1h0M171.1 45.3h0M186.0 86.6h0M207.1 64.2h0M211.0 62.6h0M221.1 39.2h0M205.4 78.6h0M217.3 54.9h0M201.9 70.5h0M209.3 72.0h0M218.1 54.3h0M217.3 62.8h0M197.2 65.7h0M198.0 27.8h0M217.5 63.5h0M171.2 45.1h0M195.3 77.9h0M188.9 87.0h0M215.5 58.2h0M182.5 72.3h0M208.0 89.5h0M192.4 29.5h0M216.3 58.8h0M208.0 62.6h0M208.5 71.4h0M199.1 74.1h0M169.8 46.0h0M210.0 61.7h0M219.3 67.6h0M196.8 95.2h0M180.8 77.9h0M194.3 67.5h0M194.1 29.8h0M208.7 56.5h0M213.7 70.3h0M206.4 63.7h0M223.2 92.3h0M183.8 86.8h0M204.6 62.1h0M206.1 91.8h0M178.5 69.9h0M187.6 83.0h0M209.1 57.7h0M196.4 92.4h0M204.1 64.2h0M193.4 75.8h0M191.0 74.3h0M199.0 71.2h0M216.6 63.8h0M213.9 59.9h0M183.9 89.9h0" stroke="#40b2ba" stroke-width="1.24" stroke-linecap="round" fill="none"/>
<path d="M216.0 27.6h0M219.1 27.0h0M222.7 21.3h0M223.4 22.4h0M213.4 30.0h0M213.5 26.7h0" stroke="#a8cc48" stroke-width="1.24" stroke-linecap="round" fill="none"/>
<path d="M201.2 61.2h0M216.3 59.3h0M174.4 40.9h0M204.3 60.0h0M207.6 21.0h0M171.0 43.7h0M200.2 29.4h0M198.7 23.0h0M170.3 45.9h0M169.6 46.5h0M172.6 43.2h0M202.7 22.9h0M174.0 39.0h0M201.9 24.3h0" stroke="#e07a80" stroke-width="1.24" stroke-linecap="round" fill="none"/>
<path d="M179.3 87.0h0M180.1 88.3h0M212.6 61.7h0M206.4 61.8h0M195.1 31.3h0M191.6 70.4h0M191.2 77.8h0M197.6 70.7h0M221.9 39.5h0M179.4 78.9h0M198.3 92.7h0M208.0 62.5h0M189.0 82.2h0M175.0 41.4h0M220.7 63.9h0M180.2 69.6h0M215.2 62.6h0M190.7 73.0h0M205.3 27.0h0M208.0 80.8h0M179.0 87.3h0M218.7 67.9h0M187.1 82.6h0M160.0 57.1h0M192.1 79.1h0M201.0 61.6h0M194.1 75.6h0M203.8 62.3h0M206.5 54.2h0M199.4 33.1h0M208.9 56.1h0M218.9 59.1h0M205.8 34.1h0M216.6 57.6h0M200.6 62.6h0M209.9 64.9h0M207.8 55.0h0M192.7 77.3h0M208.9 61.9h0M186.2 76.5h0M232.0 69.6h0M221.3 60.9h0M191.7 77.4h0M200.4 80.2h0M171.0 40.1h0M221.3 91.4h0M224.3 67.8h0M195.8 93.1h0M188.5 87.6h0M187.5 86.9h0M206.4 61.6h0M205.5 63.5h0M220.9 90.5h0M210.8 66.2h0M207.4 53.5h0M213.7 59.6h0M203.7 34.1h0M185.8 85.9h0M208.5 66.2h0M209.7 67.4h0M195.4 24.7h0M179.0 70.9h0M197.5 65.2h0M216.1 61.2h0M202.2 67.4h0M232.0 73.3h0M197.5 70.7h0M199.4 70.8h0M199.9 71.7h0M210.9 66.4h0M189.4 70.9h0M217.3 54.3h0M176.3 41.2h0M192.0 26.5h0M206.9 89.5h0M217.2 58.4h0M192.1 26.3h0M200.8 79.7h0M210.5 60.0h0M218.3 60.2h0M172.6 39.1h0M182.5 74.9h0M186.6 86.7h0M181.2 68.6h0M185.2 83.9h0M217.0 59.0h0M201.6 26.3h0M215.0 30.4h0M204.0 61.0h0M208.3 93.0h0M209.4 56.0h0M199.4 67.7h0M218.8 60.8h0M183.2 80.3h0M192.1 30.7h0M189.2 80.7h0M221.2 38.7h0M208.8 57.3h0M201.0 63.5h0M185.3 87.3h0M171.1 45.7h0M212.7 59.0h0M203.0 63.1h0M225.5 68.4h0M216.3 62.0h0M216.4 62.6h0M224.7 68.9h0M229.0 69.0h0" stroke="#40b2ba" stroke-width="1.24" stroke-linecap="round" fill="none"/>
<path d="M206.4 29.3h0M213.2 71.4h0M221.5 64.8h0M194.7 75.0h0M184.6 75.2h0M190.8 70.4h0M201.3 32.6h0M186.0 76.9h0M234.5 71.5h0M191.8 84.1h0M209.3 67.3h0M185.2 86.4h0M183.5 79.8h0M183.8 77.3h0M184.2 73.9h0M191.1 70.7h0M196.0 92.9h0M191.7 85.0h0M207.9 28.6h0M206.3 88.5h0M206.2 67.8h0M185.9 86.4h0M190.8 67.6h0M180.6 80.0h0M218.8 67.7h0M192.7 68.4h0M191.8 67.2h0M199.2 28.4h0M188.9 87.8h0M189.7 70.2h0M198.0 93.9h0M194.4 76.0h0M232.3 68.2h0M185.7 88.4h0M206.2 93.4h0M219.2 72.4h0M184.1 80.6h0M181.8 83.2h0M190.6 82.3h0M206.6 26.7h0M179.3 88.6h0M210.0 28.3h0M194.1 80.0h0M186.5 73.6h0M188.1 73.4h0M189.7 70.8h0M203.2 32.6h0M194.7 80.0h0M183.4 77.6h0M191.6 84.9h0M182.0 78.1h0M193.5 73.5h0M191.6 67.6h0M189.4 73.1h0M202.2 31.0h0M199.2 32.8h0M187.1 79.9h0M200.1 72.2h0M200.1 69.9h0M198.7 92.8h0M185.1 80.7h0M219.6 63.1h0M220.4 92.3h0M206.6 94.0h0M217.7 32.3h0M182.2 84.7h0M195.6 72.5h0M181.4 81.5h0M209.5 71.1h0M189.0 85.0h0M190.6 82.7h0M210.2 26.5h0M203.8 26.5h0M186.2 74.2h0M186.2 82.4h0M199.7 26.8h0M191.8 81.8h0M193.7 27.3h0M202.1 34.4h0M191.3 84.8h0M218.0 62.3h0M179.6 86.3h0M232.8 72.6h0M192.8 83.9h0M180.4 84.4h0M207.1 62.0h0M191.8 81.7h0M196.4 73.6h0M207.4 80.4h0M184.7 69.9h0M230.0 69.6h0M209.8 27.6h0M199.4 33.1h0M219.7 67.5h0M200.9 23.4h0M205.3 63.5h0M182.7 77.2h0M206.6 80.9h0M199.5 27.3h0M200.6 68.9h0M206.8 63.2h0" stroke="#ac6cc4" stroke-width="1.24" stroke-linecap="round" fill="none"/>
<path d="M211.2 31.5h0M213.7 25.8h0M212.5 27.0h0M218.2 28.0h0M211.5 30.4h0M212.2 31.8h0M215.3 24.1h0M215.7 27.1h0M214.3 27.4h0" stroke="#a8cc48" stroke-width="1.24" stroke-linecap="round" fill="none"/>
<path d="M197.5 24.8h0M198.2 24.9h0M202.5 24.1h0M203.5 28.4h0M200.4 27.9h0M197.6 23.7h0M170.8 47.5h0M204.5 22.6h0M170.4 42.2h0M209.2 30.6h0M206.0 22.5h0M197.9 29.9h0M202.8 24.4h0M172.9 43.3h0M171.7 41.9h0M198.1 27.7h0M218.3 57.9h0M204.8 29.9h0M200.1 24.0h0M205.9 24.9h0M205.7 21.4h0M216.5 56.1h0M205.4 22.3h0M205.3 29.7h0" stroke="#e07a80" stroke-width="1.24" stroke-linecap="round" fill="none"/>
<path d="M188.7 75.9h0M209.6 26.0h0M204.7 32.0h0M186.6 87.2h0M183.5 83.8h0M193.4 76.3h0M187.1 66.9h0M202.9 29.9h0M193.9 76.4h0M200.5 63.4h0M198.2 73.8h0M196.0 67.2h0M189.0 73.6h0M231.5 73.1h0M201.8 21.6h0M220.3 91.6h0M185.2 77.8h0M193.8 73.7h0M183.6 74.3h0M188.2 74.8h0M229.8 69.2h0M193.5 65.9h0M194.6 73.5h0M189.7 74.0h0M195.8 67.9h0M189.6 76.0h0M195.5 66.2h0M209.2 68.3h0M220.1 60.6h0M183.2 83.5h0M203.0 30.8h0M208.3 53.8h0M207.0 23.1h0M180.7 79.7h0M215.6 30.5h0M208.1 29.2h0M218.2 34.0h0M186.9 87.2h0M233.8 70.8h0M196.8 67.5h0M190.1 77.6h0M196.6 68.7h0M181.6 85.7h0M210.3 26.5h0M192.7 75.4h0M191.4 82.0h0M209.1 28.9h0M181.2 85.5h0M197.5 69.7h0M207.8 66.4h0M196.2 73.6h0M228.4 68.4h0M188.2 74.9h0M193.1 24.7h0M200.6 30.4h0M216.7 31.9h0M205.7 22.9h0M182.2 89.0h0M199.9 27.3h0M231.1 66.8h0M182.0 81.3h0M193.5 73.6h0M196.3 68.5h0M187.1 77.3h0M179.8 85.4h0M196.8 94.3h0M206.7 25.7h0M232.4 71.6h0M197.6 71.7h0M178.2 83.9h0M220.5 91.0h0M199.7 30.2h0M189.6 70.9h0M198.0 95.0h0M184.7 75.7h0M199.6 31.5h0M216.1 31.7h0M195.3 74.5h0M191.7 68.8h0M191.8 81.5h0M188.5 78.2h0M194.4 68.6h0M209.5 31.0h0M201.9 30.0h0M201.6 65.6h0M202.9 30.8h0M176.7 71.4h0M201.8 22.7h0M196.3 72.7h0M187.7 79.7h0M223.6 67.5h0M184.3 89.8h0M232.1 72.7h0M208.4 66.0h0M188.5 76.9h0M181.8 76.3h0M188.7 78.2h0M184.1 85.7h0M193.4 83.9h0M189.3 66.8h0M193.5 65.6h0M185.1 76.9h0M184.3 86.0h0M182.6 81.0h0M216.9 33.6h0M205.0 30.4h0M185.8 87.4h0M196.5 25.2h0M208.3 56.2h0M182.3 72.1h0" stroke="#ac6cc4" stroke-width="1.24" stroke-linecap="round" fill="none"/>
<path d="M170.0 45.3h0M205.1 21.4h0M205.3 23.3h0M204.4 24.7h0M170.7 46.1h0M204.1 22.1h0M199.9 25.5h0M204.8 21.2h0M206.8 24.7h0M202.1 21.7h0M202.9 22.7h0M201.1 25.1h0M205.8 64.5h0M199.4 27.2h0M200.1 26.0h0M204.5 23.8h0M205.0 24.9h0M199.0 22.3h0M209.6 24.9h0M171.1 44.5h0M204.4 24.4h0M175.0 42.6h0M172.6 41.3h0" stroke="#e07a80" stroke-width="1.24" stroke-linecap="round" fill="none"/>
<path d="M208.0 60.0h0M204.8 79.4h0M197.8 92.1h0M218.6 63.0h0M182.8 88.1h0M189.3 70.1h0M180.9 69.8h0M211.9 61.7h0M192.0 66.4h0M203.3 63.1h0M209.9 67.2h0M207.5 57.4h0M173.9 43.3h0M195.0 75.4h0M217.5 58.7h0M186.1 81.1h0M199.7 68.3h0M218.9 63.4h0M196.2 57.5h0M222.8 90.2h0M197.1 67.0h0M206.3 33.9h0M205.2 58.6h0M191.5 27.9h0M220.5 93.2h0M203.9 67.9h0M206.2 64.6h0M189.4 81.2h0M208.0 59.9h0M197.2 95.2h0M183.7 84.7h0M213.3 60.6h0M203.4 60.7h0M214.2 58.0h0M183.9 72.2h0M208.5 79.6h0M214.4 55.4h0M216.0 54.5h0M208.1 58.5h0M214.7 59.1h0M191.8 30.0h0M200.0 32.9h0M181.2 89.5h0M196.8 57.6h0M205.6 60.8h0M192.1 24.4h0M193.1 76.6h0M220.2 92.5h0M187.3 78.8h0M215.3 56.4h0M212.5 61.9h0M189.0 83.5h0M204.6 65.2h0M211.6 59.1h0M183.5 71.3h0M213.3 57.0h0M217.2 57.4h0M177.3 39.8h0M187.9 81.5h0M187.3 88.0h0M207.4 62.2h0M191.0 27.4h0M205.4 68.1h0M176.0 40.3h0M219.6 74.7h0M175.2 40.9h0M190.2 82.3h0M201.8 63.5h0M172.8 41.8h0M219.6 73.6h0M229.7 69.4h0M198.5 64.2h0M185.2 82.6h0M212.0 64.1h0M219.3 68.5h0M159.1 57.3h0M172.9 40.8h0M201.9 70.6h0M230.4 71.0h0M202.5 64.0h0M214.2 63.0h0M186.0 76.7h0M170.7 39.5h0M204.3 61.7h0M192.5 25.7h0M183.0 77.0h0M203.7 69.6h0M217.9 68.1h0M178.4 83.8h0M190.3 66.2h0M199.6 65.5h0M201.2 63.8h0M195.3 23.8h0M212.4 59.8h0M216.5 54.5h0M232.4 74.9h0M186.4 85.5h0M187.9 81.7h0M218.5 68.8h0M206.5 58.2h0" stroke="#40b2ba" stroke-width="1.24" stroke-linecap="round" fill="none"/>
<path d="M213.7 24.9h0M213.3 31.0h0M210.9 31.4h0M217.4 27.9h0M216.4 28.9h0M216.0 28.6h0M223.3 22.8h0M218.1 27.6h0M214.7 23.5h0" stroke="#a8cc48" stroke-width="1.24" stroke-linecap="round" fill="none"/>
<path d="M207.8 59.9h0M205.2 60.6h0M209.6 31.1h0M214.5 61.4h0M186.0 73.9h0M221.8 92.0h0M219.9 68.0h0M206.4 58.1h0M198.0 71.4h0M207.5 60.3h0M200.8 66.5h0M203.3 65.9h0M219.5 75.4h0M207.5 61.8h0M190.6 86.7h0M203.6 72.0h0M213.5 61.7h0M184.4 77.9h0M221.3 91.8h0M231.4 71.5h0M205.6 34.1h0M208.4 89.2h0M192.1 78.0h0M208.8 56.7h0M216.6 62.4h0M185.5 83.0h0M199.1 71.2h0M200.5 81.0h0M198.9 94.4h0M219.2 60.6h0M221.6 90.1h0M188.2 83.5h0M183.9 84.4h0M194.7 28.8h0M220.5 39.8h0M211.7 59.6h0M193.6 25.2h0M208.1 79.6h0M211.0 58.1h0M196.9 68.7h0M216.3 62.9h0M192.0 26.6h0M194.3 31.7h0M218.5 67.5h0M193.0 67.5h0M169.9 40.8h0M221.4 89.7h0M192.6 64.7h0M196.3 24.4h0M208.4 26.3h0M172.2 44.4h0M196.8 68.7h0M206.5 54.9h0M214.3 59.9h0M205.4 77.6h0M196.1 70.2h0M175.4 41.4h0M210.2 63.0h0M188.8 85.6h0M194.5 26.4h0M209.3 61.2h0M176.6 71.5h0M197.1 30.3h0M220.5 38.9h0M202.0 64.1h0M205.9 63.9h0M169.7 40.9h0M207.6 60.6h0M202.3 68.1h0M218.2 67.5h0M203.7 66.8h0M221.5 94.8h0M182.8 72.5h0M211.7 63.5h0M221.8 39.7h0M195.5 77.4h0M211.0 63.1h0M219.2 73.0h0M211.7 62.1h0M193.5 77.5h0M196.0 64.8h0M233.3 71.0h0M202.7 60.0h0M201.0 64.3h0M199.1 72.0h0M211.5 28.9h0M220.9 61.7h0M206.5 68.5h0M202.5 64.7h0M177.1 41.3h0M206.0 94.3h0M201.3 62.5h0M208.1 56.4h0M219.6 67.8h0M209.5 65.2h0M183.4 73.4h0" stroke="#40b2ba" stroke-width="1.24" stroke-linecap="round" fill="none"/>
<path d="M200.6 25.9h0M204.8 34.1h0M190.2 70.8h0M192.2 78.8h0M185.4 85.3h0M219.8 63.0h0M185.2 82.9h0M207.4 79.6h0M188.7 72.9h0M205.7 32.7h0M180.3 81.5h0M217.8 68.8h0M187.5 77.4h0M204.2 79.4h0M182.3 87.1h0M192.0 67.4h0M202.7 69.8h0M198.9 28.7h0M180.2 87.4h0M191.8 67.9h0M178.4 86.1h0M182.3 88.1h0M209.9 26.2h0M230.9 70.5h0M191.8 66.7h0M193.8 68.4h0M209.7 26.0h0M196.7 71.2h0M194.3 94.1h0M191.7 68.3h0M202.8 26.1h0M200.8 26.6h0M198.4 30.8h0M190.3 70.5h0M207.3 20.9h0M205.5 27.7h0M217.2 62.2h0M187.6 77.0h0M206.4 25.9h0M221.1 68.7h0M198.7 57.8h0M184.3 86.0h0M200.3 72.2h0M221.8 67.4h0M198.8 70.4h0M200.9 73.6h0M192.5 73.7h0M181.1 88.6h0M200.6 31.0h0M203.5 28.8h0M214.2 73.9h0M206.4 93.5h0M201.7 67.5h0M208.8 23.1h0M186.0 86.9h0M193.2 71.5h0M195.0 75.1h0M206.9 26.2h0M182.2 88.8h0M205.5 92.6h0M194.5 79.3h0M182.3 89.3h0M193.9 26.8h0M185.1 88.2h0M183.5 85.8h0M213.6 73.2h0M182.2 87.4h0M183.2 81.3h0M191.4 82.2h0M184.4 75.1h0M186.1 69.7h0M200.9 26.6h0M195.2 74.7h0M204.5 79.0h0M190.6 81.0h0M196.8 67.0h0M179.9 78.7h0M187.2 67.4h0M196.0 73.8h0M208.7 27.1h0M212.0 59.6h0M200.4 31.8h0M193.7 79.3h0M188.8 74.6h0M181.3 78.9h0M186.6 86.3h0M197.3 74.9h0M196.7 26.7h0M219.5 68.2h0M192.5 84.3h0M193.3 64.5h0M200.8 27.6h0M218.0 33.7h0M217.1 33.3h0M217.8 63.7h0M202.3 26.5h0M206.9 89.3h0M231.4 67.4h0M205.9 28.2h0M219.3 68.8h0M183.2 73.5h0M186.0 77.3h0M191.9 69.0h0M233.1 72.1h0M192.1 70.1h0M208.1 23.4h0M182.5 85.5h0M202.9 66.2h0M181.9 83.3h0M188.7 81.7h0M194.9 66.0h0M206.8 64.9h0M209.0 26.0h0M200.0 30.4h0M215.5 62.1h0M188.9 67.0h0" stroke="#ac6cc4" stroke-width="1.24" stroke-linecap="round" fill="none"/>
<path d="M220.2 26.9h0M219.9 26.2h0M213.4 27.5h0M224.3 23.1h0M218.8 26.7h0M211.5 28.9h0M212.2 28.8h0M216.0 28.3h0M216.3 28.2h0M217.2 28.6h0" stroke="#a8cc48" stroke-width="1.24" stroke-linecap="round" fill="none"/>
<path d="M196.4 30.1h0M170.2 40.7h0M174.3 41.1h0M206.5 24.5h0M199.2 24.9h0M210.5 65.8h0M203.2 24.1h0M216.2 57.6h0M208.6 27.4h0M207.7 24.0h0M198.8 25.6h0M206.1 22.0h0M199.2 23.1h0M196.9 27.8h0M172.3 42.2h0M208.2 61.5h0M203.6 22.2h0M201.0 29.3h0M204.8 20.9h0M217.3 60.5h0" stroke="#e07a80" stroke-width="1.24" stroke-linecap="round" fill="none"/>
<path d="M327.6,27.0C327.8,25.8 328.5,23.6 329.5,22.6C330.5,21.6 333.0,20.8 334.5,20.5C336.0,20.2 338.4,20.2 339.5,20.8C340.6,21.3 341.5,22.6 342.0,23.9C342.5,25.2 342.8,28.1 342.6,29.5C342.4,30.9 341.8,32.4 340.8,33.2C339.7,34.1 337.2,35.1 335.8,35.1C334.2,35.1 331.9,33.9 330.8,33.2C329.6,32.6 328.7,31.7 328.2,30.8C327.8,29.8 327.4,28.2 327.6,27.0Z" fill="#9280ad" opacity="0.85"/>
<path d="M322.6,27.6C322.8,26.7 323.3,24.9 324.0,24.2C324.7,23.5 326.2,23.0 327.0,22.8C327.8,22.6 329.2,22.3 329.5,22.6C329.8,22.9 329.3,24.0 329.0,24.5C328.7,25.0 327.8,25.4 327.5,25.8C327.2,26.2 326.8,26.9 326.8,27.5C326.8,28.1 327.2,28.9 327.5,29.5C327.8,30.1 328.9,31.1 329.0,31.5C329.1,31.9 328.6,32.5 328.0,32.5C327.4,32.5 325.8,31.9 325.0,31.5C324.2,31.1 323.4,30.6 323.0,30.0C322.6,29.4 322.5,28.5 322.6,27.6Z" fill="#bd7d8c" opacity="0.85"/>
<path d="M342.0,31.5C341.9,30.7 343.4,28.3 344.0,27.0C344.6,25.7 345.7,23.5 346.3,23.0C346.9,22.5 348.0,23.0 348.0,23.6C348.0,24.2 346.4,26.7 346.5,27.2C346.6,27.7 348.1,27.0 349.0,26.8C349.9,26.6 352.2,25.5 352.8,25.6C353.4,25.7 353.8,26.6 353.0,27.2C352.2,27.8 348.8,28.7 347.5,29.5C346.2,30.3 345.3,32.2 344.5,32.5C343.7,32.8 342.1,32.3 342.0,31.5Z" fill="#3ea44b" opacity="0.85"/>
<path d="M346.5,30.0C346.7,29.8 347.2,29.9 348.0,30.5C348.8,31.1 351.2,33.3 351.5,34.0C351.8,34.7 350.8,35.3 350.0,35.0C349.2,34.7 347.0,32.5 346.5,31.8C346.0,31.1 346.3,30.2 346.5,30.0Z" fill="#8382b8" opacity="0.85"/>
<path d="M354.0,21.0C353.9,20.5 354.6,20.4 355.0,20.8C355.4,21.2 356.7,23.1 356.8,23.6C356.9,24.1 356.4,24.7 356.0,24.3C355.6,23.9 354.1,21.5 354.0,21.0Z" fill="#30a848" opacity="0.85"/>
<path d="M354.2,39.5C354.2,39.6 354.2,39.8 354.1,39.9C354.1,40.0 353.9,40.2 353.8,40.3C353.8,40.4 353.6,40.5 353.5,40.5C353.3,40.6 353.1,40.6 353.0,40.6C352.9,40.6 352.7,40.6 352.5,40.5C352.4,40.5 352.2,40.4 352.2,40.3C352.1,40.2 351.9,40.0 351.9,39.9C351.8,39.8 351.8,39.6 351.8,39.5C351.8,39.4 351.8,39.2 351.9,39.1C351.9,39.0 352.1,38.8 352.2,38.7C352.2,38.6 352.4,38.5 352.5,38.5C352.7,38.4 352.9,38.4 353.0,38.4C353.1,38.4 353.3,38.4 353.5,38.5C353.6,38.5 353.8,38.6 353.8,38.7C353.9,38.8 354.1,39.0 354.1,39.1C354.2,39.2 354.2,39.4 354.2,39.5Z" fill="#e07a72" opacity="0.85"/>
<path d="M301.3,38.5C302.1,37.9 304.5,38.7 306.0,39.0C307.5,39.3 310.9,39.8 311.2,40.2C311.5,40.7 308.9,41.4 308.0,42.0C307.1,42.6 305.7,43.5 305.0,44.0C304.3,44.5 303.6,44.4 303.3,45.0C303.0,45.6 303.3,47.4 303.0,47.7C302.7,48.0 301.9,48.0 301.6,47.3C301.3,46.6 301.0,44.3 301.0,43.0C301.0,41.7 300.6,39.1 301.3,38.5Z" fill="#e07a72" opacity="0.85"/>
<path d="M292.2,57.5C292.2,57.6 292.2,57.7 292.1,57.8C292.1,57.8 292.1,57.9 292.0,58.0C291.9,58.1 291.8,58.1 291.8,58.1C291.7,58.2 291.6,58.2 291.5,58.2C291.4,58.2 291.3,58.2 291.2,58.1C291.2,58.1 291.1,58.1 291.0,58.0C290.9,57.9 290.9,57.8 290.9,57.8C290.8,57.7 290.8,57.6 290.8,57.5C290.8,57.4 290.8,57.3 290.9,57.2C290.9,57.2 290.9,57.1 291.0,57.0C291.1,56.9 291.2,56.9 291.2,56.9C291.3,56.8 291.4,56.8 291.5,56.8C291.6,56.8 291.7,56.8 291.8,56.9C291.8,56.9 291.9,56.9 292.0,57.0C292.1,57.1 292.1,57.2 292.1,57.2C292.2,57.3 292.2,57.4 292.2,57.5Z" fill="#e07a72" opacity="0.85"/>
<path d="M309.8,85.0C309.9,83.4 310.9,79.9 311.5,78.0C312.1,76.1 312.9,74.2 314.0,72.5C315.1,70.8 316.9,68.3 318.5,67.0C320.1,65.7 322.9,63.9 324.5,63.5C326.1,63.1 328.2,63.8 329.0,64.5C329.8,65.2 329.6,66.6 329.5,68.0C329.4,69.4 328.7,72.5 328.5,74.0C328.3,75.5 328.4,76.7 328.0,78.0C327.6,79.3 326.7,81.7 326.0,83.0C325.3,84.3 324.6,86.0 323.5,87.0C322.4,88.0 320.4,89.5 319.0,90.0C317.6,90.5 315.7,90.7 314.5,90.5C313.3,90.3 311.7,89.3 311.0,88.5C310.3,87.7 309.7,86.6 309.8,85.0Z" fill="#8282b9" opacity="0.85"/>
<path d="M327.5,66.5C327.8,64.9 330.1,64.0 331.2,63.0C332.4,62.0 333.9,60.5 335.0,59.5C336.1,58.5 337.3,57.3 338.8,56.6C340.2,55.9 342.7,54.8 344.4,54.7C346.1,54.6 348.9,55.4 350.0,56.0C351.1,56.6 351.4,58.1 351.5,59.0C351.6,59.9 351.8,61.3 351.0,62.2C350.2,63.1 348.1,64.0 346.2,65.0C344.4,66.0 340.7,67.7 338.8,68.8C336.8,69.8 334.4,71.3 333.0,72.0C331.6,72.7 330.2,74.2 329.4,73.4C328.6,72.6 327.2,68.1 327.5,66.5Z" fill="#c57c85" opacity="0.85"/>
<path d="M361.8,67.0C362.1,66.2 363.0,66.4 363.5,66.7C364.0,67.0 364.5,68.2 365.0,69.0C365.5,69.8 366.8,71.1 367.0,72.0C367.2,72.9 367.1,74.5 366.5,75.0C365.9,75.5 363.8,75.5 363.0,75.0C362.2,74.5 361.7,73.2 361.5,72.0C361.3,70.8 361.5,67.8 361.8,67.0Z" fill="#8582b6" opacity="0.85"/>
<path d="M307.5,73.0C307.5,72.4 307.8,70.7 308.5,70.0C309.2,69.3 311.1,68.7 312.0,68.5C312.9,68.3 314.4,68.4 314.5,68.6C314.6,68.8 313.7,69.6 313.0,70.0C312.3,70.4 310.7,70.9 310.0,71.5C309.3,72.1 308.9,73.8 308.5,74.0C308.1,74.2 307.5,73.6 307.5,73.0Z" fill="#c87c84" opacity="0.85"/>
<path d="M348.0,61.5C349.0,61.4 353.5,62.8 354.5,63.3C355.5,63.8 355.5,64.9 354.5,65.0C353.5,65.1 349.0,64.3 348.0,63.8C347.0,63.3 347.0,61.6 348.0,61.5Z" fill="#aa7e9a" opacity="0.85"/>
<path d="M349.5,67.0C351.4,66.8 360.1,67.4 362.0,67.8C363.9,68.2 363.9,69.2 362.0,69.4C360.1,69.6 351.4,69.2 349.5,68.8C347.6,68.4 347.6,67.2 349.5,67.0Z" fill="#b37e94" opacity="0.85"/>
<path d="M350.3,53.9C350.3,54.0 350.3,54.2 350.2,54.3C350.1,54.4 350.0,54.6 349.9,54.7C349.8,54.8 349.6,54.9 349.5,54.9C349.4,55.0 349.1,55.0 349.0,55.0C348.9,55.0 348.6,55.0 348.5,54.9C348.4,54.9 348.2,54.8 348.1,54.7C348.0,54.6 347.9,54.4 347.8,54.3C347.7,54.2 347.7,54.0 347.7,53.9C347.7,53.8 347.7,53.6 347.8,53.5C347.9,53.4 348.0,53.2 348.1,53.1C348.2,53.0 348.4,52.9 348.5,52.9C348.6,52.8 348.9,52.8 349.0,52.8C349.1,52.8 349.4,52.8 349.5,52.9C349.6,52.9 349.8,53.0 349.9,53.1C350.0,53.2 350.1,53.4 350.2,53.5C350.3,53.6 350.3,53.8 350.3,53.9Z" fill="#cc7b80" opacity="0.85"/>
<path d="M341.1,54.0C341.1,54.1 341.1,54.3 341.0,54.4C341.0,54.5 340.8,54.6 340.7,54.7C340.6,54.8 340.4,54.9 340.2,55.0C340.1,55.1 339.8,55.2 339.7,55.2C339.5,55.2 339.2,55.2 339.0,55.2C338.9,55.2 338.6,55.2 338.5,55.1C338.4,55.1 338.2,55.0 338.1,54.9C338.0,54.8 337.9,54.7 337.9,54.6C337.9,54.5 337.9,54.3 338.0,54.2C338.0,54.1 338.2,54.0 338.3,53.9C338.4,53.8 338.6,53.7 338.8,53.6C338.9,53.5 339.2,53.4 339.3,53.4C339.5,53.4 339.8,53.4 340.0,53.4C340.1,53.4 340.4,53.4 340.5,53.5C340.6,53.5 340.8,53.6 340.9,53.7C341.0,53.8 341.1,53.9 341.1,54.0Z" fill="#b97d8f" opacity="0.85"/>
<path d="M346.4,71.3C346.4,71.6 346.5,72.0 346.6,72.2C346.6,72.5 346.6,72.9 346.6,73.1C346.6,73.3 346.5,73.6 346.5,73.7C346.4,73.9 346.3,74.0 346.2,74.0C346.1,74.0 345.9,74.0 345.8,73.9C345.7,73.8 345.5,73.6 345.4,73.4C345.2,73.3 345.1,72.9 345.0,72.7C344.8,72.4 344.7,72.0 344.6,71.7C344.6,71.4 344.5,71.0 344.4,70.8C344.4,70.5 344.4,70.1 344.4,69.9C344.4,69.7 344.5,69.4 344.5,69.3C344.6,69.1 344.7,69.0 344.8,69.0C344.9,69.0 345.1,69.0 345.2,69.1C345.3,69.2 345.5,69.4 345.6,69.6C345.8,69.7 345.9,70.1 346.0,70.3C346.2,70.6 346.3,71.0 346.4,71.3Z" fill="#a87f9c" opacity="0.85"/>
<path d="M351.9,73.0C351.9,73.3 352.0,73.7 352.1,73.9C352.1,74.2 352.1,74.6 352.1,74.8C352.1,75.0 352.0,75.3 352.0,75.4C351.9,75.6 351.8,75.7 351.7,75.7C351.6,75.7 351.4,75.7 351.3,75.6C351.2,75.5 351.0,75.3 350.9,75.1C350.7,75.0 350.6,74.6 350.5,74.4C350.3,74.1 350.2,73.7 350.1,73.4C350.1,73.1 350.0,72.7 349.9,72.5C349.9,72.2 349.9,71.8 349.9,71.6C349.9,71.4 350.0,71.1 350.0,71.0C350.1,70.8 350.2,70.7 350.3,70.7C350.4,70.7 350.6,70.7 350.7,70.8C350.8,70.9 351.0,71.1 351.1,71.3C351.3,71.4 351.4,71.8 351.5,72.0C351.7,72.3 351.8,72.7 351.9,73.0Z" fill="#9d80a5" opacity="0.85"/>
<path d="M338.3,78.8C338.3,78.9 338.3,79.1 338.2,79.2C338.1,79.4 338.0,79.6 337.9,79.7C337.8,79.8 337.6,79.9 337.5,80.0C337.4,80.0 337.1,80.0 337.0,80.0C336.9,80.0 336.6,80.0 336.5,80.0C336.4,79.9 336.2,79.8 336.1,79.7C336.0,79.6 335.9,79.4 335.8,79.2C335.7,79.1 335.7,78.9 335.7,78.8C335.7,78.6 335.7,78.4 335.8,78.3C335.9,78.1 336.0,77.9 336.1,77.8C336.2,77.7 336.4,77.6 336.5,77.5C336.6,77.5 336.9,77.5 337.0,77.5C337.1,77.5 337.4,77.5 337.5,77.5C337.6,77.6 337.8,77.7 337.9,77.8C338.0,77.9 338.1,78.1 338.2,78.3C338.3,78.4 338.3,78.6 338.3,78.8Z" fill="#9580aa" opacity="0.85"/>
<path d="M340.7,80.5C340.7,80.7 340.7,80.9 340.6,81.1C340.6,81.3 340.4,81.5 340.3,81.6C340.3,81.8 340.1,81.9 340.0,82.0C339.8,82.0 339.6,82.1 339.5,82.1C339.4,82.1 339.2,82.0 339.0,82.0C338.9,81.9 338.7,81.8 338.7,81.6C338.6,81.5 338.4,81.3 338.4,81.1C338.3,80.9 338.3,80.7 338.3,80.5C338.3,80.3 338.3,80.1 338.4,79.9C338.4,79.7 338.6,79.5 338.7,79.4C338.7,79.2 338.9,79.1 339.0,79.0C339.2,79.0 339.4,78.9 339.5,78.9C339.6,78.9 339.8,79.0 340.0,79.0C340.1,79.1 340.3,79.2 340.3,79.4C340.4,79.5 340.6,79.7 340.6,79.9C340.7,80.1 340.7,80.3 340.7,80.5Z" fill="#9d80a5" opacity="0.85"/>
<path d="M333.1,73.4C333.1,73.5 333.1,73.7 333.0,73.8C333.0,73.9 332.8,74.1 332.7,74.2C332.5,74.3 332.3,74.5 332.0,74.6C331.8,74.7 331.5,74.9 331.3,75.0C331.0,75.0 330.7,75.1 330.5,75.2C330.2,75.2 329.9,75.3 329.7,75.3C329.5,75.3 329.3,75.2 329.2,75.2C329.1,75.1 329.0,75.0 328.9,75.0C328.9,74.9 328.9,74.7 329.0,74.6C329.0,74.5 329.2,74.3 329.3,74.2C329.5,74.1 329.7,73.9 330.0,73.8C330.2,73.7 330.5,73.5 330.7,73.4C331.0,73.4 331.3,73.3 331.5,73.2C331.8,73.2 332.1,73.1 332.3,73.1C332.5,73.1 332.7,73.2 332.8,73.2C332.9,73.3 333.0,73.4 333.1,73.4Z" fill="#8682b6" opacity="0.85"/>
<path d="M336.9,72.0C336.9,72.1 336.9,72.2 336.9,72.3C336.9,72.4 336.8,72.6 336.7,72.7C336.6,72.8 336.4,72.9 336.3,73.0C336.2,73.1 335.9,73.2 335.8,73.3C335.6,73.3 335.4,73.4 335.2,73.4C335.1,73.4 334.8,73.4 334.7,73.4C334.6,73.4 334.4,73.3 334.3,73.3C334.2,73.2 334.1,73.1 334.1,73.0C334.1,72.9 334.1,72.8 334.1,72.7C334.1,72.6 334.2,72.4 334.3,72.3C334.4,72.2 334.6,72.1 334.7,72.0C334.8,71.9 335.1,71.8 335.2,71.7C335.4,71.7 335.6,71.6 335.8,71.6C335.9,71.6 336.2,71.6 336.3,71.6C336.4,71.6 336.6,71.7 336.7,71.7C336.8,71.8 336.9,71.9 336.9,72.0Z" fill="#e07a72" opacity="0.85"/>
<path d="M333.8,80.3C333.7,80.4 333.6,80.6 333.5,80.7C333.4,80.8 333.3,81.0 333.2,81.1C333.1,81.1 333.0,81.2 332.9,81.2C332.8,81.3 332.6,81.3 332.6,81.2C332.5,81.2 332.4,81.1 332.3,81.0C332.2,80.9 332.2,80.8 332.2,80.7C332.1,80.5 332.1,80.4 332.1,80.2C332.1,80.1 332.2,79.9 332.2,79.7C332.3,79.6 332.4,79.4 332.5,79.3C332.6,79.2 332.7,79.0 332.8,78.9C332.9,78.9 333.0,78.8 333.1,78.8C333.2,78.7 333.4,78.7 333.4,78.8C333.5,78.8 333.6,78.9 333.7,79.0C333.8,79.1 333.8,79.2 333.8,79.3C333.9,79.5 333.9,79.6 333.9,79.8C333.9,79.9 333.8,80.1 333.8,80.3Z" fill="#aa7e9a" opacity="0.85"/>
<path d="M329.0,57.4C329.0,57.5 329.0,57.5 329.0,57.6C328.9,57.6 328.9,57.7 328.9,57.8C328.8,57.8 328.7,57.8 328.7,57.9C328.6,57.9 328.6,57.9 328.5,57.9C328.4,57.9 328.4,57.9 328.3,57.9C328.3,57.8 328.2,57.8 328.1,57.8C328.1,57.7 328.1,57.6 328.0,57.6C328.0,57.5 328.0,57.5 328.0,57.4C328.0,57.3 328.0,57.3 328.0,57.2C328.1,57.2 328.1,57.1 328.1,57.0C328.2,57.0 328.3,57.0 328.3,56.9C328.4,56.9 328.4,56.9 328.5,56.9C328.6,56.9 328.6,56.9 328.7,56.9C328.7,57.0 328.8,57.0 328.9,57.0C328.9,57.1 328.9,57.2 329.0,57.2C329.0,57.3 329.0,57.3 329.0,57.4Z" fill="#e07a72" opacity="0.85"/>
<path d="M331.3,57.4C331.3,57.5 331.3,57.5 331.3,57.6C331.2,57.6 331.2,57.7 331.2,57.8C331.1,57.8 331.0,57.8 331.0,57.9C330.9,57.9 330.9,57.9 330.8,57.9C330.7,57.9 330.7,57.9 330.6,57.9C330.6,57.8 330.5,57.8 330.4,57.8C330.4,57.7 330.4,57.6 330.3,57.6C330.3,57.5 330.3,57.5 330.3,57.4C330.3,57.3 330.3,57.3 330.3,57.2C330.4,57.2 330.4,57.1 330.4,57.0C330.5,57.0 330.6,57.0 330.6,56.9C330.7,56.9 330.7,56.9 330.8,56.9C330.9,56.9 330.9,56.9 331.0,56.9C331.0,57.0 331.1,57.0 331.2,57.0C331.2,57.1 331.2,57.2 331.3,57.2C331.3,57.3 331.3,57.3 331.3,57.4Z" fill="#5a86d8" opacity="0.85"/>
<path d="M353.9,61.3C353.9,61.4 353.9,61.6 353.8,61.7C353.8,61.8 353.7,61.9 353.6,62.0C353.5,62.1 353.3,62.2 353.2,62.2C353.1,62.3 352.9,62.3 352.8,62.3C352.7,62.3 352.5,62.3 352.4,62.2C352.3,62.2 352.1,62.1 352.0,62.0C351.9,61.9 351.8,61.8 351.8,61.7C351.7,61.6 351.7,61.4 351.7,61.3C351.7,61.2 351.7,61.0 351.8,60.9C351.8,60.8 351.9,60.7 352.0,60.6C352.1,60.5 352.3,60.4 352.4,60.4C352.5,60.3 352.7,60.3 352.8,60.3C352.9,60.3 353.1,60.3 353.2,60.4C353.3,60.4 353.5,60.5 353.6,60.6C353.7,60.7 353.8,60.8 353.8,60.9C353.9,61.0 353.9,61.2 353.9,61.3Z" fill="#b37e94" opacity="0.85"/>
<path d="M343.0,66.9C343.1,67.0 343.1,67.1 343.1,67.2C343.1,67.3 343.1,67.5 343.0,67.6C343.0,67.7 342.9,67.8 342.8,67.9C342.7,68.0 342.5,68.1 342.4,68.2C342.3,68.3 342.1,68.3 342.0,68.4C341.8,68.4 341.7,68.4 341.5,68.4C341.4,68.4 341.3,68.4 341.2,68.3C341.1,68.3 341.0,68.2 341.0,68.1C340.9,68.0 340.9,67.9 340.9,67.8C340.9,67.7 340.9,67.5 341.0,67.4C341.0,67.3 341.1,67.2 341.2,67.1C341.3,67.0 341.5,66.9 341.6,66.8C341.7,66.7 341.9,66.7 342.0,66.6C342.2,66.6 342.3,66.6 342.5,66.6C342.6,66.6 342.7,66.6 342.8,66.7C342.9,66.7 343.0,66.8 343.0,66.9Z" fill="#b37e94" opacity="0.85"/>
<path d="M341.8,72.1C341.8,72.3 341.7,72.5 341.6,72.7C341.6,72.8 341.5,73.0 341.4,73.1C341.3,73.3 341.2,73.4 341.1,73.4C341.0,73.5 340.8,73.5 340.7,73.5C340.6,73.5 340.5,73.4 340.5,73.3C340.4,73.2 340.3,73.1 340.3,72.9C340.2,72.8 340.2,72.6 340.2,72.4C340.2,72.3 340.2,72.0 340.2,71.9C340.2,71.7 340.3,71.5 340.4,71.3C340.4,71.2 340.5,71.0 340.6,70.9C340.7,70.7 340.8,70.6 340.9,70.6C341.0,70.5 341.2,70.5 341.3,70.5C341.4,70.5 341.5,70.6 341.5,70.7C341.6,70.8 341.7,70.9 341.7,71.1C341.8,71.2 341.8,71.4 341.8,71.6C341.8,71.7 341.8,72.0 341.8,72.1Z" fill="#b37e94" opacity="0.85"/>
<path d="M332.0,92.8C332.0,93.0 332.0,93.3 331.9,93.6C331.8,93.8 331.5,94.1 331.3,94.3C331.1,94.5 330.7,94.8 330.4,94.9C330.1,95.1 329.6,95.2 329.2,95.3C328.9,95.3 328.4,95.4 328.1,95.3C327.7,95.3 327.3,95.2 327.0,95.1C326.7,95.0 326.4,94.7 326.2,94.6C326.0,94.4 325.9,94.1 325.8,93.8C325.8,93.6 325.8,93.3 325.9,93.0C326.0,92.8 326.3,92.5 326.5,92.3C326.7,92.1 327.1,91.8 327.4,91.7C327.7,91.5 328.2,91.4 328.6,91.3C328.9,91.3 329.4,91.2 329.7,91.3C330.1,91.3 330.5,91.4 330.8,91.5C331.1,91.6 331.4,91.9 331.6,92.0C331.8,92.2 331.9,92.5 332.0,92.8Z" fill="#a27fa0" opacity="0.85"/>
<path d="M340.8,91.2C340.8,91.7 340.7,92.3 340.7,92.7C340.6,93.1 340.4,93.6 340.2,93.9C340.1,94.2 339.8,94.6 339.6,94.8C339.4,94.9 339.1,95.0 338.9,95.0C338.7,95.0 338.4,94.9 338.2,94.8C338.0,94.6 337.7,94.2 337.6,93.9C337.4,93.6 337.2,93.1 337.1,92.7C337.1,92.3 337.0,91.7 337.0,91.2C337.0,90.8 337.1,90.2 337.1,89.8C337.2,89.4 337.4,88.9 337.6,88.6C337.7,88.3 338.0,87.9 338.2,87.7C338.4,87.6 338.7,87.5 338.9,87.5C339.1,87.5 339.4,87.6 339.6,87.7C339.8,87.9 340.1,88.3 340.2,88.6C340.4,88.9 340.6,89.4 340.7,89.8C340.7,90.2 340.8,90.8 340.8,91.2Z" fill="#8582b7" opacity="0.85"/>
<path d="M356.0,92.0C356.0,92.3 355.9,92.8 355.8,93.1C355.8,93.5 355.6,93.9 355.4,94.1C355.3,94.4 355.0,94.6 354.8,94.8C354.6,94.9 354.2,95.0 354.0,95.0C353.8,95.0 353.4,94.9 353.2,94.8C353.0,94.6 352.7,94.4 352.6,94.1C352.4,93.9 352.2,93.5 352.2,93.1C352.1,92.8 352.0,92.3 352.0,92.0C352.0,91.7 352.1,91.2 352.2,90.9C352.2,90.5 352.4,90.1 352.6,89.9C352.7,89.6 353.0,89.4 353.2,89.2C353.4,89.1 353.8,89.0 354.0,89.0C354.2,89.0 354.6,89.1 354.8,89.2C355.0,89.4 355.3,89.6 355.4,89.9C355.6,90.1 355.8,90.5 355.8,90.9C355.9,91.2 356.0,91.7 356.0,92.0Z" fill="#ab7e99" opacity="0.85"/>
<path d="M341.8 26.1h0M316.0 78.7h0M328.7 71.5h0M325.2 80.2h0M341.4 59.0h0M324.6 79.5h0M332.9 29.9h0M340.3 23.1h0M327.9 31.6h0M316.0 78.4h0M350.8 71.5h0M325.1 68.9h0M362.0 72.3h0M339.3 27.5h0M361.9 69.1h0M325.6 25.7h0M310.8 87.3h0M335.7 26.9h0M317.5 84.3h0M321.6 76.7h0M316.0 71.7h0M339.5 81.6h0M331.3 22.5h0M340.6 91.9h0M328.9 27.3h0M308.1 71.3h0M332.0 30.8h0M317.5 71.9h0M339.1 93.2h0M360.6 68.5h0M362.9 70.4h0M318.7 89.1h0M323.1 74.9h0M354.0 90.5h0M339.7 29.9h0M330.2 32.1h0M332.8 29.3h0M327.7 31.5h0M314.2 83.8h0M338.3 66.4h0M325.7 64.6h0M335.7 27.3h0M322.4 85.1h0M322.6 67.7h0M337.4 91.5h0M317.4 83.9h0M318.7 82.3h0M326.8 71.4h0M335.3 61.1h0M327.1 74.3h0M324.9 69.7h0M324.4 74.6h0M335.5 31.3h0M334.6 28.4h0M328.1 74.2h0M311.3 69.1h0M320.5 71.8h0M318.5 73.6h0M342.7 59.3h0M326.1 66.7h0M363.3 67.0h0M365.3 69.6h0M338.5 62.6h0M366.7 71.6h0M319.7 68.5h0M315.9 77.4h0M321.6 75.6h0M326.2 24.6h0M314.9 76.4h0M313.9 83.0h0M332.2 66.5h0M339.6 27.1h0M337.2 33.6h0M325.9 28.2h0M317.6 85.5h0M319.8 75.2h0M324.5 74.8h0M323.5 72.8h0M315.9 73.5h0M320.6 66.1h0M323.8 81.4h0M325.6 82.3h0M324.1 74.3h0M333.8 34.2h0M332.8 31.4h0M332.2 64.2h0M337.5 66.1h0M329.1 67.7h0M338.9 94.7h0M338.6 28.7h0M332.3 28.1h0M318.5 79.9h0M346.7 63.4h0M338.0 31.5h0M327.9 95.1h0M329.0 25.0h0M325.9 80.1h0M336.6 31.1h0M331.5 73.7h0M327.7 72.1h0M317.8 88.3h0M328.3 73.4h0M317.1 85.3h0M352.9 60.9h0M322.5 77.3h0M341.5 66.0h0M326.9 64.5h0M315.3 80.5h0M322.3 72.6h0M339.8 90.0h0M316.7 81.8h0M327.8 25.5h0M325.6 23.6h0" stroke="#5a86d8" stroke-width="1.24" stroke-linecap="round" fill="none"/>
<path d="M353.3 94.8h0M326.6 30.8h0M342.2 64.2h0M302.6 40.9h0M323.9 72.2h0M310.0 70.7h0M338.8 58.1h0M325.6 28.7h0M342.7 62.5h0M321.8 72.4h0M301.8 46.0h0M311.7 70.2h0M342.2 66.8h0M342.8 66.6h0M329.0 65.8h0M308.8 70.3h0M316.4 73.3h0M323.5 77.9h0M342.2 27.5h0M352.9 63.2h0M345.0 27.8h0M329.0 71.4h0M334.9 73.2h0M339.6 59.9h0M340.3 79.5h0M329.7 91.6h0M346.4 55.8h0M334.5 73.3h0M349.5 60.1h0M350.4 68.6h0M346.6 63.6h0M301.8 43.9h0M328.8 65.5h0M332.1 63.4h0M350.5 60.1h0M324.1 77.2h0M306.1 39.9h0M323.3 69.6h0M351.2 74.4h0M325.4 63.8h0M339.0 26.4h0M328.8 69.8h0M348.6 63.1h0M340.4 24.0h0M338.1 64.0h0M331.5 93.6h0M363.4 72.9h0M353.3 38.5h0M332.4 26.2h0M307.0 41.7h0M319.1 80.1h0M348.2 57.7h0M313.1 89.4h0M350.5 34.3h0M340.3 63.1h0M340.5 57.5h0M333.4 71.2h0M351.0 61.9h0M351.9 68.0h0M336.3 79.6h0M344.1 63.5h0M339.5 67.5h0M322.8 74.4h0M340.8 71.4h0M344.1 56.4h0M339.5 65.2h0M347.4 55.8h0M331.8 22.4h0M352.2 60.6h0M330.3 71.7h0M325.9 31.4h0M333.6 70.8h0M354.7 68.0h0M344.5 62.3h0M353.7 68.5h0M354.9 91.1h0M350.8 62.1h0M301.9 47.0h0M334.6 71.0h0M337.5 33.5h0M333.0 68.0h0M353.0 61.2h0M318.6 85.8h0M363.1 74.4h0M327.3 24.8h0M326.2 28.3h0M331.4 73.5h0M332.2 62.2h0M339.2 55.2h0M331.2 73.6h0M322.5 73.7h0M301.6 47.0h0M311.9 88.8h0M328.0 31.1h0M357.5 68.4h0M353.7 67.6h0M334.1 25.4h0M345.1 58.8h0M339.3 22.6h0M334.3 64.2h0M330.5 28.2h0M311.9 82.6h0M334.5 64.8h0M341.8 68.4h0M304.1 39.6h0M344.0 55.9h0M338.9 90.0h0M330.1 24.4h0M304.9 43.7h0M321.2 88.3h0M310.6 86.7h0M312.2 85.2h0M348.2 58.0h0M328.0 93.6h0M329.6 28.3h0M322.6 66.0h0M342.2 57.5h0M323.1 76.9h0M309.5 40.3h0M324.8 29.8h0" stroke="#e07a72" stroke-width="1.24" stroke-linecap="round" fill="none"/>
<path d="M345.2 31.1h0M347.5 27.1h0M344.5 27.3h0M344.8 26.4h0M346.1 26.4h0M351.6 26.3h0M345.6 30.2h0M343.9 29.1h0M345.7 27.1h0M346.1 23.4h0" stroke="#30a848" stroke-width="1.24" stroke-linecap="round" fill="none"/>
<path d="M309.3 72.1h0M362.8 74.1h0M334.8 62.8h0M354.1 68.3h0M345.3 70.5h0M332.9 29.0h0M328.6 31.0h0M322.3 67.7h0M335.2 67.4h0M339.2 21.1h0M340.1 66.4h0M355.1 68.8h0M332.9 62.5h0M336.4 72.8h0M345.9 61.7h0M334.8 64.0h0M345.7 62.5h0M322.1 85.9h0M344.4 70.0h0M338.4 24.8h0M343.6 55.8h0M340.9 61.7h0M324.1 77.6h0M337.1 66.0h0M301.7 40.8h0M336.5 67.6h0M320.5 66.8h0M309.3 71.4h0M346.2 64.5h0M333.7 65.3h0M328.6 69.7h0M354.7 68.6h0M328.7 67.6h0M311.5 86.7h0M357.8 68.0h0M323.3 27.8h0M339.1 63.7h0M331.5 23.9h0M330.6 26.5h0M317.1 70.8h0M325.3 31.0h0M350.2 60.6h0M349.1 57.4h0M330.0 69.6h0M334.0 60.7h0M342.1 65.3h0M323.4 75.5h0M325.6 31.2h0M328.3 30.9h0M341.3 71.1h0M328.3 70.3h0M330.5 25.3h0M337.8 58.2h0M343.4 64.2h0M337.5 58.1h0M343.0 62.8h0M312.9 78.0h0M328.8 69.2h0M320.4 69.7h0M315.8 87.7h0M336.0 71.9h0M334.4 65.6h0M302.1 40.1h0M349.9 63.5h0M323.5 70.9h0M337.8 61.7h0M345.2 70.8h0M319.9 76.9h0M337.8 59.0h0M303.1 45.1h0M333.2 22.9h0M354.3 67.7h0M335.4 62.7h0M324.9 70.1h0M324.1 75.8h0M333.1 64.9h0M355.7 90.9h0M350.7 63.0h0M335.2 62.8h0M350.6 74.3h0M352.2 64.0h0M328.8 66.3h0M362.1 71.7h0M331.6 28.2h0M308.7 41.1h0M335.8 20.7h0M323.2 27.0h0M347.9 55.6h0M301.3 39.5h0M335.0 73.4h0M344.2 57.3h0M340.5 32.7h0M309.6 69.7h0M349.5 59.2h0M338.1 66.6h0M332.2 21.6h0M291.2 58.0h0M324.7 73.0h0M345.8 59.4h0M334.6 23.9h0M320.9 70.3h0M346.1 70.8h0M307.0 42.2h0M344.7 59.4h0M316.7 78.0h0M339.2 79.7h0M334.7 64.0h0M343.6 62.8h0M346.6 63.3h0M316.7 71.3h0M330.6 29.1h0M308.0 72.5h0M334.5 67.5h0M333.0 62.0h0M340.1 65.9h0M362.0 68.9h0M343.8 65.1h0M334.1 62.7h0M325.4 26.5h0M323.3 78.0h0M330.5 64.9h0M335.4 64.9h0M328.6 67.7h0M291.4 58.1h0M350.0 53.5h0M334.7 65.2h0M324.7 27.6h0" stroke="#e07a72" stroke-width="1.24" stroke-linecap="round" fill="none"/>
<path d="M353.5 90.3h0M335.3 60.0h0M327.8 73.4h0M328.1 66.1h0M314.4 74.9h0M319.8 75.1h0M350.1 72.5h0M347.9 58.9h0M319.8 76.2h0M315.7 88.1h0M339.9 81.8h0M324.9 67.5h0M339.1 27.3h0M339.3 91.7h0M316.9 84.4h0M328.1 75.8h0M333.2 29.3h0M338.2 78.7h0M325.7 66.9h0M321.4 73.0h0M319.9 89.0h0M313.4 76.5h0M325.5 65.5h0M315.9 80.4h0M324.2 72.3h0M328.2 72.6h0M340.1 26.9h0M322.1 67.0h0M338.8 32.7h0M327.6 94.1h0M311.5 81.2h0M349.2 34.2h0M314.7 85.1h0M354.8 93.8h0M318.2 68.2h0M320.0 76.3h0M315.9 89.2h0M319.1 74.6h0M337.0 58.1h0M323.9 68.7h0M320.2 77.0h0M364.0 71.1h0M323.7 64.9h0M333.5 80.6h0M350.0 72.5h0M328.0 91.8h0M322.1 82.1h0M332.9 33.9h0M326.3 31.7h0M318.1 84.6h0M332.0 25.7h0M340.1 28.9h0M349.7 54.4h0M328.9 69.4h0M313.1 77.9h0M362.1 67.0h0M311.9 83.1h0M320.0 75.3h0M339.5 29.6h0M316.1 84.3h0M333.8 28.1h0M334.6 31.6h0M339.5 67.1h0M324.9 26.7h0M326.2 68.2h0M339.8 29.7h0M311.1 86.9h0M326.1 75.4h0M340.0 22.1h0M314.6 83.7h0M336.1 31.2h0M340.8 59.9h0M338.5 21.8h0M319.1 87.8h0M318.0 72.6h0M352.7 63.0h0M338.4 30.4h0M338.2 65.1h0M317.9 68.7h0M314.1 80.4h0M322.1 66.3h0M352.0 63.3h0M331.4 65.8h0M315.9 85.4h0M332.3 73.9h0M324.5 68.7h0M339.6 29.6h0M321.4 72.7h0M338.8 89.5h0M316.5 90.2h0M325.8 72.3h0M337.6 91.2h0M337.6 66.2h0M316.5 86.6h0M310.7 84.4h0M365.0 71.3h0M352.4 92.6h0M326.8 79.8h0M327.6 72.5h0M339.3 31.1h0M318.2 79.7h0M332.6 26.4h0M320.0 86.2h0M330.8 73.7h0M328.9 66.6h0M363.4 70.1h0M337.3 27.2h0M341.7 27.9h0M321.1 84.5h0M323.5 76.7h0" stroke="#5a86d8" stroke-width="1.24" stroke-linecap="round" fill="none"/>
<path d="M352.2 27.0h0M348.4 28.8h0M343.1 30.3h0M350.2 27.8h0M345.1 29.6h0M350.3 26.5h0" stroke="#30a848" stroke-width="1.24" stroke-linecap="round" fill="none"/>
<path d="M338.3 26.1h0M365.7 70.9h0M326.7 71.7h0M330.7 65.7h0M328.5 65.6h0M363.9 73.1h0M313.0 88.6h0M337.0 21.5h0M353.9 63.9h0M322.6 75.0h0M338.3 22.1h0M331.2 92.5h0M319.4 72.9h0M325.7 74.8h0M332.6 64.7h0M314.8 78.2h0M315.2 77.4h0M341.5 25.8h0M319.6 82.1h0M318.4 68.3h0M319.2 73.1h0M337.7 29.9h0M320.0 68.0h0M364.1 72.5h0M313.5 86.0h0M334.1 27.6h0M326.1 26.9h0M327.5 74.2h0M355.3 68.3h0M334.9 24.6h0M353.6 63.8h0M337.8 25.6h0M364.3 68.7h0M340.2 90.4h0M320.4 85.7h0M329.9 64.8h0M332.7 30.0h0M344.9 72.1h0M363.6 69.8h0M313.6 86.7h0M311.4 80.6h0M319.7 67.1h0M340.1 27.5h0M345.5 62.6h0M324.7 73.1h0M316.9 77.4h0M352.5 91.9h0M327.7 92.7h0M332.9 32.9h0M339.3 94.3h0M315.4 81.2h0M314.8 84.1h0M321.7 75.5h0M332.8 80.1h0M312.8 86.4h0M323.8 79.9h0M329.3 68.2h0M350.6 73.5h0M312.6 82.4h0M317.2 79.8h0M340.1 54.7h0M327.5 73.0h0M341.0 71.3h0M340.2 65.9h0M365.4 72.0h0M333.8 31.4h0M316.8 79.0h0M338.7 31.2h0M337.0 33.1h0M351.6 72.6h0M316.2 83.4h0M312.7 81.1h0M340.5 26.9h0M338.7 88.0h0M334.8 29.2h0M312.9 80.1h0M345.3 73.2h0M324.4 75.4h0M330.7 57.6h0M337.6 91.6h0M318.4 67.3h0M337.3 29.2h0M315.8 89.1h0M334.8 67.1h0M319.3 72.9h0M339.7 32.7h0M316.1 90.2h0M311.9 81.3h0M313.8 80.0h0M341.2 28.8h0M325.5 67.9h0M313.4 74.9h0M324.6 68.2h0M319.4 67.9h0M334.3 34.2h0M324.0 67.5h0M355.4 92.2h0M318.7 73.6h0M331.8 69.4h0M317.7 80.8h0M324.5 77.2h0M336.7 78.5h0M339.0 90.0h0M311.4 87.4h0M310.4 84.6h0M336.3 79.7h0M339.5 65.7h0M316.9 81.5h0" stroke="#5a86d8" stroke-width="1.24" stroke-linecap="round" fill="none"/>
<path d="M334.1 65.5h0M314.8 72.8h0M314.5 73.7h0M339.6 94.1h0M353.0 38.5h0M317.1 76.0h0M317.3 85.6h0M337.1 33.2h0M342.5 59.3h0M331.0 63.3h0M325.8 31.1h0M345.4 72.7h0M345.7 61.2h0M341.6 62.1h0M322.0 74.5h0M366.4 73.9h0M331.7 93.1h0M321.3 73.1h0M334.0 69.8h0M349.6 32.5h0M365.4 74.1h0M330.8 70.4h0M350.6 26.7h0M326.5 27.7h0M357.9 69.2h0M336.0 60.6h0M333.2 61.2h0M347.1 61.0h0M328.0 75.1h0M328.2 95.0h0M348.3 59.3h0M324.1 27.0h0M306.4 40.9h0M321.7 70.4h0M337.0 65.5h0M302.1 46.6h0M326.9 93.7h0M318.5 86.7h0M329.0 31.4h0M341.7 61.7h0M318.2 81.4h0M328.6 67.9h0M351.1 33.6h0M344.8 71.4h0M316.4 87.6h0M330.7 72.2h0M317.3 77.8h0M333.4 65.5h0M338.4 64.4h0M313.6 89.5h0M336.3 60.0h0M324.5 71.7h0M340.4 93.5h0M331.8 68.8h0M326.3 31.1h0M336.5 61.7h0M336.9 65.8h0M333.0 69.2h0M301.5 45.0h0M325.9 24.4h0M346.0 59.5h0M344.2 60.9h0M308.9 70.1h0M346.0 58.5h0M317.4 76.6h0M350.7 27.8h0M335.6 69.9h0M335.1 60.8h0M317.4 87.1h0M303.1 45.3h0M318.0 86.6h0M339.1 64.2h0M339.6 21.0h0M343.0 62.6h0M353.1 39.2h0M337.4 78.6h0M349.3 54.9h0M303.0 43.7h0M333.9 70.5h0M341.3 72.0h0M350.1 54.3h0M332.2 29.4h0M330.7 23.0h0M349.3 62.8h0M302.3 45.9h0M329.2 65.7h0M330.0 27.8h0M349.5 63.5h0M303.2 45.1h0M301.6 46.5h0M327.3 77.9h0M320.9 87.0h0M347.5 58.2h0M304.6 43.2h0M314.5 72.3h0M334.7 22.9h0M340.0 89.5h0M324.4 29.5h0M348.3 58.8h0M340.0 62.6h0M340.5 71.4h0M331.1 74.1h0M301.8 46.0h0M342.0 61.7h0M351.3 67.6h0M328.8 95.2h0M312.8 77.9h0M326.3 67.5h0M326.1 29.8h0M340.7 56.5h0M345.7 70.3h0M338.4 63.7h0M355.2 92.3h0M306.0 39.0h0M315.8 86.8h0M333.9 24.3h0M336.6 62.1h0M338.1 91.8h0M310.5 69.9h0M319.6 83.0h0M341.1 57.7h0M328.4 92.4h0M336.1 64.2h0M325.4 75.8h0M323.0 74.3h0M331.0 71.2h0M348.6 63.8h0M345.9 59.9h0M315.9 89.9h0" stroke="#e07a72" stroke-width="1.24" stroke-linecap="round" fill="none"/>
<path d="M348.0 27.6h0M351.1 27.0h0M354.7 21.3h0M355.4 22.4h0M345.4 30.0h0M345.5 26.7h0" stroke="#30a848" stroke-width="1.24" stroke-linecap="round" fill="none"/>
<path d="M311.3 87.0h0M312.1 88.3h0M329.5 24.8h0M344.6 61.7h0M338.4 61.8h0M327.1 31.3h0M323.6 70.4h0M323.2 77.8h0M329.6 70.7h0M353.9 39.5h0M311.4 78.9h0M330.3 92.7h0M330.2 24.9h0M340.0 62.5h0M334.5 24.1h0M321.0 82.2h0M307.0 41.4h0M352.7 63.9h0M312.2 69.6h0M347.2 62.6h0M322.7 73.0h0M337.3 27.0h0M340.0 80.8h0M335.5 28.4h0M311.0 87.3h0M350.7 67.9h0M319.1 82.6h0M292.0 57.1h0M332.4 27.9h0M324.1 79.1h0M333.0 61.6h0M329.6 23.7h0M326.1 75.6h0M335.8 62.3h0M338.5 54.2h0M331.4 33.1h0M340.9 56.1h0M350.9 59.1h0M337.8 34.1h0M302.8 47.5h0M348.6 57.6h0M332.6 62.6h0M341.9 64.9h0M339.8 55.0h0M324.7 77.3h0M340.9 61.9h0M318.2 76.5h0M364.0 69.6h0M353.3 60.9h0M336.5 22.6h0M323.7 77.4h0M332.4 80.2h0M303.0 40.1h0M353.3 91.4h0M356.3 67.8h0M327.8 93.1h0M320.5 87.6h0M319.5 86.9h0M302.4 42.2h0M338.4 61.6h0M337.5 63.5h0M352.9 90.5h0M342.8 66.2h0M339.4 53.5h0M341.2 30.6h0M345.7 59.6h0M335.7 34.1h0M317.8 85.9h0M340.5 66.2h0M341.7 67.4h0M327.4 24.7h0M338.0 22.5h0M311.0 70.9h0M329.9 29.9h0M334.8 24.4h0M329.5 65.2h0M348.1 61.2h0M334.2 67.4h0M364.0 73.3h0M329.5 70.7h0M304.9 43.3h0M303.7 41.9h0M331.4 70.8h0M331.9 71.7h0M342.9 66.4h0M321.4 70.9h0M349.3 54.3h0M308.3 41.2h0M330.1 27.7h0M324.0 26.5h0M350.3 57.9h0M338.9 89.5h0M349.2 58.4h0M324.1 26.3h0M332.8 79.7h0M342.5 60.0h0M350.3 60.2h0M304.6 39.1h0M314.5 74.9h0M318.6 86.7h0M313.2 68.6h0M317.2 83.9h0M349.0 59.0h0M333.6 26.3h0M347.0 30.4h0M336.0 61.0h0M340.3 93.0h0M341.4 56.0h0M331.4 67.7h0M336.8 29.9h0M332.1 24.0h0M350.8 60.8h0M337.9 24.9h0M315.2 80.3h0M324.1 30.7h0M321.2 80.7h0M337.7 21.4h0M353.2 38.7h0M340.8 57.3h0M333.0 63.5h0M317.3 87.3h0M303.1 45.7h0M348.5 56.1h0M344.7 59.0h0M335.0 63.1h0M357.5 68.4h0M337.4 22.3h0M348.3 62.0h0M337.3 29.7h0M348.4 62.6h0M356.7 68.9h0M361.0 69.0h0" stroke="#e07a72" stroke-width="1.24" stroke-linecap="round" fill="none"/>
<path d="M338.4 29.3h0M345.2 71.4h0M353.5 64.8h0M326.7 75.0h0M316.6 75.2h0M322.8 70.4h0M333.3 32.6h0M318.0 76.9h0M366.5 71.5h0M323.8 84.1h0M341.3 67.3h0M317.2 86.4h0M315.5 79.8h0M315.8 77.3h0M316.2 73.9h0M323.1 70.7h0M328.0 92.9h0M323.7 85.0h0M339.9 28.6h0M338.3 88.5h0M338.2 67.8h0M317.9 86.4h0M322.8 67.6h0M312.6 80.0h0M350.8 67.7h0M324.7 68.4h0M323.8 67.2h0M331.2 28.4h0M320.9 87.8h0M321.7 70.2h0M330.0 93.9h0M326.4 76.0h0M364.3 68.2h0M317.7 88.4h0M338.2 93.4h0M351.2 72.4h0M316.1 80.6h0M313.8 83.2h0M322.6 82.3h0M338.6 26.7h0M311.3 88.6h0M342.0 28.3h0M326.1 80.0h0M318.5 73.6h0M320.1 73.4h0M321.7 70.8h0M335.2 32.6h0M326.7 80.0h0M315.4 77.6h0M323.6 84.9h0M314.0 78.1h0M325.5 73.5h0M323.6 67.6h0M321.4 73.1h0M334.2 31.0h0M331.2 32.8h0M319.1 79.9h0M332.1 72.2h0M332.1 69.9h0M330.7 92.8h0M317.1 80.7h0M351.6 63.1h0M352.4 92.3h0M338.6 94.0h0M349.7 32.3h0M314.2 84.7h0M327.6 72.5h0M313.4 81.5h0M341.5 71.1h0M321.0 85.0h0M322.6 82.7h0M342.2 26.5h0M335.8 26.5h0M318.2 74.2h0M318.2 82.4h0M331.7 26.8h0M323.8 81.8h0M325.7 27.3h0M334.1 34.4h0M323.3 84.8h0M350.0 62.3h0M311.6 86.3h0M364.8 72.6h0M324.8 83.9h0M312.4 84.4h0M339.1 62.0h0M323.8 81.7h0M328.4 73.6h0M339.4 80.4h0M316.7 69.9h0M362.0 69.6h0M341.8 27.6h0M331.4 33.1h0M351.7 67.5h0M332.9 23.4h0M337.3 63.5h0M314.7 77.2h0M338.6 80.9h0M331.5 27.3h0M332.6 68.9h0M338.8 63.2h0" stroke="#5a86d8" stroke-width="1.24" stroke-linecap="round" fill="none"/>
<path d="M343.2 31.5h0M345.7 25.8h0M344.5 27.0h0M350.2 28.0h0M343.5 30.4h0M344.2 31.8h0M347.3 24.1h0M347.7 27.1h0M346.3 27.4h0" stroke="#30a848" stroke-width="1.24" stroke-linecap="round" fill="none"/>
<path d="M320.7 75.9h0M341.6 26.0h0M336.7 32.0h0M318.6 87.2h0M315.5 83.8h0M325.4 76.3h0M319.1 66.9h0M334.9 29.9h0M325.9 76.4h0M332.5 63.4h0M330.2 73.8h0M328.0 67.2h0M321.0 73.6h0M363.5 73.1h0M333.8 21.6h0M352.3 91.6h0M317.2 77.8h0M325.8 73.7h0M315.6 74.3h0M320.2 74.8h0M361.8 69.2h0M325.5 65.9h0M326.6 73.5h0M321.7 74.0h0M327.8 67.9h0M321.6 76.0h0M327.5 66.2h0M341.2 68.3h0M352.1 60.6h0M315.2 83.5h0M335.0 30.8h0M340.3 53.8h0M339.0 23.1h0M312.7 79.7h0M347.6 30.5h0M340.1 29.2h0M350.2 34.0h0M318.9 87.2h0M365.8 70.8h0M328.8 67.5h0M322.1 77.6h0M328.6 68.7h0M313.6 85.7h0M342.3 26.5h0M324.7 75.4h0M323.4 82.0h0M341.1 28.9h0M313.2 85.5h0M329.5 69.7h0M339.8 66.4h0M328.2 73.6h0M360.4 68.4h0M320.2 74.9h0M325.1 24.7h0M332.6 30.4h0M348.7 31.9h0M337.7 22.9h0M314.2 89.0h0M331.9 27.3h0M363.1 66.8h0M314.0 81.3h0M325.5 73.6h0M328.3 68.5h0M319.1 77.3h0M311.8 85.4h0M328.8 94.3h0M338.7 25.7h0M364.4 71.6h0M329.6 71.7h0M310.2 83.9h0M352.5 91.0h0M331.7 30.2h0M321.6 70.9h0M330.0 95.0h0M316.7 75.7h0M331.6 31.5h0M348.1 31.7h0M327.3 74.5h0M323.7 68.8h0M323.8 81.5h0M320.5 78.2h0M326.4 68.6h0M341.5 31.0h0M333.9 30.0h0M333.6 65.6h0M334.9 30.8h0M308.7 71.4h0M333.8 22.7h0M328.3 72.7h0M319.7 79.7h0M355.6 67.5h0M316.3 89.8h0M364.1 72.7h0M340.4 66.0h0M320.5 76.9h0M313.8 76.3h0M320.7 78.2h0M316.1 85.7h0M325.4 83.9h0M321.3 66.8h0M325.5 65.6h0M317.1 76.9h0M316.3 86.0h0M314.6 81.0h0M348.9 33.6h0M337.0 30.4h0M317.8 87.4h0M328.5 25.2h0M340.3 56.2h0M314.3 72.1h0" stroke="#5a86d8" stroke-width="1.24" stroke-linecap="round" fill="none"/>
<path d="M302.0 45.3h0M340.0 60.0h0M336.8 79.4h0M329.8 92.1h0M350.6 63.0h0M314.8 88.1h0M321.3 70.1h0M337.1 21.4h0M312.9 69.8h0M343.9 61.7h0M324.0 66.4h0M335.3 63.1h0M341.9 67.2h0M339.5 57.4h0M305.9 43.3h0M337.3 23.3h0M327.0 75.4h0M336.4 24.7h0M349.5 58.7h0M318.1 81.1h0M331.7 68.3h0M350.9 63.4h0M328.2 57.5h0M302.7 46.1h0M336.1 22.1h0M354.8 90.2h0M329.1 67.0h0M338.3 33.9h0M337.2 58.6h0M323.5 27.9h0M352.5 93.2h0M331.9 25.5h0M335.9 67.9h0M338.2 64.6h0M321.4 81.2h0M340.0 59.9h0M329.2 95.2h0M315.7 84.7h0M345.3 60.6h0M336.8 21.2h0M338.8 24.7h0M335.4 60.7h0M346.2 58.0h0M315.9 72.2h0M334.1 21.7h0M340.5 79.6h0M346.4 55.4h0M348.0 54.5h0M340.1 58.5h0M346.7 59.1h0M334.9 22.7h0M323.8 30.0h0M332.0 32.9h0M313.2 89.5h0M328.8 57.6h0M337.6 60.8h0M324.1 24.4h0M325.1 76.6h0M352.2 92.5h0M319.3 78.8h0M347.3 56.4h0M333.1 25.1h0M344.5 61.9h0M321.0 83.5h0M336.6 65.2h0M343.6 59.1h0M315.5 71.3h0M345.3 57.0h0M349.2 57.4h0M309.3 39.8h0M319.9 81.5h0M319.3 88.0h0M339.4 62.2h0M323.0 27.4h0M337.8 64.5h0M337.4 68.1h0M308.0 40.3h0M351.6 74.7h0M307.2 40.9h0M322.2 82.3h0M333.8 63.5h0M304.8 41.8h0M331.4 27.2h0M351.6 73.6h0M361.7 69.4h0M330.5 64.2h0M317.2 82.6h0M344.0 64.1h0M351.3 68.5h0M332.1 26.0h0M291.1 57.3h0M304.9 40.8h0M333.9 70.6h0M362.4 71.0h0M334.5 64.0h0M336.5 23.8h0M346.2 63.0h0M318.0 76.7h0M337.0 24.9h0M302.7 39.5h0M336.3 61.7h0M324.5 25.7h0M315.0 77.0h0M335.7 69.6h0M331.0 22.3h0M349.9 68.1h0M310.4 83.8h0M322.3 66.2h0M331.6 65.5h0M333.2 63.8h0M341.6 24.9h0M303.1 44.5h0M336.4 24.4h0M327.3 23.8h0M344.4 59.8h0M307.0 42.6h0M348.5 54.5h0M364.4 74.9h0M318.4 85.5h0M319.9 81.7h0M304.6 41.3h0M350.5 68.8h0M338.5 58.2h0" stroke="#e07a72" stroke-width="1.24" stroke-linecap="round" fill="none"/>
<path d="M345.7 24.9h0M345.3 31.0h0M342.9 31.4h0M349.4 27.9h0M348.4 28.9h0M348.0 28.6h0M355.3 22.8h0M350.1 27.6h0M346.7 23.5h0" stroke="#30a848" stroke-width="1.24" stroke-linecap="round" fill="none"/>
<path d="M339.8 59.9h0M337.2 60.6h0M341.6 31.1h0M346.5 61.4h0M328.4 30.1h0M318.0 73.9h0M353.8 92.0h0M351.9 68.0h0M338.4 58.1h0M330.0 71.4h0M339.5 60.3h0M332.8 66.5h0M335.3 65.9h0M351.5 75.4h0M339.5 61.8h0M322.6 86.7h0M335.6 72.0h0M345.5 61.7h0M316.4 77.9h0M353.3 91.8h0M363.4 71.5h0M337.6 34.1h0M340.4 89.2h0M324.1 78.0h0M340.8 56.7h0M348.6 62.4h0M317.5 83.0h0M331.1 71.2h0M332.5 81.0h0M330.9 94.4h0M302.2 40.7h0M351.2 60.6h0M353.6 90.1h0M320.2 83.5h0M315.9 84.4h0M326.7 28.8h0M352.5 39.8h0M343.7 59.6h0M325.6 25.2h0M340.1 79.6h0M343.0 58.1h0M306.3 41.1h0M328.9 68.7h0M348.3 62.9h0M324.0 26.6h0M338.5 24.5h0M331.2 24.9h0M326.3 31.7h0M350.5 67.5h0M325.0 67.5h0M301.9 40.8h0M353.4 89.7h0M324.6 64.7h0M328.3 24.4h0M340.4 26.3h0M304.2 44.4h0M328.8 68.7h0M338.5 54.9h0M342.5 65.8h0M346.3 59.9h0M337.4 77.6h0M328.1 70.2h0M307.4 41.4h0M342.2 63.0h0M320.8 85.6h0M326.5 26.4h0M335.2 24.1h0M341.3 61.2h0M308.6 71.5h0M329.1 30.3h0M352.5 38.9h0M334.0 64.1h0M348.2 57.6h0M340.6 27.4h0M337.9 63.9h0M301.7 40.9h0M339.6 60.6h0M334.3 68.1h0M350.2 67.5h0M335.7 66.8h0M353.5 94.8h0M314.8 72.5h0M343.7 63.5h0M353.8 39.7h0M327.5 77.4h0M339.7 24.0h0M330.8 25.6h0M338.1 22.0h0M343.0 63.1h0M331.2 23.1h0M351.2 73.0h0M343.7 62.1h0M325.5 77.5h0M328.0 64.8h0M328.9 27.8h0M365.3 71.0h0M334.7 60.0h0M304.3 42.2h0M333.0 64.3h0M331.1 72.0h0M343.5 28.9h0M340.2 61.5h0M335.6 22.2h0M352.9 61.7h0M338.5 68.5h0M334.5 64.7h0M309.1 41.3h0M338.0 94.3h0M333.3 62.5h0M340.1 56.4h0M351.6 67.8h0M333.0 29.3h0M336.8 20.9h0M341.5 65.2h0M315.4 73.4h0M349.3 60.5h0" stroke="#e07a72" stroke-width="1.24" stroke-linecap="round" fill="none"/>
<path d="M332.6 25.9h0M336.8 34.1h0M322.2 70.8h0M324.2 78.8h0M317.4 85.3h0M351.8 63.0h0M317.2 82.9h0M339.4 79.6h0M320.7 72.9h0M337.7 32.7h0M312.3 81.5h0M349.8 68.8h0M319.5 77.4h0M336.2 79.4h0M314.3 87.1h0M324.0 67.4h0M334.7 69.8h0M330.9 28.7h0M312.2 87.4h0M323.8 67.9h0M310.4 86.1h0M314.3 88.1h0M341.9 26.2h0M362.9 70.5h0M323.8 66.7h0M325.8 68.4h0M341.7 26.0h0M328.7 71.2h0M326.3 94.1h0M323.7 68.3h0M334.8 26.1h0M332.8 26.6h0M330.4 30.8h0M322.3 70.5h0M339.3 20.9h0M337.5 27.7h0M349.2 62.2h0M319.6 77.0h0M338.4 25.9h0M353.1 68.7h0M330.7 57.8h0M316.3 86.0h0M332.3 72.2h0M353.8 67.4h0M330.8 70.4h0M332.9 73.6h0M324.5 73.7h0M313.1 88.6h0M332.6 31.0h0M335.5 28.8h0M346.2 73.9h0M338.4 93.5h0M333.7 67.5h0M340.8 23.1h0M318.0 86.9h0M325.2 71.5h0M327.0 75.1h0M338.9 26.2h0M314.2 88.8h0M337.5 92.6h0M326.5 79.3h0M314.3 89.3h0M325.9 26.8h0M317.1 88.2h0M315.5 85.8h0M345.6 73.2h0M314.2 87.4h0M315.2 81.3h0M323.4 82.2h0M316.4 75.1h0M318.1 69.7h0M332.9 26.6h0M327.2 74.7h0M336.5 79.0h0M322.6 81.0h0M328.8 67.0h0M311.9 78.7h0M319.2 67.4h0M328.0 73.8h0M340.7 27.1h0M344.0 59.6h0M332.4 31.8h0M325.7 79.3h0M320.8 74.6h0M313.3 78.9h0M318.6 86.3h0M329.3 74.9h0M328.7 26.7h0M351.5 68.2h0M324.5 84.3h0M325.3 64.5h0M332.8 27.6h0M350.0 33.7h0M349.1 33.3h0M349.8 63.7h0M334.3 26.5h0M338.9 89.3h0M363.4 67.4h0M337.9 28.2h0M351.3 68.8h0M315.2 73.5h0M318.0 77.3h0M323.9 69.0h0M365.1 72.1h0M324.1 70.1h0M340.1 23.4h0M314.5 85.5h0M334.9 66.2h0M313.9 83.3h0M320.7 81.7h0M326.9 66.0h0M338.8 64.9h0M341.0 26.0h0M332.0 30.4h0M347.5 62.1h0M320.9 67.0h0" stroke="#5a86d8" stroke-width="1.24" stroke-linecap="round" fill="none"/>
<path d="M352.2 26.9h0M351.9 26.2h0M345.4 27.5h0M356.3 23.1h0M350.8 26.7h0M343.5 28.9h0M344.2 28.8h0M348.0 28.3h0M348.3 28.2h0M349.2 28.6h0" stroke="#30a848" stroke-width="1.24" stroke-linecap="round" fill="none"/>
<line x1="12.5" y1="15.8" x2="12.5" y2="98.2" stroke="#222" stroke-width="0.8"/>
<line x1="12.5" y1="98.2" x2="95.5" y2="98.2" stroke="#222" stroke-width="0.8"/>
<line x1="11.3" y1="27" x2="12.5" y2="27" stroke="#333" stroke-width="0.5"/>
<text x="10.90" y="28.54" font-size="4.29" text-anchor="end" fill="#333"  textLength="4.33" lengthAdjust="spacingAndGlyphs" stroke="#333" stroke-width="0.15">10</text>
<line x1="11.3" y1="43.5" x2="12.5" y2="43.5" stroke="#333" stroke-width="0.5"/>
<text x="10.90" y="45.04" font-size="4.29" text-anchor="end" fill="#333"  textLength="2.17" lengthAdjust="spacingAndGlyphs" stroke="#333" stroke-width="0.15">5</text>
<line x1="11.3" y1="60" x2="12.5" y2="60" stroke="#333" stroke-width="0.5"/>
<text x="10.90" y="61.54" font-size="4.29" text-anchor="end" fill="#333"  textLength="2.17" lengthAdjust="spacingAndGlyphs" stroke="#333" stroke-width="0.15">0</text>
<line x1="11.3" y1="76.5" x2="12.5" y2="76.5" stroke="#333" stroke-width="0.5"/>
<text x="10.90" y="78.04" font-size="4.29" text-anchor="end" fill="#333"  textLength="3.47" lengthAdjust="spacingAndGlyphs" stroke="#333" stroke-width="0.15">-5</text>
<line x1="11.3" y1="93" x2="12.5" y2="93" stroke="#333" stroke-width="0.5"/>
<text x="10.90" y="94.54" font-size="4.29" text-anchor="end" fill="#333"  textLength="5.62" lengthAdjust="spacingAndGlyphs" stroke="#333" stroke-width="0.15">-10</text>
<line x1="13.899999999999999" y1="98.2" x2="13.899999999999999" y2="99.4" stroke="#333" stroke-width="0.5"/>
<text x="13.90" y="103.05" font-size="4.62" text-anchor="middle" fill="#333"  textLength="6.06" lengthAdjust="spacingAndGlyphs" stroke="#333" stroke-width="0.16">-15</text>
<line x1="28.9" y1="98.2" x2="28.9" y2="99.4" stroke="#333" stroke-width="0.5"/>
<text x="28.90" y="103.05" font-size="4.62" text-anchor="middle" fill="#333"  textLength="6.06" lengthAdjust="spacingAndGlyphs" stroke="#333" stroke-width="0.16">-10</text>
<line x1="43.9" y1="98.2" x2="43.9" y2="99.4" stroke="#333" stroke-width="0.5"/>
<text x="43.90" y="103.05" font-size="4.62" text-anchor="middle" fill="#333"  textLength="3.73" lengthAdjust="spacingAndGlyphs" stroke="#333" stroke-width="0.16">-5</text>
<line x1="58.9" y1="98.2" x2="58.9" y2="99.4" stroke="#333" stroke-width="0.5"/>
<text x="58.90" y="103.05" font-size="4.62" text-anchor="middle" fill="#333"  textLength="2.34" lengthAdjust="spacingAndGlyphs" stroke="#333" stroke-width="0.16">0</text>
<line x1="73.9" y1="98.2" x2="73.9" y2="99.4" stroke="#333" stroke-width="0.5"/>
<text x="73.90" y="103.05" font-size="4.62" text-anchor="middle" fill="#333"  textLength="2.34" lengthAdjust="spacingAndGlyphs" stroke="#333" stroke-width="0.16">5</text>
<line x1="88.9" y1="98.2" x2="88.9" y2="99.4" stroke="#333" stroke-width="0.5"/>
<text x="88.90" y="103.05" font-size="4.62" text-anchor="middle" fill="#333"  textLength="4.67" lengthAdjust="spacingAndGlyphs" stroke="#333" stroke-width="0.16">10</text>
<text x="62.00" y="10.08" font-size="5.61" text-anchor="middle" fill="#111"  textLength="57.20" lengthAdjust="spacingAndGlyphs" stroke="#111" stroke-width="0.20">Cell types (14,569 cells)</text>
<text transform="translate(3.9000000000000004,54) rotate(-90)" font-size="5.94" text-anchor="middle" fill="#111" textLength="18.88" lengthAdjust="spacingAndGlyphs" y="0.19" stroke="#111" stroke-width="0.21">UMAP2</text>
<line x1="153.8" y1="15.8" x2="153.8" y2="98.2" stroke="#222" stroke-width="0.8"/>
<line x1="153.8" y1="98.2" x2="236.8" y2="98.2" stroke="#222" stroke-width="0.8"/>
<line x1="152.60000000000002" y1="27" x2="153.8" y2="27" stroke="#333" stroke-width="0.5"/>
<text x="152.20" y="28.54" font-size="4.29" text-anchor="end" fill="#333"  textLength="4.33" lengthAdjust="spacingAndGlyphs" stroke="#333" stroke-width="0.15">10</text>
<line x1="152.60000000000002" y1="43.5" x2="153.8" y2="43.5" stroke="#333" stroke-width="0.5"/>
<text x="152.20" y="45.04" font-size="4.29" text-anchor="end" fill="#333"  textLength="2.17" lengthAdjust="spacingAndGlyphs" stroke="#333" stroke-width="0.15">5</text>
<line x1="152.60000000000002" y1="60" x2="153.8" y2="60" stroke="#333" stroke-width="0.5"/>
<text x="152.20" y="61.54" font-size="4.29" text-anchor="end" fill="#333"  textLength="2.17" lengthAdjust="spacingAndGlyphs" stroke="#333" stroke-width="0.15">0</text>
<line x1="152.60000000000002" y1="76.5" x2="153.8" y2="76.5" stroke="#333" stroke-width="0.5"/>
<text x="152.20" y="78.04" font-size="4.29" text-anchor="end" fill="#333"  textLength="3.47" lengthAdjust="spacingAndGlyphs" stroke="#333" stroke-width="0.15">-5</text>
<line x1="152.60000000000002" y1="93" x2="153.8" y2="93" stroke="#333" stroke-width="0.5"/>
<text x="152.20" y="94.54" font-size="4.29" text-anchor="end" fill="#333"  textLength="5.62" lengthAdjust="spacingAndGlyphs" stroke="#333" stroke-width="0.15">-10</text>
<line x1="156.3" y1="98.2" x2="156.3" y2="99.4" stroke="#333" stroke-width="0.5"/>
<text x="156.30" y="103.05" font-size="4.62" text-anchor="middle" fill="#333"  textLength="6.06" lengthAdjust="spacingAndGlyphs" stroke="#333" stroke-width="0.16">-15</text>
<line x1="171.3" y1="98.2" x2="171.3" y2="99.4" stroke="#333" stroke-width="0.5"/>
<text x="171.30" y="103.05" font-size="4.62" text-anchor="middle" fill="#333"  textLength="6.06" lengthAdjust="spacingAndGlyphs" stroke="#333" stroke-width="0.16">-10</text>
<line x1="186.3" y1="98.2" x2="186.3" y2="99.4" stroke="#333" stroke-width="0.5"/>
<text x="186.30" y="103.05" font-size="4.62" text-anchor="middle" fill="#333"  textLength="3.73" lengthAdjust="spacingAndGlyphs" stroke="#333" stroke-width="0.16">-5</text>
<line x1="201.3" y1="98.2" x2="201.3" y2="99.4" stroke="#333" stroke-width="0.5"/>
<text x="201.30" y="103.05" font-size="4.62" text-anchor="middle" fill="#333"  textLength="2.34" lengthAdjust="spacingAndGlyphs" stroke="#333" stroke-width="0.16">0</text>
<line x1="216.3" y1="98.2" x2="216.3" y2="99.4" stroke="#333" stroke-width="0.5"/>
<text x="216.30" y="103.05" font-size="4.62" text-anchor="middle" fill="#333"  textLength="2.34" lengthAdjust="spacingAndGlyphs" stroke="#333" stroke-width="0.16">5</text>
<line x1="231.3" y1="98.2" x2="231.3" y2="99.4" stroke="#333" stroke-width="0.5"/>
<text x="231.30" y="103.05" font-size="4.62" text-anchor="middle" fill="#333"  textLength="4.67" lengthAdjust="spacingAndGlyphs" stroke="#333" stroke-width="0.16">10</text>
<text x="202.00" y="10.08" font-size="5.61" text-anchor="middle" fill="#111"  textLength="54.09" lengthAdjust="spacingAndGlyphs" stroke="#111" stroke-width="0.20">Samples (14,569 cells)</text>
<text transform="translate(146.7,54) rotate(-90)" font-size="5.94" text-anchor="middle" fill="#111" textLength="18.88" lengthAdjust="spacingAndGlyphs" y="0.19" stroke="#111" stroke-width="0.21">UMAP2</text>
<line x1="287.5" y1="15.8" x2="287.5" y2="98.2" stroke="#222" stroke-width="0.8"/>
<line x1="287.5" y1="98.2" x2="370.5" y2="98.2" stroke="#222" stroke-width="0.8"/>
<line x1="286.3" y1="27" x2="287.5" y2="27" stroke="#333" stroke-width="0.5"/>
<text x="285.90" y="28.54" font-size="4.29" text-anchor="end" fill="#333"  textLength="4.33" lengthAdjust="spacingAndGlyphs" stroke="#333" stroke-width="0.15">10</text>
<line x1="286.3" y1="43.5" x2="287.5" y2="43.5" stroke="#333" stroke-width="0.5"/>
<text x="285.90" y="45.04" font-size="4.29" text-anchor="end" fill="#333"  textLength="2.17" lengthAdjust="spacingAndGlyphs" stroke="#333" stroke-width="0.15">5</text>
<line x1="286.3" y1="60" x2="287.5" y2="60" stroke="#333" stroke-width="0.5"/>
<text x="285.90" y="61.54" font-size="4.29" text-anchor="end" fill="#333"  textLength="2.17" lengthAdjust="spacingAndGlyphs" stroke="#333" stroke-width="0.15">0</text>
<line x1="286.3" y1="76.5" x2="287.5" y2="76.5" stroke="#333" stroke-width="0.5"/>
<text x="285.90" y="78.04" font-size="4.29" text-anchor="end" fill="#333"  textLength="3.47" lengthAdjust="spacingAndGlyphs" stroke="#333" stroke-width="0.15">-5</text>
<line x1="286.3" y1="93" x2="287.5" y2="93" stroke="#333" stroke-width="0.5"/>
<text x="285.90" y="94.54" font-size="4.29" text-anchor="end" fill="#333"  textLength="5.62" lengthAdjust="spacingAndGlyphs" stroke="#333" stroke-width="0.15">-10</text>
<line x1="289" y1="98.2" x2="289" y2="99.4" stroke="#333" stroke-width="0.5"/>
<text x="289.00" y="103.05" font-size="4.62" text-anchor="middle" fill="#333"  textLength="6.06" lengthAdjust="spacingAndGlyphs" stroke="#333" stroke-width="0.16">-15</text>
<line x1="304" y1="98.2" x2="304" y2="99.4" stroke="#333" stroke-width="0.5"/>
<text x="304.00" y="103.05" font-size="4.62" text-anchor="middle" fill="#333"  textLength="6.06" lengthAdjust="spacingAndGlyphs" stroke="#333" stroke-width="0.16">-10</text>
<line x1="319" y1="98.2" x2="319" y2="99.4" stroke="#333" stroke-width="0.5"/>
<text x="319.00" y="103.05" font-size="4.62" text-anchor="middle" fill="#333"  textLength="3.73" lengthAdjust="spacingAndGlyphs" stroke="#333" stroke-width="0.16">-5</text>
<line x1="334" y1="98.2" x2="334" y2="99.4" stroke="#333" stroke-width="0.5"/>
<text x="334.00" y="103.05" font-size="4.62" text-anchor="middle" fill="#333"  textLength="2.34" lengthAdjust="spacingAndGlyphs" stroke="#333" stroke-width="0.16">0</text>
<line x1="349" y1="98.2" x2="349" y2="99.4" stroke="#333" stroke-width="0.5"/>
<text x="349.00" y="103.05" font-size="4.62" text-anchor="middle" fill="#333"  textLength="2.34" lengthAdjust="spacingAndGlyphs" stroke="#333" stroke-width="0.16">5</text>
<line x1="364" y1="98.2" x2="364" y2="99.4" stroke="#333" stroke-width="0.5"/>
<text x="364.00" y="103.05" font-size="4.62" text-anchor="middle" fill="#333"  textLength="4.67" lengthAdjust="spacingAndGlyphs" stroke="#333" stroke-width="0.16">10</text>
<text x="345.00" y="10.08" font-size="5.61" text-anchor="middle" fill="#111"  textLength="64.27" lengthAdjust="spacingAndGlyphs" stroke="#111" stroke-width="0.20">Cell of origin (14,569 cells)</text>
<text transform="translate(281.70000000000005,54) rotate(-90)" font-size="5.94" text-anchor="middle" fill="#111" textLength="18.88" lengthAdjust="spacingAndGlyphs" y="0.19" stroke="#111" stroke-width="0.21">UMAP2</text>
<text x="62.00" y="29.10" font-size="5.28" text-anchor="middle" fill="#111"  textLength="12" lengthAdjust="spacingAndGlyphs" stroke="#111" stroke-width="0.18">B cells</text>
<text x="80.50" y="41.50" font-size="5.28" text-anchor="middle" fill="#111"  textLength="24.5" lengthAdjust="spacingAndGlyphs" stroke="#111" stroke-width="0.18">plasma cells</text>
<text x="37.80" y="48.90" font-size="5.28" text-anchor="middle" fill="#111"  textLength="26" lengthAdjust="spacingAndGlyphs" stroke="#111" stroke-width="0.18">Myeloid cells</text>
<text x="21.10" y="59.90" font-size="5.28" text-anchor="middle" fill="#111"  textLength="13.5" lengthAdjust="spacingAndGlyphs" stroke="#111" stroke-width="0.18">Others</text>
<text x="46.80" y="80.10" font-size="5.28" text-anchor="middle" fill="#111"  textLength="12.6" lengthAdjust="spacingAndGlyphs" stroke="#111" stroke-width="0.18">T cells</text>
<text x="79.40" y="77.70" font-size="5.28" text-anchor="middle" fill="#111"  textLength="16.5" lengthAdjust="spacingAndGlyphs" stroke="#111" stroke-width="0.18">NK cells</text>
<ellipse cx="100.20" cy="43.30" rx="0.9" ry="0.9" fill="#b03030" opacity="1" transform="rotate(0 100.20 43.30)"/>
<text x="103.50" y="45.07" font-size="5.06" text-anchor="start" fill="#111"  textLength="14.81" lengthAdjust="spacingAndGlyphs" stroke="#111" stroke-width="0.18">B cells</text>
<ellipse cx="100.20" cy="47.63" rx="0.9" ry="0.9" fill="#2a7a40" opacity="1" transform="rotate(0 100.20 47.63)"/>
<text x="103.50" y="49.40" font-size="5.06" text-anchor="start" fill="#111"  textLength="27.33" lengthAdjust="spacingAndGlyphs" stroke="#111" stroke-width="0.18">plasma cells</text>
<ellipse cx="100.20" cy="51.96" rx="0.9" ry="0.9" fill="#f0e2b0" opacity="1" transform="rotate(0 100.20 51.96)"/>
<text x="103.50" y="53.73" font-size="5.06" text-anchor="start" fill="#111"  textLength="14.31" lengthAdjust="spacingAndGlyphs" stroke="#111" stroke-width="0.18">T cells</text>
<ellipse cx="100.20" cy="56.29" rx="0.9" ry="0.9" fill="#c8d8b0" opacity="1" transform="rotate(0 100.20 56.29)"/>
<text x="103.50" y="58.06" font-size="5.06" text-anchor="start" fill="#111"  textLength="18.14" lengthAdjust="spacingAndGlyphs" stroke="#111" stroke-width="0.18">NK cells</text>
<ellipse cx="100.20" cy="60.62" rx="0.9" ry="0.9" fill="#305c88" opacity="1" transform="rotate(0 100.20 60.62)"/>
<text x="103.50" y="62.39" font-size="5.06" text-anchor="start" fill="#111"  textLength="28.61" lengthAdjust="spacingAndGlyphs" stroke="#111" stroke-width="0.18">Myeloid cells</text>
<ellipse cx="100.20" cy="64.95" rx="0.9" ry="0.9" fill="#6a4488" opacity="1" transform="rotate(0 100.20 64.95)"/>
<text x="103.50" y="66.72" font-size="5.06" text-anchor="start" fill="#111"  textLength="14.81" lengthAdjust="spacingAndGlyphs" stroke="#111" stroke-width="0.18">Others</text>
<ellipse cx="240.20" cy="48.90" rx="0.95" ry="0.95" fill="#d87070" opacity="1" transform="rotate(0 240.20 48.90)"/>
<text x="243.70" y="50.67" font-size="5.06" text-anchor="start" fill="#111"  textLength="23.23" lengthAdjust="spacingAndGlyphs" stroke="#111" stroke-width="0.18">DLBCL002</text>
<ellipse cx="240.20" cy="53.80" rx="0.95" ry="0.95" fill="#609a70" opacity="1" transform="rotate(0 240.20 53.80)"/>
<text x="243.70" y="55.57" font-size="5.06" text-anchor="start" fill="#111"  textLength="23.23" lengthAdjust="spacingAndGlyphs" stroke="#111" stroke-width="0.18">DLBCL007</text>
<ellipse cx="240.20" cy="58.70" rx="0.95" ry="0.95" fill="#40929a" opacity="1" transform="rotate(0 240.20 58.70)"/>
<text x="243.70" y="60.47" font-size="5.06" text-anchor="start" fill="#111"  textLength="22.73" lengthAdjust="spacingAndGlyphs" stroke="#111" stroke-width="0.18">DLBCL111</text>
<ellipse cx="240.20" cy="63.60" rx="0.95" ry="0.95" fill="#8a70b0" opacity="1" transform="rotate(0 240.20 63.60)"/>
<text x="243.70" y="65.37" font-size="5.06" text-anchor="start" fill="#111"  textLength="5.38" lengthAdjust="spacingAndGlyphs" stroke="#111" stroke-width="0.18">T2</text>
<ellipse cx="373.80" cy="50.00" rx="0.95" ry="0.95" fill="#d87068" opacity="1" transform="rotate(0 373.80 50.00)"/>
<text x="377.70" y="51.77" font-size="5.06" text-anchor="start" fill="#111"  textLength="9.95" lengthAdjust="spacingAndGlyphs" stroke="#111" stroke-width="0.18">ABC</text>
<ellipse cx="373.80" cy="55.00" rx="0.95" ry="0.95" fill="#3a9a48" opacity="1" transform="rotate(0 373.80 55.00)"/>
<text x="377.70" y="56.77" font-size="5.06" text-anchor="start" fill="#111"  textLength="10.22" lengthAdjust="spacingAndGlyphs" stroke="#111" stroke-width="0.18">GCB</text>
<ellipse cx="373.80" cy="60.00" rx="0.95" ry="0.95" fill="#5078c0" opacity="1" transform="rotate(0 373.80 60.00)"/>
<text x="377.70" y="61.77" font-size="5.06" text-anchor="start" fill="#111"  textLength="15.83" lengthAdjust="spacingAndGlyphs" stroke="#111" stroke-width="0.18">Normal</text>
<text x="56.00" y="117.18" font-size="5.61" text-anchor="middle" fill="#111"  textLength="17.84" lengthAdjust="spacingAndGlyphs" stroke="#111" stroke-width="0.20">UMAP1</text>
<text x="198.00" y="117.18" font-size="5.61" text-anchor="middle" fill="#111"  textLength="17.84" lengthAdjust="spacingAndGlyphs" stroke="#111" stroke-width="0.20">UMAP1</text>
<text x="330.50" y="117.18" font-size="5.61" text-anchor="middle" fill="#111"  textLength="17.84" lengthAdjust="spacingAndGlyphs" stroke="#111" stroke-width="0.20">UMAP1</text>
<text x="0.00" y="131.57" font-size="8.14" text-anchor="start" fill="#111"  textLength="5.34" lengthAdjust="spacingAndGlyphs" stroke="#111" stroke-width="0.28">B</text>
<rect x="33.9" y="135.8" width="183.6" height="85.69999999999999" fill="none" stroke="#c4c4c4" stroke-width="0.55"/>
<line x1="33.9" y1="135.8" x2="33.9" y2="221.5" stroke="#555" stroke-width="0.6"/>
<line x1="32.699999999999996" y1="144.25" x2="33.9" y2="144.25" stroke="#555" stroke-width="0.5"/>
<text x="32.40" y="146.01" font-size="5.00" text-anchor="end" fill="#111"  textLength="14.66" lengthAdjust="spacingAndGlyphs" stroke="#111" stroke-width="0.17">Others</text>
<line x1="32.699999999999996" y1="158.0" x2="33.9" y2="158.0" stroke="#555" stroke-width="0.5"/>
<text x="32.40" y="159.76" font-size="5.00" text-anchor="end" fill="#111"  textLength="28.31" lengthAdjust="spacingAndGlyphs" stroke="#111" stroke-width="0.17">Myeloid cells</text>
<line x1="32.699999999999996" y1="171.75" x2="33.9" y2="171.75" stroke="#555" stroke-width="0.5"/>
<text x="32.40" y="173.51" font-size="5.00" text-anchor="end" fill="#111"  textLength="17.95" lengthAdjust="spacingAndGlyphs" stroke="#111" stroke-width="0.17">NK cells</text>
<line x1="32.699999999999996" y1="185.5" x2="33.9" y2="185.5" stroke="#555" stroke-width="0.5"/>
<text x="32.40" y="187.26" font-size="5.00" text-anchor="end" fill="#111"  textLength="14.16" lengthAdjust="spacingAndGlyphs" stroke="#111" stroke-width="0.17">T cells</text>
<line x1="32.699999999999996" y1="199.25" x2="33.9" y2="199.25" stroke="#555" stroke-width="0.5"/>
<text x="32.40" y="201.01" font-size="5.00" text-anchor="end" fill="#111"  textLength="27.31" lengthAdjust="spacingAndGlyphs" stroke="#111" stroke-width="0.17">Plasma cells</text>
<line x1="32.699999999999996" y1="213.0" x2="33.9" y2="213.0" stroke="#555" stroke-width="0.5"/>
<text x="32.40" y="214.76" font-size="5.00" text-anchor="end" fill="#111"  textLength="14.67" lengthAdjust="spacingAndGlyphs" stroke="#111" stroke-width="0.17">B cells</text>
<text transform="translate(37.9,224.1) rotate(58)" font-size="5.17" fill="#111" textLength="11.98" lengthAdjust="spacingAndGlyphs" y="0.17" stroke="#111" stroke-width="0.18">CD19</text>
<text transform="translate(48.1,224.1) rotate(58)" font-size="5.17" fill="#111" textLength="15.64" lengthAdjust="spacingAndGlyphs" y="0.17" stroke="#111" stroke-width="0.18">MS4A1</text>
<text transform="translate(58.3,224.1) rotate(58)" font-size="5.17" fill="#111" textLength="15.38" lengthAdjust="spacingAndGlyphs" y="0.17" stroke="#111" stroke-width="0.18">CD79A</text>
<text transform="translate(68.5,224.1) rotate(58)" font-size="5.17" fill="#111" textLength="15.38" lengthAdjust="spacingAndGlyphs" y="0.17" stroke="#111" stroke-width="0.18">CD79B</text>
<text transform="translate(78.7,224.1) rotate(58)" font-size="5.17" fill="#111" textLength="12.77" lengthAdjust="spacingAndGlyphs" y="0.17" stroke="#111" stroke-width="0.18">MZB1</text>
<text transform="translate(88.9,224.1) rotate(58)" font-size="5.17" fill="#111" textLength="14.59" lengthAdjust="spacingAndGlyphs" y="0.17" stroke="#111" stroke-width="0.18">IGHG1</text>
<text transform="translate(99.1,224.1) rotate(58)" font-size="5.17" fill="#111" textLength="12.52" lengthAdjust="spacingAndGlyphs" y="0.17" stroke="#111" stroke-width="0.18">SDC1</text>
<text transform="translate(109.3,224.1) rotate(58)" font-size="5.17" fill="#111" textLength="12.77" lengthAdjust="spacingAndGlyphs" y="0.17" stroke="#111" stroke-width="0.18">CD3D</text>
<text transform="translate(119.5,224.1) rotate(58)" font-size="5.17" fill="#111" textLength="12.52" lengthAdjust="spacingAndGlyphs" y="0.17" stroke="#111" stroke-width="0.18">CD3E</text>
<text transform="translate(129.70000000000002,224.1) rotate(58)" font-size="5.17" fill="#111" textLength="12.59" lengthAdjust="spacingAndGlyphs" y="0.17" stroke="#111" stroke-width="0.18">GNLY</text>
<text transform="translate(139.9,224.1) rotate(58)" font-size="5.17" fill="#111" textLength="15.64" lengthAdjust="spacingAndGlyphs" y="0.17" stroke="#111" stroke-width="0.18">KLRC1</text>
<text transform="translate(150.1,224.1) rotate(58)" font-size="5.17" fill="#111" textLength="15.11" lengthAdjust="spacingAndGlyphs" y="0.17" stroke="#111" stroke-width="0.18">KLRF1</text>
<text transform="translate(160.29999999999998,224.1) rotate(58)" font-size="5.17" fill="#111" textLength="11.98" lengthAdjust="spacingAndGlyphs" y="0.17" stroke="#111" stroke-width="0.18">CD68</text>
<text transform="translate(170.5,224.1) rotate(58)" font-size="5.17" fill="#111" textLength="11.98" lengthAdjust="spacingAndGlyphs" y="0.17" stroke="#111" stroke-width="0.18">CD14</text>
<text transform="translate(180.7,224.1) rotate(58)" font-size="5.17" fill="#111" textLength="14.59" lengthAdjust="spacingAndGlyphs" y="0.17" stroke="#111" stroke-width="0.18">CD163</text>
<text transform="translate(190.9,224.1) rotate(58)" font-size="5.17" fill="#111" textLength="8.44" lengthAdjust="spacingAndGlyphs" y="0.17" stroke="#111" stroke-width="0.18">LYZ</text>
<text transform="translate(201.1,224.1) rotate(58)" font-size="5.17" fill="#111" textLength="19.55" lengthAdjust="spacingAndGlyphs" y="0.17" stroke="#111" stroke-width="0.18">PECAM1</text>
<text transform="translate(211.29999999999998,224.1) rotate(58)" font-size="5.17" fill="#111" textLength="16.94" lengthAdjust="spacingAndGlyphs" y="0.17" stroke="#111" stroke-width="0.18">EPCAM</text>
<ellipse cx="39.50" cy="144.25" rx="0.7" ry="0.8" fill="#b8b8b8" opacity="1" transform="rotate(0 39.50 144.25)"/>
<ellipse cx="49.70" cy="144.25" rx="0.7" ry="0.8" fill="#b8b8b8" opacity="1" transform="rotate(0 49.70 144.25)"/>
<ellipse cx="59.90" cy="144.25" rx="0.7" ry="0.8" fill="#b8b8b8" opacity="1" transform="rotate(0 59.90 144.25)"/>
<ellipse cx="70.10" cy="144.25" rx="0.7" ry="0.8" fill="#b8b8b8" opacity="1" transform="rotate(0 70.10 144.25)"/>
<ellipse cx="80.30" cy="144.25" rx="0.7" ry="0.8" fill="#b8b8b8" opacity="1" transform="rotate(0 80.30 144.25)"/>
<ellipse cx="90.50" cy="144.25" rx="0.7" ry="0.8" fill="#b8b8b8" opacity="1" transform="rotate(0 90.50 144.25)"/>
<ellipse cx="100.70" cy="144.25" rx="0.7" ry="0.8" fill="#b8b8b8" opacity="1" transform="rotate(0 100.70 144.25)"/>
<ellipse cx="110.90" cy="144.25" rx="0.7" ry="0.8" fill="#b8b8b8" opacity="1" transform="rotate(0 110.90 144.25)"/>
<ellipse cx="121.10" cy="144.25" rx="0.7" ry="0.8" fill="#b8b8b8" opacity="1" transform="rotate(0 121.10 144.25)"/>
<ellipse cx="131.30" cy="144.25" rx="0.7" ry="0.8" fill="#b8b8b8" opacity="1" transform="rotate(0 131.30 144.25)"/>
<ellipse cx="141.50" cy="144.25" rx="0.7" ry="0.8" fill="#b8b8b8" opacity="1" transform="rotate(0 141.50 144.25)"/>
<ellipse cx="151.70" cy="144.25" rx="0.7" ry="0.8" fill="#b8b8b8" opacity="1" transform="rotate(0 151.70 144.25)"/>
<ellipse cx="161.90" cy="144.25" rx="0.7" ry="0.8" fill="#b8b8b8" opacity="1" transform="rotate(0 161.90 144.25)"/>
<ellipse cx="172.10" cy="144.25" rx="0.7" ry="0.8" fill="#b8b8b8" opacity="1" transform="rotate(0 172.10 144.25)"/>
<ellipse cx="182.30" cy="144.25" rx="0.7" ry="0.8" fill="#b8b8b8" opacity="1" transform="rotate(0 182.30 144.25)"/>
<ellipse cx="192.50" cy="144.25" rx="0.7" ry="0.8" fill="#b8b8b8" opacity="1" transform="rotate(0 192.50 144.25)"/>
<ellipse cx="202.70" cy="144.25" rx="0.7" ry="0.8" fill="#b8b8b8" opacity="1" transform="rotate(0 202.70 144.25)"/>
<ellipse cx="212.90" cy="144.25" rx="0.7" ry="0.8" fill="#b8b8b8" opacity="1" transform="rotate(0 212.90 144.25)"/>
<ellipse cx="39.50" cy="158.00" rx="0.7" ry="0.8" fill="#b8b8b8" opacity="1" transform="rotate(0 39.50 158.00)"/>
<ellipse cx="49.70" cy="158.00" rx="0.7" ry="0.8" fill="#b8b8b8" opacity="1" transform="rotate(0 49.70 158.00)"/>
<ellipse cx="59.90" cy="158.00" rx="0.7" ry="0.8" fill="#b8b8b8" opacity="1" transform="rotate(0 59.90 158.00)"/>
<ellipse cx="70.10" cy="158.00" rx="0.7" ry="0.8" fill="#b8b8b8" opacity="1" transform="rotate(0 70.10 158.00)"/>
<ellipse cx="80.30" cy="158.00" rx="0.7" ry="0.8" fill="#b8b8b8" opacity="1" transform="rotate(0 80.30 158.00)"/>
<ellipse cx="90.50" cy="158.00" rx="0.7" ry="0.8" fill="#b8b8b8" opacity="1" transform="rotate(0 90.50 158.00)"/>
<ellipse cx="100.70" cy="158.00" rx="0.7" ry="0.8" fill="#b8b8b8" opacity="1" transform="rotate(0 100.70 158.00)"/>
<ellipse cx="110.90" cy="158.00" rx="0.7" ry="0.8" fill="#b8b8b8" opacity="1" transform="rotate(0 110.90 158.00)"/>
<ellipse cx="121.10" cy="158.00" rx="0.7" ry="0.8" fill="#b8b8b8" opacity="1" transform="rotate(0 121.10 158.00)"/>
<ellipse cx="131.30" cy="158.00" rx="0.7" ry="0.8" fill="#b8b8b8" opacity="1" transform="rotate(0 131.30 158.00)"/>
<ellipse cx="141.50" cy="158.00" rx="0.7" ry="0.8" fill="#b8b8b8" opacity="1" transform="rotate(0 141.50 158.00)"/>
<ellipse cx="151.70" cy="158.00" rx="0.7" ry="0.8" fill="#b8b8b8" opacity="1" transform="rotate(0 151.70 158.00)"/>
<ellipse cx="161.90" cy="158.00" rx="0.7" ry="0.8" fill="#b8b8b8" opacity="1" transform="rotate(0 161.90 158.00)"/>
<ellipse cx="172.10" cy="158.00" rx="0.7" ry="0.8" fill="#b8b8b8" opacity="1" transform="rotate(0 172.10 158.00)"/>
<ellipse cx="182.30" cy="158.00" rx="0.7" ry="0.8" fill="#b8b8b8" opacity="1" transform="rotate(0 182.30 158.00)"/>
<ellipse cx="192.50" cy="158.00" rx="0.7" ry="0.8" fill="#b8b8b8" opacity="1" transform="rotate(0 192.50 158.00)"/>
<ellipse cx="202.70" cy="158.00" rx="0.7" ry="0.8" fill="#b8b8b8" opacity="1" transform="rotate(0 202.70 158.00)"/>
<ellipse cx="212.90" cy="158.00" rx="0.7" ry="0.8" fill="#b8b8b8" opacity="1" transform="rotate(0 212.90 158.00)"/>
<ellipse cx="39.50" cy="171.75" rx="0.7" ry="0.8" fill="#b8b8b8" opacity="1" transform="rotate(0 39.50 171.75)"/>
<ellipse cx="49.70" cy="171.75" rx="0.7" ry="0.8" fill="#b8b8b8" opacity="1" transform="rotate(0 49.70 171.75)"/>
<ellipse cx="59.90" cy="171.75" rx="0.7" ry="0.8" fill="#b8b8b8" opacity="1" transform="rotate(0 59.90 171.75)"/>
<ellipse cx="70.10" cy="171.75" rx="0.7" ry="0.8" fill="#b8b8b8" opacity="1" transform="rotate(0 70.10 171.75)"/>
<ellipse cx="80.30" cy="171.75" rx="0.7" ry="0.8" fill="#b8b8b8" opacity="1" transform="rotate(0 80.30 171.75)"/>
<ellipse cx="90.50" cy="171.75" rx="0.7" ry="0.8" fill="#b8b8b8" opacity="1" transform="rotate(0 90.50 171.75)"/>
<ellipse cx="100.70" cy="171.75" rx="0.7" ry="0.8" fill="#b8b8b8" opacity="1" transform="rotate(0 100.70 171.75)"/>
<ellipse cx="110.90" cy="171.75" rx="0.7" ry="0.8" fill="#b8b8b8" opacity="1" transform="rotate(0 110.90 171.75)"/>
<ellipse cx="121.10" cy="171.75" rx="0.7" ry="0.8" fill="#b8b8b8" opacity="1" transform="rotate(0 121.10 171.75)"/>
<ellipse cx="131.30" cy="171.75" rx="0.7" ry="0.8" fill="#b8b8b8" opacity="1" transform="rotate(0 131.30 171.75)"/>
<ellipse cx="141.50" cy="171.75" rx="0.7" ry="0.8" fill="#b8b8b8" opacity="1" transform="rotate(0 141.50 171.75)"/>
<ellipse cx="151.70" cy="171.75" rx="0.7" ry="0.8" fill="#b8b8b8" opacity="1" transform="rotate(0 151.70 171.75)"/>
<ellipse cx="161.90" cy="171.75" rx="0.7" ry="0.8" fill="#b8b8b8" opacity="1" transform="rotate(0 161.90 171.75)"/>
<ellipse cx="172.10" cy="171.75" rx="0.7" ry="0.8" fill="#b8b8b8" opacity="1" transform="rotate(0 172.10 171.75)"/>
<ellipse cx="182.30" cy="171.75" rx="0.7" ry="0.8" fill="#b8b8b8" opacity="1" transform="rotate(0 182.30 171.75)"/>
<ellipse cx="192.50" cy="171.75" rx="0.7" ry="0.8" fill="#b8b8b8" opacity="1" transform="rotate(0 192.50 171.75)"/>
<ellipse cx="202.70" cy="171.75" rx="0.7" ry="0.8" fill="#b8b8b8" opacity="1" transform="rotate(0 202.70 171.75)"/>
<ellipse cx="212.90" cy="171.75" rx="0.7" ry="0.8" fill="#b8b8b8" opacity="1" transform="rotate(0 212.90 171.75)"/>
<ellipse cx="39.50" cy="185.50" rx="0.7" ry="0.8" fill="#b8b8b8" opacity="1" transform="rotate(0 39.50 185.50)"/>
<ellipse cx="49.70" cy="185.50" rx="0.7" ry="0.8" fill="#b8b8b8" opacity="1" transform="rotate(0 49.70 185.50)"/>
<ellipse cx="59.90" cy="185.50" rx="0.7" ry="0.8" fill="#b8b8b8" opacity="1" transform="rotate(0 59.90 185.50)"/>
<ellipse cx="70.10" cy="185.50" rx="0.7" ry="0.8" fill="#b8b8b8" opacity="1" transform="rotate(0 70.10 185.50)"/>
<ellipse cx="80.30" cy="185.50" rx="0.7" ry="0.8" fill="#b8b8b8" opacity="1" transform="rotate(0 80.30 185.50)"/>
<ellipse cx="90.50" cy="185.50" rx="0.7" ry="0.8" fill="#b8b8b8" opacity="1" transform="rotate(0 90.50 185.50)"/>
<ellipse cx="100.70" cy="185.50" rx="0.7" ry="0.8" fill="#b8b8b8" opacity="1" transform="rotate(0 100.70 185.50)"/>
<ellipse cx="110.90" cy="185.50" rx="0.7" ry="0.8" fill="#b8b8b8" opacity="1" transform="rotate(0 110.90 185.50)"/>
<ellipse cx="121.10" cy="185.50" rx="0.7" ry="0.8" fill="#b8b8b8" opacity="1" transform="rotate(0 121.10 185.50)"/>
<ellipse cx="131.30" cy="185.50" rx="0.7" ry="0.8" fill="#b8b8b8" opacity="1" transform="rotate(0 131.30 185.50)"/>
<ellipse cx="141.50" cy="185.50" rx="0.7" ry="0.8" fill="#b8b8b8" opacity="1" transform="rotate(0 141.50 185.50)"/>
<ellipse cx="151.70" cy="185.50" rx="0.7" ry="0.8" fill="#b8b8b8" opacity="1" transform="rotate(0 151.70 185.50)"/>
<ellipse cx="161.90" cy="185.50" rx="0.7" ry="0.8" fill="#b8b8b8" opacity="1" transform="rotate(0 161.90 185.50)"/>
<ellipse cx="172.10" cy="185.50" rx="0.7" ry="0.8" fill="#b8b8b8" opacity="1" transform="rotate(0 172.10 185.50)"/>
<ellipse cx="182.30" cy="185.50" rx="0.7" ry="0.8" fill="#b8b8b8" opacity="1" transform="rotate(0 182.30 185.50)"/>
<ellipse cx="192.50" cy="185.50" rx="0.7" ry="0.8" fill="#b8b8b8" opacity="1" transform="rotate(0 192.50 185.50)"/>
<ellipse cx="202.70" cy="185.50" rx="0.7" ry="0.8" fill="#b8b8b8" opacity="1" transform="rotate(0 202.70 185.50)"/>
<ellipse cx="212.90" cy="185.50" rx="0.7" ry="0.8" fill="#b8b8b8" opacity="1" transform="rotate(0 212.90 185.50)"/>
<ellipse cx="39.50" cy="199.25" rx="0.7" ry="0.8" fill="#b8b8b8" opacity="1" transform="rotate(0 39.50 199.25)"/>
<ellipse cx="49.70" cy="199.25" rx="0.7" ry="0.8" fill="#b8b8b8" opacity="1" transform="rotate(0 49.70 199.25)"/>
<ellipse cx="59.90" cy="199.25" rx="0.7" ry="0.8" fill="#b8b8b8" opacity="1" transform="rotate(0 59.90 199.25)"/>
<ellipse cx="70.10" cy="199.25" rx="0.7" ry="0.8" fill="#b8b8b8" opacity="1" transform="rotate(0 70.10 199.25)"/>
<ellipse cx="80.30" cy="199.25" rx="0.7" ry="0.8" fill="#b8b8b8" opacity="1" transform="rotate(0 80.30 199.25)"/>
<ellipse cx="90.50" cy="199.25" rx="0.7" ry="0.8" fill="#b8b8b8" opacity="1" transform="rotate(0 90.50 199.25)"/>
<ellipse cx="100.70" cy="199.25" rx="0.7" ry="0.8" fill="#b8b8b8" opacity="1" transform="rotate(0 100.70 199.25)"/>
<ellipse cx="110.90" cy="199.25" rx="0.7" ry="0.8" fill="#b8b8b8" opacity="1" transform="rotate(0 110.90 199.25)"/>
<ellipse cx="121.10" cy="199.25" rx="0.7" ry="0.8" fill="#b8b8b8" opacity="1" transform="rotate(0 121.10 199.25)"/>
<ellipse cx="131.30" cy="199.25" rx="0.7" ry="0.8" fill="#b8b8b8" opacity="1" transform="rotate(0 131.30 199.25)"/>
<ellipse cx="141.50" cy="199.25" rx="0.7" ry="0.8" fill="#b8b8b8" opacity="1" transform="rotate(0 141.50 199.25)"/>
<ellipse cx="151.70" cy="199.25" rx="0.7" ry="0.8" fill="#b8b8b8" opacity="1" transform="rotate(0 151.70 199.25)"/>
<ellipse cx="161.90" cy="199.25" rx="0.7" ry="0.8" fill="#b8b8b8" opacity="1" transform="rotate(0 161.90 199.25)"/>
<ellipse cx="172.10" cy="199.25" rx="0.7" ry="0.8" fill="#b8b8b8" opacity="1" transform="rotate(0 172.10 199.25)"/>
<ellipse cx="182.30" cy="199.25" rx="0.7" ry="0.8" fill="#b8b8b8" opacity="1" transform="rotate(0 182.30 199.25)"/>
<ellipse cx="192.50" cy="199.25" rx="0.7" ry="0.8" fill="#b8b8b8" opacity="1" transform="rotate(0 192.50 199.25)"/>
<ellipse cx="202.70" cy="199.25" rx="0.7" ry="0.8" fill="#b8b8b8" opacity="1" transform="rotate(0 202.70 199.25)"/>
<ellipse cx="212.90" cy="199.25" rx="0.7" ry="0.8" fill="#b8b8b8" opacity="1" transform="rotate(0 212.90 199.25)"/>
<ellipse cx="39.50" cy="213.00" rx="0.7" ry="0.8" fill="#b8b8b8" opacity="1" transform="rotate(0 39.50 213.00)"/>
<ellipse cx="49.70" cy="213.00" rx="0.7" ry="0.8" fill="#b8b8b8" opacity="1" transform="rotate(0 49.70 213.00)"/>
<ellipse cx="59.90" cy="213.00" rx="0.7" ry="0.8" fill="#b8b8b8" opacity="1" transform="rotate(0 59.90 213.00)"/>
<ellipse cx="70.10" cy="213.00" rx="0.7" ry="0.8" fill="#b8b8b8" opacity="1" transform="rotate(0 70.10 213.00)"/>
<ellipse cx="80.30" cy="213.00" rx="0.7" ry="0.8" fill="#b8b8b8" opacity="1" transform="rotate(0 80.30 213.00)"/>
<ellipse cx="90.50" cy="213.00" rx="0.7" ry="0.8" fill="#b8b8b8" opacity="1" transform="rotate(0 90.50 213.00)"/>
<ellipse cx="100.70" cy="213.00" rx="0.7" ry="0.8" fill="#b8b8b8" opacity="1" transform="rotate(0 100.70 213.00)"/>
<ellipse cx="110.90" cy="213.00" rx="0.7" ry="0.8" fill="#b8b8b8" opacity="1" transform="rotate(0 110.90 213.00)"/>
<ellipse cx="121.10" cy="213.00" rx="0.7" ry="0.8" fill="#b8b8b8" opacity="1" transform="rotate(0 121.10 213.00)"/>
<ellipse cx="131.30" cy="213.00" rx="0.7" ry="0.8" fill="#b8b8b8" opacity="1" transform="rotate(0 131.30 213.00)"/>
<ellipse cx="141.50" cy="213.00" rx="0.7" ry="0.8" fill="#b8b8b8" opacity="1" transform="rotate(0 141.50 213.00)"/>
<ellipse cx="151.70" cy="213.00" rx="0.7" ry="0.8" fill="#b8b8b8" opacity="1" transform="rotate(0 151.70 213.00)"/>
<ellipse cx="161.90" cy="213.00" rx="0.7" ry="0.8" fill="#b8b8b8" opacity="1" transform="rotate(0 161.90 213.00)"/>
<ellipse cx="172.10" cy="213.00" rx="0.7" ry="0.8" fill="#b8b8b8" opacity="1" transform="rotate(0 172.10 213.00)"/>
<ellipse cx="182.30" cy="213.00" rx="0.7" ry="0.8" fill="#b8b8b8" opacity="1" transform="rotate(0 182.30 213.00)"/>
<ellipse cx="192.50" cy="213.00" rx="0.7" ry="0.8" fill="#b8b8b8" opacity="1" transform="rotate(0 192.50 213.00)"/>
<ellipse cx="202.70" cy="213.00" rx="0.7" ry="0.8" fill="#b8b8b8" opacity="1" transform="rotate(0 202.70 213.00)"/>
<ellipse cx="212.90" cy="213.00" rx="0.7" ry="0.8" fill="#b8b8b8" opacity="1" transform="rotate(0 212.90 213.00)"/>
<ellipse cx="80.30" cy="144.25" rx="2.0" ry="2.0" fill="#a8a8a8" opacity="1" transform="rotate(0 80.30 144.25)"/>
<ellipse cx="161.90" cy="144.25" rx="1.6" ry="1.6" fill="#e89070" opacity="1" transform="rotate(0 161.90 144.25)"/>
<ellipse cx="202.70" cy="144.25" rx="1.5" ry="1.5" fill="#d03030" opacity="1" transform="rotate(0 202.70 144.25)"/>
<ellipse cx="59.90" cy="144.25" rx="0.7" ry="0.7" fill="#909090" opacity="1" transform="rotate(0 59.90 144.25)"/>
<ellipse cx="121.10" cy="144.25" rx="0.6" ry="0.6" fill="#909090" opacity="1" transform="rotate(0 121.10 144.25)"/>
<ellipse cx="161.90" cy="158.00" rx="1.6" ry="1.6" fill="#e05030" opacity="1" transform="rotate(0 161.90 158.00)"/>
<ellipse cx="172.10" cy="158.00" rx="1.1" ry="1.1" fill="#8a1010" opacity="1" transform="rotate(0 172.10 158.00)"/>
<ellipse cx="182.30" cy="158.00" rx="0.8" ry="0.8" fill="#c02020" opacity="1" transform="rotate(0 182.30 158.00)"/>
<ellipse cx="192.50" cy="158.00" rx="2.0" ry="2.0" fill="#9a1020" opacity="1" transform="rotate(0 192.50 158.00)"/>
<ellipse cx="202.70" cy="158.00" rx="0.6" ry="0.6" fill="#4070a0" opacity="1" transform="rotate(0 202.70 158.00)"/>
<ellipse cx="131.30" cy="171.75" rx="1.6" ry="1.6" fill="#a81020" opacity="1" transform="rotate(0 131.30 171.75)"/>
<ellipse cx="141.50" cy="171.75" rx="1.3" ry="1.3" fill="#8a1818" opacity="1" transform="rotate(0 141.50 171.75)"/>
<ellipse cx="151.70" cy="171.75" rx="1.3" ry="1.3" fill="#8a1010" opacity="1" transform="rotate(0 151.70 171.75)"/>
<ellipse cx="110.90" cy="185.50" rx="2.0" ry="2.0" fill="#a81020" opacity="1" transform="rotate(0 110.90 185.50)"/>
<ellipse cx="121.10" cy="185.50" rx="2.0" ry="2.0" fill="#a81020" opacity="1" transform="rotate(0 121.10 185.50)"/>
<ellipse cx="39.50" cy="199.25" rx="1.1" ry="1.1" fill="#d0d0d0" opacity="1" transform="rotate(0 39.50 199.25)"/>
<ellipse cx="49.70" cy="199.25" rx="1.0" ry="1.0" fill="#7aaad0" opacity="1" transform="rotate(0 49.70 199.25)"/>
<ellipse cx="59.90" cy="199.25" rx="2.1" ry="2.1" fill="#c01820" opacity="1" transform="rotate(0 59.90 199.25)"/>
<ellipse cx="70.10" cy="199.25" rx="1.7" ry="1.7" fill="#e8908a" opacity="1" transform="rotate(0 70.10 199.25)"/>
<ellipse cx="80.30" cy="199.25" rx="2.0" ry="2.0" fill="#8a1020" opacity="1" transform="rotate(0 80.30 199.25)"/>
<ellipse cx="90.50" cy="199.25" rx="0.8" ry="0.8" fill="#901020" opacity="1" transform="rotate(0 90.50 199.25)"/>
<ellipse cx="100.70" cy="199.25" rx="0.8" ry="0.8" fill="#901020" opacity="1" transform="rotate(0 100.70 199.25)"/>
<ellipse cx="39.50" cy="213.00" rx="2.0" ry="2.0" fill="#a01020" opacity="1" transform="rotate(0 39.50 213.00)"/>
<ellipse cx="49.70" cy="213.00" rx="2.0" ry="2.0" fill="#a01020" opacity="1" transform="rotate(0 49.70 213.00)"/>
<ellipse cx="59.90" cy="213.00" rx="1.8" ry="1.8" fill="#d8d8d8" opacity="1" transform="rotate(0 59.90 213.00)"/>
<ellipse cx="70.10" cy="213.00" rx="1.8" ry="1.8" fill="#c83030" opacity="1" transform="rotate(0 70.10 213.00)"/>
<ellipse cx="80.30" cy="213.00" rx="0.9" ry="0.9" fill="#6a9a90" opacity="1" transform="rotate(0 80.30 213.00)"/>
<ellipse cx="202.70" cy="199.25" rx="0.75" ry="0.75" fill="#707070" opacity="1" transform="rotate(0 202.70 199.25)"/>
<ellipse cx="202.70" cy="213.00" rx="0.7" ry="0.7" fill="#808080" opacity="1" transform="rotate(0 202.70 213.00)"/>
<text x="220.80" y="153.72" font-size="3.58" text-anchor="start" fill="#111"  textLength="28.91" lengthAdjust="spacingAndGlyphs">Percent expressed</text>
<ellipse cx="227.50" cy="157.00" rx="0.3" ry="0.3" fill="#111" opacity="1" transform="rotate(0 227.50 157.00)"/>
<text x="230.80" y="158.21" font-size="3.30" text-anchor="start" fill="#111"  textLength="1.67" lengthAdjust="spacingAndGlyphs">0</text>
<ellipse cx="227.50" cy="161.75" rx="0.8" ry="0.8" fill="#111" opacity="1" transform="rotate(0 227.50 161.75)"/>
<text x="230.80" y="162.96" font-size="3.30" text-anchor="start" fill="#111"  textLength="3.34" lengthAdjust="spacingAndGlyphs">25</text>
<ellipse cx="227.50" cy="166.50" rx="1.2" ry="1.2" fill="#111" opacity="1" transform="rotate(0 227.50 166.50)"/>
<text x="230.80" y="167.71" font-size="3.30" text-anchor="start" fill="#111"  textLength="3.34" lengthAdjust="spacingAndGlyphs">50</text>
<ellipse cx="227.50" cy="171.25" rx="1.7" ry="1.7" fill="#111" opacity="1" transform="rotate(0 227.50 171.25)"/>
<text x="230.80" y="172.46" font-size="3.30" text-anchor="start" fill="#111"  textLength="3.34" lengthAdjust="spacingAndGlyphs">75</text>
<text x="220.80" y="182.62" font-size="3.52" text-anchor="start" fill="#111"  textLength="30.55" lengthAdjust="spacingAndGlyphs">Average Expression</text>
<defs><linearGradient id="cb" x1="0" y1="0" x2="0" y2="1"><stop offset="0" stop-color="#9a1030"/><stop offset="0.2" stop-color="#d03038"/><stop offset="0.42" stop-color="#f09c88"/><stop offset="0.58" stop-color="#f7f2f0"/><stop offset="0.78" stop-color="#a8c4e0"/><stop offset="1" stop-color="#2a64a8"/></linearGradient></defs>
<rect x="224.7" y="184.7" width="5" height="23.6" fill="url(#cb)"/>
<text x="231.00" y="185.91" font-size="3.30" text-anchor="start" fill="#111"  textLength="1.67" lengthAdjust="spacingAndGlyphs">2</text>
<text x="231.00" y="193.61" font-size="3.30" text-anchor="start" fill="#111"  textLength="1.67" lengthAdjust="spacingAndGlyphs">1</text>
<text x="231.00" y="200.71" font-size="3.30" text-anchor="start" fill="#111"  textLength="1.67" lengthAdjust="spacingAndGlyphs">0</text>
<text x="231.00" y="208.11" font-size="3.30" text-anchor="start" fill="#111"  textLength="2.67" lengthAdjust="spacingAndGlyphs">-1</text>
<text x="259.40" y="132.05" font-size="7.70" text-anchor="start" fill="#111"  textLength="5.06" lengthAdjust="spacingAndGlyphs" stroke="#111" stroke-width="0.27">C</text>
<rect x="277.90" y="210.86" width="6.8" height="3.64" fill="#2a6eae"/>
<rect x="277.90" y="159.21" width="6.8" height="51.65" fill="#f9e6a2"/>
<rect x="277.90" y="139.57" width="6.8" height="19.64" fill="#dd2a2a"/>
<rect x="285.60" y="213.04" width="6.8" height="1.46" fill="#5e7080"/>
<rect x="285.60" y="205.77" width="6.8" height="7.27" fill="#f9e6a2"/>
<rect x="285.60" y="197.04" width="6.8" height="8.73" fill="#dd2a2a"/>
<rect x="294.20" y="212.32" width="6.8" height="2.18" fill="#5e7080"/>
<rect x="294.20" y="158.48" width="6.8" height="53.83" fill="#f9e6a2"/>
<rect x="294.20" y="150.48" width="6.8" height="8.00" fill="#dd2a2a"/>
<rect x="302.70" y="213.77" width="6.8" height="0.73" fill="#c8b8d8"/>
<rect x="302.70" y="184.67" width="6.8" height="29.10" fill="#f9e6a2"/>
<rect x="302.70" y="160.66" width="6.8" height="24.01" fill="#dd2a2a"/>
<rect x="275.8" y="135.4" width="35.099999999999966" height="83.0" fill="none" stroke="#9a9a9a" stroke-width="0.6"/>
<line x1="274.6" y1="214.50" x2="275.8" y2="214.50" stroke="#444" stroke-width="0.5"/>
<text x="274.40" y="215.82" font-size="3.63" text-anchor="end" fill="#222"  textLength="1.84" lengthAdjust="spacingAndGlyphs">0</text>
<line x1="274.6" y1="199.95" x2="275.8" y2="199.95" stroke="#444" stroke-width="0.5"/>
<text x="274.40" y="201.27" font-size="3.63" text-anchor="end" fill="#222"  textLength="7.34" lengthAdjust="spacingAndGlyphs">1000</text>
<line x1="274.6" y1="185.40" x2="275.8" y2="185.40" stroke="#444" stroke-width="0.5"/>
<text x="274.40" y="186.72" font-size="3.63" text-anchor="end" fill="#222"  textLength="7.34" lengthAdjust="spacingAndGlyphs">2000</text>
<line x1="274.6" y1="170.85" x2="275.8" y2="170.85" stroke="#444" stroke-width="0.5"/>
<text x="274.40" y="172.17" font-size="3.63" text-anchor="end" fill="#222"  textLength="7.34" lengthAdjust="spacingAndGlyphs">3000</text>
<line x1="274.6" y1="156.30" x2="275.8" y2="156.30" stroke="#444" stroke-width="0.5"/>
<text x="274.40" y="157.62" font-size="3.63" text-anchor="end" fill="#222"  textLength="7.34" lengthAdjust="spacingAndGlyphs">4000</text>
<line x1="274.6" y1="141.75" x2="275.8" y2="141.75" stroke="#444" stroke-width="0.5"/>
<text x="274.40" y="143.07" font-size="3.63" text-anchor="end" fill="#222"  textLength="7.34" lengthAdjust="spacingAndGlyphs">5000</text>
<text transform="translate(263.7,182.5) rotate(-90)" font-size="5.28" font-weight="normal" text-anchor="middle" fill="#222" textLength="35.39" lengthAdjust="spacingAndGlyphs" y="0.17" stroke="#222" stroke-width="0.18">Average number</text>
<rect x="328.90" y="210.74" width="6.8" height="3.76" fill="#2a6eae"/>
<rect x="328.90" y="158.78" width="6.8" height="51.96" fill="#f9e6a2"/>
<rect x="328.90" y="139.20" width="6.8" height="19.58" fill="#dd2a2a"/>
<rect x="337.20" y="212.99" width="6.8" height="1.51" fill="#5e7080"/>
<rect x="337.20" y="176.85" width="6.8" height="36.14" fill="#f9e6a2"/>
<rect x="337.20" y="139.20" width="6.8" height="37.65" fill="#dd2a2a"/>
<rect x="345.40" y="212.24" width="6.8" height="2.26" fill="#5e7080"/>
<rect x="345.40" y="148.24" width="6.8" height="64.01" fill="#f9e6a2"/>
<rect x="345.40" y="139.20" width="6.8" height="9.04" fill="#dd2a2a"/>
<rect x="353.70" y="213.75" width="6.8" height="0.75" fill="#c8b8d8"/>
<rect x="353.70" y="172.71" width="6.8" height="41.04" fill="#f9e6a2"/>
<rect x="353.70" y="139.20" width="6.8" height="33.51" fill="#dd2a2a"/>
<rect x="327.2" y="135.4" width="35.0" height="83.0" fill="none" stroke="#9a9a9a" stroke-width="0.6"/>
<line x1="326" y1="214.50" x2="327.2" y2="214.50" stroke="#444" stroke-width="0.5"/>
<text x="325.90" y="215.82" font-size="3.63" text-anchor="end" fill="#222"  textLength="6.42" lengthAdjust="spacingAndGlyphs">0.00</text>
<line x1="326" y1="195.68" x2="327.2" y2="195.68" stroke="#444" stroke-width="0.5"/>
<text x="325.90" y="197.00" font-size="3.63" text-anchor="end" fill="#222"  textLength="6.42" lengthAdjust="spacingAndGlyphs">0.25</text>
<line x1="326" y1="176.85" x2="327.2" y2="176.85" stroke="#444" stroke-width="0.5"/>
<text x="325.90" y="178.17" font-size="3.63" text-anchor="end" fill="#222"  textLength="6.42" lengthAdjust="spacingAndGlyphs">0.50</text>
<line x1="326" y1="158.03" x2="327.2" y2="158.03" stroke="#444" stroke-width="0.5"/>
<text x="325.90" y="159.34" font-size="3.63" text-anchor="end" fill="#222"  textLength="6.42" lengthAdjust="spacingAndGlyphs">0.75</text>
<line x1="326" y1="139.20" x2="327.2" y2="139.20" stroke="#444" stroke-width="0.5"/>
<text x="325.90" y="140.52" font-size="3.63" text-anchor="end" fill="#222"  textLength="6.42" lengthAdjust="spacingAndGlyphs">1.00</text>
<text transform="translate(317.3,176.2) rotate(-90)" font-size="5.50" textLength="31" lengthAdjust="spacingAndGlyphs" text-anchor="middle" fill="#111" y="0.18" stroke="#111" stroke-width="0.19">Cell proportion</text>
<text transform="translate(282.79999999999995,222.6) rotate(-45)" font-size="4.73" text-anchor="end" fill="#111" textLength="21.73" lengthAdjust="spacingAndGlyphs" y="0.15" stroke="#111" stroke-width="0.16">DLBCL002</text>
<text transform="translate(333.79999999999995,222.6) rotate(-45)" font-size="4.73" text-anchor="end" fill="#111" textLength="21.73" lengthAdjust="spacingAndGlyphs" y="0.15" stroke="#111" stroke-width="0.16">DLBCL002</text>
<text transform="translate(290.5,222.6) rotate(-45)" font-size="4.73" text-anchor="end" fill="#111" textLength="21.73" lengthAdjust="spacingAndGlyphs" y="0.15" stroke="#111" stroke-width="0.16">DLBCL007</text>
<text transform="translate(342.09999999999997,222.6) rotate(-45)" font-size="4.73" text-anchor="end" fill="#111" textLength="21.73" lengthAdjust="spacingAndGlyphs" y="0.15" stroke="#111" stroke-width="0.16">DLBCL007</text>
<text transform="translate(299.09999999999997,222.6) rotate(-45)" font-size="4.73" text-anchor="end" fill="#111" textLength="21.27" lengthAdjust="spacingAndGlyphs" y="0.15" stroke="#111" stroke-width="0.16">DLBCL111</text>
<text transform="translate(350.29999999999995,222.6) rotate(-45)" font-size="4.73" text-anchor="end" fill="#111" textLength="21.27" lengthAdjust="spacingAndGlyphs" y="0.15" stroke="#111" stroke-width="0.16">DLBCL111</text>
<text transform="translate(307.59999999999997,222.6) rotate(-45)" font-size="4.73" text-anchor="end" fill="#111" textLength="5.02" lengthAdjust="spacingAndGlyphs" y="0.15" stroke="#111" stroke-width="0.16">T2</text>
<text transform="translate(358.59999999999997,222.6) rotate(-45)" font-size="4.73" text-anchor="end" fill="#111" textLength="5.02" lengthAdjust="spacingAndGlyphs" y="0.15" stroke="#111" stroke-width="0.16">T2</text>
<text x="365.80" y="162.69" font-size="5.72" text-anchor="start" fill="#111"  textLength="25.56" lengthAdjust="spacingAndGlyphs" stroke="#111" stroke-width="0.20">Cell Types</text>
<rect x="365.7" y="166.45" width="3.3" height="3.3" fill="#dd2a2a"/>
<text x="371.00" y="169.87" font-size="5.06" text-anchor="start" fill="#111"  textLength="14.81" lengthAdjust="spacingAndGlyphs" stroke="#111" stroke-width="0.18">B cells</text>
<rect x="365.7" y="171.10" width="3.3" height="3.3" fill="#2aa040"/>
<text x="371.00" y="174.52" font-size="5.06" text-anchor="start" fill="#111"  textLength="27.33" lengthAdjust="spacingAndGlyphs" stroke="#111" stroke-width="0.18">plasma cells</text>
<rect x="365.7" y="175.75" width="3.3" height="3.3" fill="#f9e6a2"/>
<text x="371.00" y="179.17" font-size="5.06" text-anchor="start" fill="#111"  textLength="14.31" lengthAdjust="spacingAndGlyphs" stroke="#111" stroke-width="0.18">T cells</text>
<rect x="365.7" y="180.40" width="3.3" height="3.3" fill="#e8f0c0"/>
<text x="371.00" y="183.82" font-size="5.06" text-anchor="start" fill="#111"  textLength="18.14" lengthAdjust="spacingAndGlyphs" stroke="#111" stroke-width="0.18">NK cells</text>
<rect x="365.7" y="185.05" width="3.3" height="3.3" fill="#2a6aae"/>
<text x="371.00" y="188.47" font-size="5.06" text-anchor="start" fill="#111"  textLength="28.61" lengthAdjust="spacingAndGlyphs" stroke="#111" stroke-width="0.18">Myeloid cells</text>
<rect x="365.7" y="189.70" width="3.3" height="3.3" fill="#6a3aa0"/>
<text x="371.00" y="193.12" font-size="5.06" text-anchor="start" fill="#111"  textLength="14.81" lengthAdjust="spacingAndGlyphs" stroke="#111" stroke-width="0.18">Others</text>
</svg></div></body></html>
